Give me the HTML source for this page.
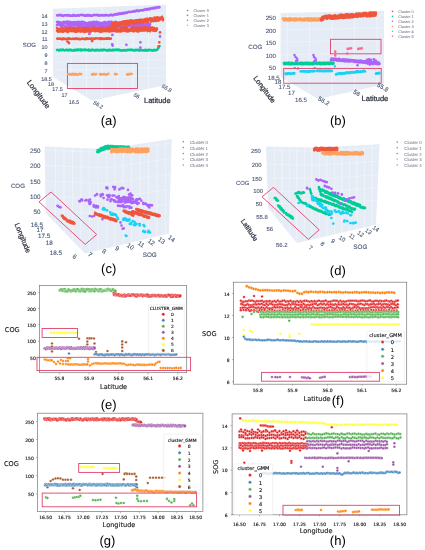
<!DOCTYPE html>
<html><head><meta charset="utf-8"><style>
html,body{margin:0;padding:0;background:#fff;}
svg{display:block;} text{text-rendering:geometricPrecision;}
</style></head><body>
<svg width="425" height="550" viewBox="0 0 425 550">
<defs><filter id="b" x="0" y="0" width="100%" height="100%"><feGaussianBlur stdDeviation="0.45"/></filter></defs><g filter="url(#b)"><rect width="425" height="550" fill="#fff"/>
<polygon points="53,8.8 166,4.5 166,85 92,100.5 53,77" fill="#E5ECF6" stroke="none" stroke-width="0"/>
<line x1="71" y1="8.1" x2="71" y2="87.8" stroke="#fff" stroke-width="0.5" opacity="0.75"/>
<line x1="86.6" y1="7.5" x2="86.6" y2="97.2" stroke="#fff" stroke-width="0.5" opacity="0.75"/>
<line x1="102" y1="6.9" x2="102" y2="98.4" stroke="#fff" stroke-width="0.5" opacity="0.75"/>
<line x1="117.5" y1="6.3" x2="117.5" y2="95.1" stroke="#fff" stroke-width="0.5" opacity="0.75"/>
<line x1="133" y1="5.8" x2="133" y2="91.9" stroke="#fff" stroke-width="0.5" opacity="0.75"/>
<line x1="148.5" y1="5.2" x2="148.5" y2="88.6" stroke="#fff" stroke-width="0.5" opacity="0.75"/>
<line x1="53" y1="15.5" x2="166" y2="13" stroke="#fff" stroke-width="0.4" opacity="0.7"/>
<line x1="53" y1="23.3" x2="166" y2="20.8" stroke="#fff" stroke-width="0.4" opacity="0.7"/>
<line x1="53" y1="31.2" x2="166" y2="28.7" stroke="#fff" stroke-width="0.4" opacity="0.7"/>
<line x1="53" y1="39" x2="166" y2="36.5" stroke="#fff" stroke-width="0.4" opacity="0.7"/>
<line x1="53" y1="46.8" x2="166" y2="44.3" stroke="#fff" stroke-width="0.4" opacity="0.7"/>
<line x1="53" y1="54.6" x2="166" y2="52.1" stroke="#fff" stroke-width="0.4" opacity="0.7"/>
<line x1="53" y1="62.5" x2="166" y2="60" stroke="#fff" stroke-width="0.4" opacity="0.7"/>
<line x1="53" y1="70.3" x2="166" y2="67.8" stroke="#fff" stroke-width="0.4" opacity="0.7"/>
<line x1="53" y1="78.1" x2="166" y2="75.6" stroke="#fff" stroke-width="0.4" opacity="0.7"/>
<text x="47.5" y="17.91" font-size="5.4" fill="#4a5876" text-anchor="end" font-family="Liberation Sans" stroke="#4a5876" stroke-width="0.12">14</text>
<text x="47.5" y="25.74" font-size="5.4" fill="#4a5876" text-anchor="end" font-family="Liberation Sans" stroke="#4a5876" stroke-width="0.12">13</text>
<text x="47.5" y="33.57" font-size="5.4" fill="#4a5876" text-anchor="end" font-family="Liberation Sans" stroke="#4a5876" stroke-width="0.12">12</text>
<text x="47.5" y="41.4" font-size="5.4" fill="#4a5876" text-anchor="end" font-family="Liberation Sans" stroke="#4a5876" stroke-width="0.12">11</text>
<text x="47.5" y="49.23" font-size="5.4" fill="#4a5876" text-anchor="end" font-family="Liberation Sans" stroke="#4a5876" stroke-width="0.12">10</text>
<text x="47.5" y="57.06" font-size="5.4" fill="#4a5876" text-anchor="end" font-family="Liberation Sans" stroke="#4a5876" stroke-width="0.12">9</text>
<text x="47.5" y="64.89" font-size="5.4" fill="#4a5876" text-anchor="end" font-family="Liberation Sans" stroke="#4a5876" stroke-width="0.12">8</text>
<text x="47.5" y="72.72" font-size="5.4" fill="#4a5876" text-anchor="end" font-family="Liberation Sans" stroke="#4a5876" stroke-width="0.12">7</text>
<text x="22.7" y="46.99" font-size="6" fill="#4a5876" font-family="Liberation Sans" stroke="#4a5876" stroke-width="0.12">SOG</text>
<text x="29" y="83.64" font-size="7.6" fill="#2b2f3e" font-family="Liberation Sans" transform="rotate(53 29 80.5)" stroke="#2b2f3e" stroke-width="0.22">Longitude</text>
<text x="46.5" y="81.31" font-size="5.4" fill="#4a5876" text-anchor="middle" font-family="Liberation Sans" stroke="#4a5876" stroke-width="0.12">18.5</text>
<text x="51" y="86.11" font-size="5.4" fill="#4a5876" text-anchor="middle" font-family="Liberation Sans" stroke="#4a5876" stroke-width="0.12">18</text>
<text x="57.5" y="91.31" font-size="5.4" fill="#4a5876" text-anchor="middle" font-family="Liberation Sans" stroke="#4a5876" stroke-width="0.12">17.5</text>
<text x="64.5" y="96.81" font-size="5.4" fill="#4a5876" text-anchor="middle" font-family="Liberation Sans" stroke="#4a5876" stroke-width="0.12">17</text>
<text x="74" y="104.31" font-size="5.4" fill="#4a5876" text-anchor="middle" font-family="Liberation Sans" stroke="#4a5876" stroke-width="0.12">16.5</text>
<text x="98.5" y="106.81" font-size="5.4" fill="#4a5876" text-anchor="middle" font-family="Liberation Sans" transform="rotate(30 98.5 104.5)" stroke="#4a5876" stroke-width="0.12">56.2</text>
<text x="137" y="97.81" font-size="5.4" fill="#4a5876" text-anchor="middle" font-family="Liberation Sans" transform="rotate(30 137 95.5)" stroke="#4a5876" stroke-width="0.12">56</text>
<text x="167" y="90.31" font-size="5.4" fill="#4a5876" text-anchor="middle" font-family="Liberation Sans" transform="rotate(30 167 88)" stroke="#4a5876" stroke-width="0.12">55.8</text>
<text x="144" y="102.61" font-size="7.5" fill="#2b2f3e" font-family="Liberation Sans" stroke="#2b2f3e" stroke-width="0.22">Latitude</text>
<path d="M57 15.3h0M57.6 15.6h0M58.2 15.5h0M58.8 15.1h0M59.4 15.1h0M60 15.1h0M60.6 15.4h0M61.2 15.1h0M61.8 15.6h0M62.4 15.5h0M63 15.9h0M63.6 15.8h0M64.2 15.2h0M64.8 15.3h0M65.4 15.2h0M66 15.6h0M66.6 15.5h0M67.2 15.1h0M67.8 15.6h0M68.4 15.3h0M69 15.4h0M69.6 15.7h0M70.2 15.2h0M70.8 15.5h0M71.4 15.7h0M72 15.9h0M72.6 15.4h0M73.2 15.1h0M73.8 15h0M74.4 15.7h0M75 15.8h0M75.6 15.6h0M76.2 15.5h0M76.8 15.7h0M77.4 15.4h0M78 15h0M78.6 15.6h0M79.2 15.7h0M79.8 15.3h0M80.4 15h0M81 15.1h0M81.6 15h0M82.2 15.1h0M82.8 15.3h0M83.4 15h0M84 15.4h0M84.6 15.7h0M85.2 15.2h0M85.8 15.3h0M86.4 15.8h0M87 15.1h0M87.6 15.1h0M88.2 15.5h0M88.8 14.9h0M89.4 15.3h0M90 15.8h0M90.6 15.4h0M91.2 15.5h0M91.8 15.7h0M92.4 15.7h0M93 15.3h0M93.6 15h0M94.2 15h0M94.8 15.1h0M95.4 15.2h0M96 14.9h0M96.6 15h0M97.2 14.9h0M97.8 15.4h0M98.4 15.1h0M99 15.2h0M99.6 15.7h0M100.2 15.3h0M100.8 15h0M101.4 15.2h0M102 15.6h0M102.6 14.9h0M103.2 15.4h0M103.8 15.4h0M104.4 15.3h0M105 15.6h0M105.6 15.1h0M106.2 15h0M106.8 15.3h0M107.4 15.2h0M108 15.6h0M108.6 15.6h0M109.2 15.6h0M109.8 15.1h0M110.4 15.1h0M111 14.7h0M111.6 14.8h0M112.2 15.4h0M112.8 15.2h0M113.4 15.2h0M114 14.4h0M114.6 14.3h0M115.2 14.6h0M115.8 14.7h0M116.4 14.4h0M117 13.8h0M117.6 14.4h0M118.2 14.2h0M118.8 13.6h0M119.4 13.6h0M120 14.1h0M120.6 13.5h0M121.2 13.7h0M121.8 13.1h0M122.4 13.7h0M123 12.9h0M123.6 13.5h0M124.2 12.9h0M124.8 12.6h0M125.4 13.2h0M126 12.7h0M126.6 12.6h0M127.2 12.8h0M127.8 12.2h0M128.4 12.1h0M129 12h0M129.6 11.8h0M130.2 11.9h0M130.8 12h0M131.4 11.8h0M132 11.7h0M132.6 11.7h0M133.2 11.5h0M133.8 11h0M134.4 11.1h0M135 11.5h0M135.6 11h0M136.2 11.1h0M136.8 10.6h0M137.4 10.6h0M138 11h0M138.6 10.7h0M139.2 10.9h0M139.8 10.6h0M140.4 10.4h0M141 10.2h0M141.6 10.2h0M142.2 10.3h0M142.8 10.4h0M143.4 9.9h0M144 10.1h0M144.6 9.4h0M145.2 9.2h0M145.8 9.1h0M146.4 9.7h0M147 9h0M147.6 9.4h0M148.2 9.5h0M148.8 8.8h0M149.4 8.8h0M150 9.3h0M150.6 8.4h0M151.2 8.6h0M151.8 8.3h0M152.4 8.6h0M153 8.4h0M153.6 7.8h0M154.2 8.3h0M154.8 7.7h0M155.4 8.2h0M156 7.5h0M156.6 7.3h0M157.2 7.4h0M157.8 7.5h0M158.4 7.7h0M159 7h0M159.6 7.3h0" stroke="#AB63FA" stroke-width="2.50" stroke-linecap="round" fill="none"/>
<path d="M57 22.1h0M57 25.1h0M57.5 22.1h0M57.5 24.9h0M58 22.1h0M58 22h0M58.5 24h0M58.5 24.5h0M59 23h0M59 24.3h0M59.5 22.2h0M59.5 22h0M60 23.3h0M60 25.5h0M60.5 24.2h0M60.5 23.4h0M61 23h0M61 25.4h0M61.5 22.6h0M61.5 26.4h0M62 25.8h0M62 24.2h0M62.5 23.7h0M62.5 25.1h0M63 23.4h0M63 25.2h0M63.5 23.7h0M63.5 22h0M64 22.1h0M64 23h0M64.5 22.1h0M64.5 26.1h0M65 23.1h0M65 23.2h0M65.5 22.5h0M65.5 23h0M66 26.6h0M66 22.9h0M66.5 23.2h0M66.5 21.7h0M67 24.1h0M67 22.7h0M67.5 21.7h0M67.5 22.1h0M68 21.9h0M68 23.2h0M68.5 24.6h0M68.5 25.5h0M69 25.3h0M69 23.6h0M69.5 26.6h0M69.5 25.3h0M70 21.9h0M70 26.2h0M70.5 25.4h0M70.5 22.4h0M71 24.2h0M71 25.7h0M71.5 24.6h0M71.5 25.1h0M72 22.8h0M72 22.4h0M72.5 22.2h0M72.5 24.5h0M73 24.8h0M73 24.1h0M73.5 25.7h0M73.5 24.2h0M74 25h0M74 25.4h0M74.5 22.1h0M74.5 25.3h0M75 25.4h0M75 24.2h0M75.5 24.1h0M75.5 25.5h0M76 24.9h0M76 22.4h0M76.5 25.4h0M76.5 24.5h0M77 22h0M77 25.1h0M77.5 25.1h0M77.5 24.3h0M78 24h0M78 26.2h0M78.5 26.6h0M78.5 21.8h0M79 25.8h0M79 23.9h0M79.5 22.7h0M79.5 22.8h0M80 22.4h0M80 26.5h0M80.5 25.8h0M80.5 26.1h0M81 22.9h0M81 24.1h0M81.5 21.7h0M81.5 24h0M82 22.4h0M82 23.3h0M82.5 21.7h0M82.5 25.9h0M83 26.3h0M83 26.2h0M83.5 23.6h0M83.5 26.7h0M84 23.5h0M84 23.1h0M84.5 22.2h0M84.5 23.1h0M85 22.9h0M85 24.3h0M85.5 23.6h0M85.5 26.1h0M86 24.9h0M86 26.4h0M86.5 25.3h0M86.5 25.4h0M87 25.5h0M87 23.1h0M87.5 26.3h0M87.5 24.1h0M88 23.2h0M88 26.6h0M88.5 25h0M88.5 24.5h0M89 22.5h0M89 22.7h0M89.5 24.2h0M89.5 26.2h0M90 23.9h0M90 22.7h0M90.5 23.4h0M90.5 22.9h0M91 24.5h0M91 25.4h0M91.5 23.8h0M91.5 23.6h0M92 22h0M92 26.5h0M92.5 24.2h0M92.5 26h0M93 23.1h0M93 23.7h0M93.5 26.5h0M93.5 26.1h0M94 21.9h0M94 26.2h0M94.5 24.6h0M94.5 23.7h0M95 25.8h0M95 26.6h0M95.5 22.2h0M95.5 24.3h0M96 26.4h0M96 24.9h0M96.5 24h0M96.5 21.9h0M97 22.9h0M97 24.9h0M97.5 22.3h0M97.5 24.9h0M98 22.3h0M98 24.3h0M98.5 23.6h0M98.5 24.7h0M99 23.2h0M99 26.5h0M99.5 26.1h0M99.5 22.9h0M100 26.5h0M100 23.2h0M100.5 24.2h0M100.5 23.8h0M101 25h0M101 22.8h0M101.5 23.4h0M101.5 25.1h0M102 25.7h0M102 24.2h0M102.5 26.5h0M102.5 25.8h0M103 22.8h0M103 23.2h0M103.5 24.2h0M103.5 22.8h0M104 25h0M104 22.4h0M104.5 22.8h0M104.5 22.4h0M105 22h0M105 26.2h0M105.5 25.4h0M105.5 26.4h0M106 22.6h0M106 25.4h0M106.5 25h0M106.5 23.6h0M107 22.5h0M107 23.1h0M107.5 26.5h0M107.5 26.5h0M108 23.5h0M108 25.8h0M108.5 21.9h0M108.5 23.6h0M109 22.7h0M109 26.2h0M109.5 23.8h0M109.5 25.5h0M110 21.9h0M110 26.3h0M110.5 25.4h0M110.5 23.4h0M111 26.5h0M111 23h0M111.5 23.3h0M111.5 21.7h0M112 26.3h0M112 26.4h0M112.5 22.9h0M112.5 26.5h0M113 23.6h0M113 23.8h0M113.5 26.3h0M113.5 25.7h0M114 25.8h0M114 24.7h0M114.5 23.3h0M114.5 25.6h0M115 22.7h0M115 22.9h0M115.5 21.9h0M115.5 23.4h0M116 26.2h0M116 23.1h0M116.5 22.3h0M116.5 25.3h0M117 23h0M117 24.9h0M117.5 25.6h0M117.5 25.2h0M118 26.1h0M118 24.7h0M118.5 25.6h0M118.5 23.1h0M119 22.7h0M119 24.8h0M119.5 23.9h0M119.5 24.5h0M120 26h0M120 26.9h0M120.5 24.4h0M120.5 26.2h0M121 22.2h0M121 22.6h0M121.5 26.9h0M121.5 26.7h0M122 26.4h0M122 23.4h0M122.5 26.8h0M122.5 25.1h0M123 23.2h0M123 22.8h0M123.5 23.4h0M123.5 25.4h0M124 22.2h0M124 25.6h0M124.5 23.7h0M124.5 26.2h0M125 22.5h0M125 24.2h0M125.5 25.4h0M125.5 23.1h0M126 24.3h0M126 23.8h0M126.5 23.9h0M126.5 24.1h0M127 26.6h0M127 24.1h0M127.5 26h0M127.5 22.4h0M128 24.5h0M128 24.4h0M128.5 24.7h0M128.5 22.5h0M129 25.6h0M129 22.9h0M129.5 24.3h0M129.5 23.2h0M130 25.1h0M130 23h0M130.5 26.5h0M130.5 23.5h0M131 27.2h0M131 24.9h0M131.5 27.2h0M131.5 27.1h0M132 26.7h0M132 26.5h0M132.5 24.6h0M132.5 26.7h0M133 23.7h0M133 25.2h0M133.5 23.3h0M133.5 26.3h0M134 22.9h0M134 26.5h0M134.5 26.9h0M134.5 25.7h0M135 25.9h0M135 24.8h0M135.5 24.9h0M135.5 25h0M136 22.9h0M136 25.2h0M136.5 26.6h0M136.5 25.1h0M137 25.2h0M137 23.5h0M137.5 23.3h0M137.5 25.4h0M138 26.1h0M138 26.6h0M138.5 25.5h0M138.5 25.4h0M139 27.7h0M139 27.2h0M139.5 26.6h0M139.5 23.9h0M140 25.4h0M140 27.6h0M140.5 27h0M140.5 23.3h0M141 26.8h0M141 27.5h0M141.5 27.1h0M141.5 25.6h0M142 24.1h0M142 25.6h0M142.5 23.3h0M142.5 23.9h0M143 26.5h0M143 24h0M143.5 23.7h0M143.5 26.3h0M144 27.6h0M144 26.1h0M144.5 23.7h0M144.5 26.4h0M145 27.2h0M145 28.2h0M145.5 25.1h0M145.5 25.5h0M146 27h0M146 27.4h0M146.5 26.5h0M146.5 26.2h0M147 24.9h0M147 23.5h0M147.5 26.5h0M147.5 25.9h0M148 24.1h0M148 26.7h0M148.5 23.4h0M148.5 24h0M149 24.6h0M149 26.4h0M149.5 26.6h0M149.5 24.1h0M150 24.7h0M150 24h0" stroke="#AB63FA" stroke-width="2.60" stroke-linecap="round" fill="none"/>
<path d="M112 26h0M112 24.2h0M112.5 22.7h0M112.5 24.8h0M113 25h0M113 26.1h0M113.5 23.5h0M113.5 22.7h0M114 24h0M114 22.7h0M114.5 22.4h0M114.5 26h0M115 23.1h0M115 24.3h0M115.5 25.4h0M115.5 23.5h0M116 22.4h0M116 25.2h0M116.5 22.2h0M116.5 25h0M117 24.9h0M117 23h0M117.5 22.9h0M117.5 23.3h0M118 24.6h0M118 24.7h0M118.5 24h0M118.5 24.9h0M119 22.9h0M119 25.5h0M119.5 25.1h0M119.5 22.8h0M120 24.6h0M120 24.6h0M120.5 25h0M120.5 22.6h0M121 24h0M121 24.2h0M121.5 23.3h0M121.5 24.2h0M122 23.2h0M122 23.7h0M122.5 22.2h0M122.5 21.7h0M123 21.9h0M123 21.8h0M123.5 22.6h0M123.5 21.4h0M124 23.9h0M124 23.9h0M124.5 21.5h0M124.5 22.6h0M125 24.3h0M125 21.4h0M125.5 24.6h0M125.5 21.5h0M126 21.5h0M126 24.2h0M126.5 23.4h0M126.5 23.4h0M127 21.3h0M127 23.8h0M127.5 22.1h0M127.5 20.9h0M128 21.9h0M128 22.2h0M128.5 24.4h0M128.5 24h0M129 20.8h0M129 22.3h0M129.5 21.9h0M129.5 22.7h0M130 23.8h0M130 23.7h0M130.5 20.5h0M130.5 23.4h0M131 20.4h0M131 22.3h0M131.5 21.1h0M131.5 21.7h0M132 21.3h0M132 21.4h0M132.5 22.9h0M132.5 20.7h0M133 20.5h0M133 22.8h0M133.5 22.5h0M133.5 21.7h0M134 23.5h0M134 23.4h0M134.5 20.8h0M134.5 23.4h0M135 21.4h0M135 20.8h0M135.5 21.9h0M135.5 22.8h0M136 21.2h0M136 20.4h0M136.5 22.3h0M136.5 20.4h0M137 22.6h0M137 20.2h0M137.5 23h0M137.5 20.4h0M138 22.3h0M138 20.2h0M138.5 20.5h0M138.5 21.5h0M139 20.7h0M139 23.2h0M139.5 19.8h0M139.5 19.8h0M140 23.1h0M140 22.1h0M140.5 20h0M140.5 19.7h0M141 20.7h0M141 20.7h0M141.5 21.8h0M141.5 21.6h0M142 19.7h0M142 20.6h0M142.5 22.5h0M142.5 21.2h0M143 20.6h0M143 21.7h0M143.5 21.9h0M143.5 22.2h0M144 21.3h0M144 20.1h0M144.5 19.2h0M144.5 21.8h0M145 21.1h0M145 20.4h0M145.5 21.1h0M145.5 21.3h0M146 19.3h0M146 21.6h0M146.5 20.4h0M146.5 18.7h0M147 19.1h0M147 22.1h0M147.5 18.8h0M147.5 20.5h0M148 20.3h0M148 21.5h0M148.5 19.9h0M148.5 19.1h0M149 19.8h0M149 18.7h0M149.5 19.6h0M149.5 19.3h0M150 18.2h0M150 19.8h0M150.5 19.4h0M150.5 18.9h0M151 21.6h0M151 18.9h0M151.5 19.5h0M151.5 18.5h0M152 21h0M152 19.7h0M152.5 18.7h0M152.5 19.2h0M153 20.9h0M153 19.6h0M153.5 19.8h0M153.5 20.9h0M154 20.9h0M154 19.1h0M154.5 19.2h0M154.5 17.6h0M155 18.6h0M155 18.7h0M155.5 19.1h0M155.5 20h0M156 21h0M156 17.7h0M156.5 20.8h0M156.5 17.9h0M157 19.7h0M157 17.4h0M157.5 19.8h0M157.5 17.6h0M158 18.1h0M158 18.5h0M158.5 20.6h0M158.5 17.8h0M159 19.4h0M159 19.6h0M159.5 20h0M159.5 17.8h0M160 19h0M160 18.6h0M160.5 19h0M160.5 17.8h0M161 18.7h0M161 18.6h0M161.5 18.6h0M161.5 18.8h0M162 16.7h0M162 18.5h0M162.5 19.2h0M162.5 18.1h0M163 20.3h0M163 19h0" stroke="#EF553B" stroke-width="2.60" stroke-linecap="round" fill="none"/>
<path d="M57 28h0M57 30.8h0M57.5 29.3h0M57.5 30h0M58 31.7h0M58 30.9h0M58.5 29.3h0M58.5 29.4h0M59 30.1h0M59 28.8h0M59.5 29.7h0M59.5 31.4h0M60 31.4h0M60 30h0M60.5 30h0M60.5 30.6h0M61 29.3h0M61 29.1h0M61.5 30.5h0M61.5 28h0M62 31.6h0M62 28.1h0M62.5 27.9h0M62.5 31.7h0M63 30.6h0M63 31.7h0M63.5 30.4h0M63.5 30.8h0M64 30.7h0M64 30.6h0M64.5 31h0M64.5 28.6h0M65 31.1h0M65 30.6h0M65.5 31.3h0M65.5 30.2h0M66 29.1h0M66 29.2h0M66.5 30.5h0M66.5 28.1h0M67 28h0M67 31.2h0M67.5 31.7h0M67.5 27.9h0M68 30.3h0M68 31.9h0M68.5 29.5h0M68.5 30.5h0M69 28.4h0M69 27.8h0M69.5 28.3h0M69.5 28.2h0M70 28.3h0M70 30.8h0M70.5 30.9h0M70.5 28h0M71 30.8h0M71 30.9h0M71.5 30.4h0M71.5 29.7h0M72 28.8h0M72 30.8h0M72.5 27.8h0M72.5 31.2h0M73 29.1h0M73 28.5h0M73.5 29.8h0M73.5 29.3h0M74 29.6h0M74 28.4h0M74.5 29.3h0M74.5 30.4h0M75 29.4h0M75 31.7h0M75.5 30.1h0M75.5 28h0M76 30.7h0M76 29.1h0M76.5 31.8h0M76.5 30.3h0M77 29.5h0M77 29.3h0M77.5 30.3h0M77.5 31.1h0M78 27.7h0M78 29.5h0M78.5 31.2h0M78.5 27.9h0M79 31.1h0M79 30.1h0M79.5 31.3h0M79.5 30.6h0M80 29.2h0M80 30h0M80.5 28.6h0M80.5 31.6h0M81 30.3h0M81 29.7h0M81.5 28.8h0M81.5 31h0M82 28.1h0M82 30.9h0M82.5 30.1h0M82.5 31.4h0M83 29.7h0M83 28.5h0M83.5 28.4h0M83.5 29.2h0M84 29.4h0M84 28.3h0M84.5 31.9h0M84.5 28.1h0M85 31h0M85 30.2h0M85.5 29.9h0M85.5 27.8h0M86 31.3h0M86 30.1h0M86.5 30.9h0M86.5 31.6h0M87 31.1h0M87 28.7h0M87.5 28.5h0M87.5 28h0M88 30h0M88 29.6h0M88.5 31.5h0M88.5 30.2h0M89 28.1h0M89 28.7h0M89.5 30.3h0M89.5 30.5h0M90 29.5h0M90 31.7h0M90.5 28.6h0M90.5 28.7h0M91 31.4h0M91 31.1h0M91.5 30.9h0M91.5 30.3h0M92 27.9h0M92 30.8h0M92.5 30.5h0M92.5 30.1h0M93 28.1h0M93 28.7h0M93.5 29.6h0M93.5 28.6h0M94 30.5h0M94 30.6h0M94.5 27.8h0M94.5 28.5h0M95 31.2h0M95 28.2h0M95.5 28h0M95.5 31.1h0M96 29.5h0M96 31h0M96.5 30.2h0M96.5 28.5h0M97 30.6h0M97 28.2h0M97.5 28.7h0M97.5 28.2h0M98 31.1h0M98 28.3h0M98.5 28.9h0M98.5 28h0M99 27.8h0M99 30.4h0M99.5 29.6h0M99.5 28.6h0M100 29.1h0M100 31.7h0M100.5 28h0M100.5 31.3h0M101 30.6h0M101 31.7h0M101.5 30.9h0M101.5 28.1h0M102 31h0M102 28.3h0M102.5 31.4h0M102.5 29.9h0M103 28.3h0M103 30.5h0M103.5 27.9h0M103.5 30.1h0M104 28.7h0M104 30.1h0M104.5 30.9h0M104.5 28.4h0M105 30.6h0M105 30.5h0M105.5 30.9h0M105.5 31h0M106 29.6h0M106 31.3h0M106.5 31.2h0M106.5 28.3h0M107 29h0M107 29.1h0M107.5 27.5h0M107.5 29.4h0M108 28h0M108 30.9h0M108.5 28.8h0M108.5 29.1h0M109 27.7h0M109 31.5h0M109.5 29.6h0M109.5 29.7h0M110 31.5h0M110 28.2h0M110.5 28.5h0M110.5 27.6h0M111 30.4h0M111 27.5h0M111.5 29.9h0M111.5 30.4h0M112 31.1h0M112 27.6h0M112.5 29.5h0M112.5 28.6h0M113 29.2h0M113 29.9h0M113.5 28.1h0M113.5 30.6h0M114 30.9h0M114 29.1h0M114.5 31h0M114.5 29.1h0M115 30.7h0M115 28.4h0M115.5 29.3h0M115.5 30.8h0M116 30.9h0M116 27.7h0M116.5 31.4h0M116.5 28.5h0M117 30.1h0M117 29.6h0M117.5 29.2h0M117.5 27.5h0M118 31.5h0M118 31.3h0M118.5 30.8h0M118.5 31.1h0M119 30.1h0M119 30.3h0M119.5 29.7h0M119.5 30h0M120 29.6h0M120 31.4h0M120.5 28.7h0M120.5 27.9h0M121 31.4h0M121 28.5h0M121.5 29.6h0M121.5 27.9h0M122 28.6h0M122 28.6h0M122.5 27.7h0M122.5 30.9h0M123 29.8h0M123 28.2h0M123.5 29.3h0M123.5 29.9h0M124 28.7h0M124 28.3h0M124.5 29h0M124.5 27.4h0M125 31h0M125 29.7h0M125.5 28.5h0M125.5 28.6h0M126 28h0M126 31h0M126.5 27.6h0M126.5 29.2h0M127 27.8h0M127 31.4h0M127.5 28h0M127.5 28.8h0M128 29.9h0M128 30.8h0M128.5 30.4h0M128.5 30.5h0M129 30.6h0M129 31.2h0M129.5 31h0M129.5 30.5h0M130 29.4h0M130 29.7h0M130.5 30.6h0M130.5 29.9h0M131 29.2h0M131 30.3h0M131.5 28.9h0M131.5 28.9h0M132 30.6h0M132 29.4h0M132.5 28.1h0M132.5 27.9h0M133 29.7h0M133 31.2h0M133.5 30.8h0M133.5 31.3h0M134 29.1h0M134 27.3h0M134.5 29.7h0M134.5 31.1h0M135 29.5h0M135 29.4h0M135.5 30.1h0M135.5 28.8h0M136 28.7h0M136 30.1h0M136.5 27.7h0M136.5 28.9h0M137 29.7h0M137 31.3h0M137.5 29.1h0M137.5 31.4h0M138 29.5h0M138 28h0M138.5 31.4h0M138.5 29.4h0M139 31h0M139 30.7h0M139.5 31h0M139.5 27.9h0M140 29.4h0M140 28h0M140.5 29.9h0M140.5 28.7h0M141 29.9h0M141 29h0M141.5 28.5h0M141.5 27.2h0M142 30.8h0M142 30h0M142.5 29.3h0M142.5 28.3h0M143 29.4h0M143 29.6h0M143.5 27.7h0M143.5 30.4h0M144 27.6h0M144 29.4h0M144.5 29.8h0M144.5 27.5h0M145 30.4h0M145 30.2h0M145.5 27.9h0M145.5 27.6h0M146 29.6h0M146 29.1h0M146.5 27.4h0M146.5 29.6h0M147 29h0M147 28.2h0M147.5 31.1h0M147.5 28.5h0M148 30.6h0M148 29.7h0M148.5 29.2h0M148.5 28.2h0M149 30.2h0M149 28.5h0M149.5 29.2h0M149.5 28.2h0M150 28.7h0M150 31.2h0M150.5 29.5h0M150.5 29.4h0M151 28.8h0M151 27.7h0M151.5 28.6h0M151.5 27.9h0M152 28.1h0M152 29.9h0M152.5 27.8h0M152.5 27.5h0M153 30.6h0M153 29h0M153.5 30.5h0M153.5 28.6h0M154 28.7h0M154 28h0M154.5 29.2h0M154.5 29h0M155 30.1h0M155 30.9h0M155.5 28.7h0M155.5 29.7h0M156 30.8h0M156 29.3h0M156.5 28.2h0M156.5 28.7h0M157 29.5h0M157 28.7h0" stroke="#EF553B" stroke-width="2.60" stroke-linecap="round" fill="none"/>
<path d="M57 38.6h0M57.6 38.7h0M58.2 38.5h0M58.8 38.8h0M59.4 38.7h0M60 38.7h0M60.6 38.5h0M61.2 38.7h0M61.8 39.2h0M62.4 39.2h0M63 38.5h0M63.6 38.4h0M64.2 39h0M64.8 38.8h0M65.4 39h0M66 39.2h0M66.6 39h0M67.2 38.5h0M67.8 39.1h0M68.4 38.4h0M69 38.5h0M69.6 38.7h0M70.2 38.4h0M70.8 38.9h0M71.4 39.1h0M72 39h0M72.6 38.8h0M73.2 38.7h0M73.8 39.1h0M74.4 38.6h0M75 39.1h0M75.6 38.4h0M76.2 38.4h0M76.8 38.5h0M77.4 39h0M78 39h0M78.6 39h0M79.2 38.6h0M79.8 39.2h0M80.4 39.2h0M81 39h0M81.6 38.9h0M82.2 38.4h0M82.8 38.7h0M83.4 39.1h0M84 39h0M84.6 38.9h0M85.2 38.5h0M85.8 39.2h0M86.4 38.8h0M87 38.3h0M87.6 38.7h0M88.2 38.6h0M88.8 38.9h0M89.4 38.5h0M90 38.7h0M90.6 39.1h0M91.2 38.5h0M91.8 38.4h0M92.4 38.6h0M93 38.7h0M93.6 38.4h0M94.2 38.8h0M94.8 38.9h0M95.4 38.3h0M96 38.6h0M96.6 38.3h0M97.2 38.4h0M97.8 38.6h0M98.4 38.5h0M99 38.5h0M99.6 38.3h0M100.2 39.1h0M100.8 38.3h0M101.4 39.1h0M102 38.3h0M102.6 38.6h0M103.2 38.7h0M103.8 39h0M104.4 38.8h0M105 38.8h0M105.6 38.4h0M106.2 38.2h0M106.8 38.9h0M107.4 38.3h0M108 38.9h0M108.6 38.3h0M109.2 38.9h0M109.8 38.5h0M110.4 38.9h0M111 38.5h0" stroke="#EF553B" stroke-width="2.40" stroke-linecap="round" fill="none"/>
<path d="M57 49.9h0M57.6 49.7h0M58.2 50.1h0M58.8 50.4h0M59.4 50.5h0M60 50h0M60.6 49.6h0M61.2 50.1h0M61.8 50.2h0M62.4 49.9h0M63 49.6h0M63.6 49.9h0M64.2 50.3h0M64.8 50.4h0M65.4 50.3h0M66 49.8h0M66.6 50h0M67.2 49.8h0M67.8 50.2h0M68.4 50.5h0M69 49.8h0M69.6 50.1h0M70.2 49.7h0M70.8 49.8h0M71.4 50.5h0M72 50.4h0M72.6 50.5h0M73.2 50.4h0M73.8 50.2h0M74.4 49.8h0M75 50.5h0M75.6 50.2h0M76.2 49.9h0M76.8 49.5h0M77.4 50.2h0M78 49.6h0M78.6 49.9h0M79.2 50h0M79.8 50.1h0M80.4 49.6h0M81 50.5h0M81.6 49.6h0M82.2 49.8h0M82.8 50.1h0M83.4 50h0M84 49.8h0M84.6 49.6h0M85.2 50.2h0M85.8 50h0M86.4 50h0M87 50.1h0M87.6 50.3h0M88.2 50.6h0M88.8 49.6h0M89.4 50h0M90 50.6h0M90.6 50.4h0M91.2 50.4h0M91.8 49.8h0M92.4 49.5h0M93 49.8h0M93.6 50.3h0M94.2 50.5h0M94.8 50.5h0M95.4 50.5h0M96 49.7h0M96.6 49.9h0M97.2 50.3h0M97.8 49.7h0M98.4 50.4h0M99 50.3h0M99.6 50.2h0M100.2 50.1h0M100.8 49.7h0M101.4 50.3h0M102 49.8h0M102.6 50.5h0M103.2 49.7h0M103.8 49.7h0M104.4 49.8h0M105 49.9h0M105.6 50h0M106.2 50.5h0M106.8 50.3h0M107.4 50.6h0M108 49.9h0M108.6 50.1h0M109.2 50.4h0M109.8 49.8h0M110.4 50.3h0M111 50.1h0M111.6 50.5h0M112.2 50.5h0M112.8 49.7h0M113.4 49.8h0M114 50.2h0M114.6 49.8h0M115.2 50.1h0M115.8 50h0M116.4 49.6h0M117 49.9h0M117.6 50.1h0M118.2 49.6h0M118.8 50.3h0M119.4 49.9h0M120 49.9h0M120.6 50.2h0M121.2 50.7h0M121.8 50.2h0M122.4 50.6h0M123 50.3h0M123.6 50h0M124.2 50.5h0M124.8 50.6h0M125.4 49.9h0M126 50.4h0M126.6 50.3h0M127.2 50.2h0M127.8 49.7h0M128.4 50h0M129 50.1h0M129.6 49.9h0M130.2 50h0M130.8 49.6h0M131.4 50.1h0M132 50.2h0M132.6 49.8h0M133.2 49.9h0M133.8 50.4h0M134.4 50.6h0M135 50.6h0M135.6 49.7h0M136.2 50.3h0M136.8 50h0M137.4 50.1h0M138 49.7h0M138.6 50.6h0M139.2 49.9h0M139.8 49.8h0M140.4 50.4h0M141 50.1h0M141.6 50.3h0M142.2 50.3h0M142.8 50.4h0M143.4 50.3h0M144 50.5h0M144.6 50h0M145.2 49.8h0M145.8 50.6h0M146.4 50.7h0M147 50h0M147.6 50.4h0M148.2 50.4h0M148.8 49.7h0M149.4 49.7h0M150 50h0M150.6 50.3h0M151.2 50.1h0M151.8 50.6h0M152.4 50.7h0M153 50.2h0M153.6 49.9h0M154.2 49.7h0M154.8 50.4h0M155.4 50.4h0M156 50.1h0M156.6 50.1h0M157.2 49.8h0M157.8 48.9h0M158.4 47.9h0M159 47h0M159.6 46h0" stroke="#00CC96" stroke-width="2.50" stroke-linecap="round" fill="none"/>
<path d="M89.4 33.9h0M112.4 34.9h0M112.6 45.5h0M112.2 44.3h0M126.4 44.8h0M140.4 42.3h0M140.4 47.7h0M160 36.5h0" stroke="#AB63FA" stroke-width="2.80" stroke-linecap="round" fill="none"/>
<path d="M67.5 41.6h0M69 43h0M92.2 41h0M160 32.4h0M159.3 42.3h0M158.5 46.4h0" stroke="#EF553B" stroke-width="2.80" stroke-linecap="round" fill="none"/>
<rect x="67.4" y="63.4" width="70.1" height="25.1" fill="none" stroke="#E2406B" stroke-width="0.9"/>
<path d="M68 74.3h0M68.6 74.3h0M69.2 73.9h0M69.8 74.3h0M70.4 74.6h0M71 74.8h0M71.6 74.6h0M72.2 73.8h0M72.8 73.9h0M73.4 74.4h0M74 74.7h0M74.6 73.9h0M75.2 74.5h0M75.8 74h0M76.4 74.6h0M77 74.8h0M77.6 74.4h0M78.2 74.6h0M78.8 74.1h0M79.4 73.9h0M80 73.9h0M80.6 74.2h0M81.2 73.9h0" stroke="#FFA15A" stroke-width="2.40" stroke-linecap="round" fill="none"/>
<path d="M92 74.2h0M92.6 74.7h0M93.2 74h0M93.8 74.1h0M94.4 74h0M95 74.6h0M95.6 74.1h0M96.2 74h0" stroke="#FFA15A" stroke-width="2.40" stroke-linecap="round" fill="none"/>
<path d="M100 74h0M100.6 74.7h0M101.2 74.6h0M101.8 74.1h0M102.4 74.3h0M103 74h0M103.6 74.4h0M104.2 74.4h0M104.8 74h0M105.4 74.2h0M106 74.7h0M106.6 74.7h0M107.2 74.1h0M107.8 73.9h0M108.4 73.8h0" stroke="#FFA15A" stroke-width="2.40" stroke-linecap="round" fill="none"/>
<path d="M115 74h0M115.6 73.9h0M116.2 74.5h0M116.8 74.1h0" stroke="#FFA15A" stroke-width="2.40" stroke-linecap="round" fill="none"/>
<path d="M127 74.5h0M127.6 74.8h0M128.2 74h0M128.8 74.5h0M129.4 74.3h0M130 74.2h0M130.6 73.8h0M131.2 74.1h0M131.8 73.9h0" stroke="#FFA15A" stroke-width="2.40" stroke-linecap="round" fill="none"/>
<circle cx="187.5" cy="10.5" r="0.8" fill="#EF553B"/>
<text x="193.6" y="12.34" font-size="3.8" fill="#7a7f8a" font-family="Liberation Sans" stroke="#7a7f8a" stroke-width="0.05">Cluster 0</text>
<circle cx="187.5" cy="15.4" r="0.8" fill="#00CC96"/>
<text x="193.6" y="17.24" font-size="3.8" fill="#7a7f8a" font-family="Liberation Sans" stroke="#7a7f8a" stroke-width="0.05">Cluster 1</text>
<circle cx="187.5" cy="20.3" r="0.8" fill="#AB63FA"/>
<text x="193.6" y="22.14" font-size="3.8" fill="#7a7f8a" font-family="Liberation Sans" stroke="#7a7f8a" stroke-width="0.05">Cluster 2</text>
<circle cx="187.5" cy="25.2" r="0.8" fill="#FFA15A"/>
<text x="193.6" y="27.04" font-size="3.8" fill="#7a7f8a" font-family="Liberation Sans" stroke="#7a7f8a" stroke-width="0.05">Cluster 3</text>
<text x="108.6" y="124.8" font-size="13" fill="#000" text-anchor="middle" font-family="Liberation Sans">(a)</text>
<polygon points="280.6,13 384,10.7 384,84.5 318,99 280.6,77" fill="#E5ECF6" stroke="none" stroke-width="0"/>
<line x1="287.2" y1="12.8" x2="287.2" y2="80.9" stroke="#fff" stroke-width="0.5" opacity="0.75"/>
<line x1="309.7" y1="12.3" x2="309.7" y2="94.2" stroke="#fff" stroke-width="0.5" opacity="0.75"/>
<line x1="332" y1="11.9" x2="332" y2="95.9" stroke="#fff" stroke-width="0.5" opacity="0.75"/>
<line x1="354.5" y1="11.4" x2="354.5" y2="91" stroke="#fff" stroke-width="0.5" opacity="0.75"/>
<line x1="377" y1="10.9" x2="377" y2="86" stroke="#fff" stroke-width="0.5" opacity="0.75"/>
<line x1="280.6" y1="16.8" x2="384" y2="14.8" stroke="#fff" stroke-width="0.4" opacity="0.7"/>
<line x1="280.6" y1="29.8" x2="384" y2="27.8" stroke="#fff" stroke-width="0.4" opacity="0.7"/>
<line x1="280.6" y1="42" x2="384" y2="40" stroke="#fff" stroke-width="0.4" opacity="0.7"/>
<line x1="280.6" y1="54.9" x2="384" y2="52.9" stroke="#fff" stroke-width="0.4" opacity="0.7"/>
<line x1="280.6" y1="67.3" x2="384" y2="65.3" stroke="#fff" stroke-width="0.4" opacity="0.7"/>
<text x="275.9" y="19.82" font-size="6.1" fill="#4a5876" text-anchor="end" font-family="Liberation Sans" stroke="#4a5876" stroke-width="0.12">250</text>
<text x="275.9" y="32.82" font-size="6.1" fill="#4a5876" text-anchor="end" font-family="Liberation Sans" stroke="#4a5876" stroke-width="0.12">200</text>
<text x="275.9" y="45.02" font-size="6.1" fill="#4a5876" text-anchor="end" font-family="Liberation Sans" stroke="#4a5876" stroke-width="0.12">150</text>
<text x="275.9" y="57.92" font-size="6.1" fill="#4a5876" text-anchor="end" font-family="Liberation Sans" stroke="#4a5876" stroke-width="0.12">100</text>
<text x="275.9" y="70.32" font-size="6.1" fill="#4a5876" text-anchor="end" font-family="Liberation Sans" stroke="#4a5876" stroke-width="0.12">50</text>
<text x="248.2" y="49.16" font-size="6.2" fill="#4a5876" font-family="Liberation Sans" stroke="#4a5876" stroke-width="0.12">COG</text>
<text x="255.5" y="79.5" font-size="7.2" fill="#2b2f3e" font-family="Liberation Sans" transform="rotate(53 255.5 76.5)" stroke="#2b2f3e" stroke-width="0.22">Longitude</text>
<text x="273.7" y="79.62" font-size="6.1" fill="#4a5876" text-anchor="middle" font-family="Liberation Sans" stroke="#4a5876" stroke-width="0.12">18.5</text>
<text x="278" y="84.12" font-size="6.1" fill="#4a5876" text-anchor="middle" font-family="Liberation Sans" stroke="#4a5876" stroke-width="0.12">18</text>
<text x="284.5" y="88.62" font-size="6.1" fill="#4a5876" text-anchor="middle" font-family="Liberation Sans" stroke="#4a5876" stroke-width="0.12">17.5</text>
<text x="291.5" y="94.62" font-size="6.1" fill="#4a5876" text-anchor="middle" font-family="Liberation Sans" stroke="#4a5876" stroke-width="0.12">17</text>
<text x="301" y="101.62" font-size="6.1" fill="#4a5876" text-anchor="middle" font-family="Liberation Sans" stroke="#4a5876" stroke-width="0.12">16.5</text>
<text x="324" y="103.02" font-size="6.1" fill="#4a5876" text-anchor="middle" font-family="Liberation Sans" transform="rotate(30 324 100.4)" stroke="#4a5876" stroke-width="0.12">56.2</text>
<text x="357" y="95.02" font-size="6.1" fill="#4a5876" text-anchor="middle" font-family="Liberation Sans" transform="rotate(30 357 92.4)" stroke="#4a5876" stroke-width="0.12">56</text>
<text x="383" y="89.32" font-size="6.1" fill="#4a5876" text-anchor="middle" font-family="Liberation Sans" transform="rotate(30 383 86.7)" stroke="#4a5876" stroke-width="0.12">55.8</text>
<text x="361.6" y="100.91" font-size="7.5" fill="#2b2f3e" font-family="Liberation Sans" stroke="#2b2f3e" stroke-width="0.22">Latitude</text>
<path d="M283 18.6h0M283 18.7h0M283.5 18.6h0M283.5 19.4h0M284 19.1h0M284 20.3h0M284.5 18.8h0M284.5 20.3h0M285 18.9h0M285 18.9h0M285.5 18.4h0M285.5 19.2h0M286 19.1h0M286 19.8h0M286.5 19.5h0M286.5 19.8h0M287 20.2h0M287 19.2h0M287.5 19.2h0M287.5 19.2h0M288 19.2h0M288 20.5h0M288.5 19.7h0M288.5 18.9h0M289 19.2h0M289 18.8h0M289.5 20.2h0M289.5 20.3h0M290 19.9h0M290 19.8h0M290.5 19h0M290.5 18.3h0M291 20.2h0M291 19.6h0M291.5 18.9h0M291.5 20h0M292 19.9h0M292 19.5h0M292.5 19.8h0M292.5 19.7h0M293 18.8h0M293 18.9h0M293.5 19.4h0M293.5 19.5h0M294 18.8h0M294 20.4h0M294.5 19.5h0M294.5 20.1h0M295 18.7h0M295 19.4h0M295.5 20.2h0M295.5 20.3h0M296 19.2h0M296 20.2h0M296.5 18.7h0M296.5 18.6h0M297 20.1h0M297 19.4h0M297.5 19.2h0M297.5 19.9h0M298 19.4h0M298 20h0M298.5 19.9h0M298.5 19.5h0M299 19.2h0M299 19.2h0M299.5 18.8h0M299.5 18.5h0M300 20h0M300 19.1h0M300.5 20.2h0M300.5 19.8h0M301 18.8h0M301 20.1h0M301.5 19.2h0M301.5 19.4h0M302 20h0M302 19.3h0M302.5 20.2h0M302.5 19.2h0M303 20.4h0M303 20.5h0M303.5 19.2h0M303.5 19.1h0M304 20.1h0M304 19.6h0M304.5 20.4h0M304.5 18.5h0M305 19.4h0M305 20.3h0M305.5 19.5h0M305.5 19.4h0M306 19.5h0M306 19.9h0M306.5 19.3h0M306.5 19.9h0M307 20.1h0M307 18.7h0M307.5 18.6h0M307.5 18.6h0M308 20.1h0M308 18.5h0M308.5 20h0M308.5 18.6h0M309 19.4h0M309 20.6h0M309.5 20.4h0M309.5 19.2h0M310 18.5h0M310 19h0M310.5 19.1h0M310.5 20.3h0M311 19.6h0M311 18.6h0M311.5 20.4h0M311.5 20.3h0M312 18.9h0M312 19.6h0M312.5 19.5h0M312.5 19.7h0M313 20.2h0M313 20.5h0M313.5 18.6h0M313.5 19.6h0M314 19.7h0M314 19.1h0M314.5 19.1h0M314.5 20.2h0M315 19.5h0M315 19.4h0M315.5 18.6h0M315.5 19.9h0M316 20.4h0M316 19.8h0M316.5 20.5h0M316.5 20.2h0M317 20h0M317 19.1h0M317.5 20.3h0M317.5 20.5h0M318 18.7h0M318 20.2h0M318.5 19.4h0M318.5 19h0M319 20h0M319 18.6h0M319.5 18.6h0M319.5 19.1h0M320 19.8h0M320 19.7h0M320.5 20.5h0M320.5 20.3h0M321 20.3h0M321 19.4h0M321.5 19.3h0M321.5 19h0M322 18.7h0M322 20.1h0" stroke="#FFA15A" stroke-width="2.70" stroke-linecap="round" fill="none"/>
<path d="M321 19.6h0M321 20.1h0M321.4 20.3h0M321.4 20.3h0M321.8 17.9h0M321.8 19.5h0M322.2 19.9h0M322.2 18.4h0M322.6 18.6h0M322.6 16.9h0M323 17.3h0M323 19.2h0M323.4 19.3h0M323.4 18.2h0M323.8 17.2h0M323.8 18.2h0M324.2 17h0M324.2 16.7h0M324.6 16.5h0M324.6 16.9h0M325 17.7h0M325 17.7h0M325.4 17.8h0M325.4 15.9h0M325.8 16.1h0M325.8 16.2h0M326.2 16.9h0M326.2 18h0M326.6 16.3h0M326.6 16.8h0M327 18.7h0M327 16.2h0M327.4 18.7h0M327.4 17.4h0M327.8 16h0M327.8 16.2h0M328.2 17.3h0M328.2 16.3h0M328.6 16.3h0M328.6 16.4h0M329 17.3h0M329 15.6h0M329.4 17.2h0M329.4 17.5h0M329.8 16.3h0M329.8 16h0M330.2 15.6h0M330.2 17.2h0M330.6 18.5h0M330.6 17.4h0M331 17.4h0M331 17.8h0M331.4 16.2h0M331.4 18.7h0M331.8 17.5h0M331.8 18.1h0M332.2 18.1h0M332.2 18.5h0M332.6 18.5h0M332.6 16.7h0M333 16.1h0M333 17.6h0M333.4 16.4h0M333.4 15.9h0M333.8 16.3h0M333.8 18.6h0M334.2 16.8h0M334.2 17.8h0M334.6 17.7h0M334.6 15.8h0M335 18h0M335 15.5h0M335.4 16.3h0M335.4 18.4h0M335.8 17.6h0M335.8 17.9h0M336.2 18.1h0M336.2 17.9h0M336.6 17h0M336.6 17.8h0M337 18h0M337 18.3h0M337.4 18.2h0M337.4 18.3h0M337.8 15.8h0M337.8 15.7h0M338.2 16.5h0M338.2 16.6h0M338.6 17.2h0M338.6 16.2h0M339 17.6h0M339 18.1h0M339.4 16.2h0M339.4 17.1h0M339.8 16h0M339.8 17.6h0M340.2 14.8h0M340.2 14.8h0M340.6 17.5h0M340.6 16.8h0M341 15.9h0M341 15.9h0M341.4 16.8h0M341.4 15h0M341.8 17.1h0M341.8 16.9h0M342.2 15.1h0M342.2 14.8h0M342.6 15.2h0M342.6 17.9h0M343 15.3h0M343 16.7h0M343.4 15.9h0M343.4 17.8h0M343.8 17.9h0M343.8 17.4h0M344.2 16.3h0M344.2 15.1h0M344.6 16h0M344.6 15.3h0M345 14.8h0M345 17.4h0M345.4 15.7h0M345.4 17.5h0M345.8 14.6h0M345.8 15.9h0M346.2 15.6h0M346.2 16.5h0M346.6 16.1h0M346.6 17.4h0M347 15.5h0M347 14.5h0M347.4 16.6h0M347.4 15.8h0M347.8 17.3h0M347.8 16.8h0M348.2 15.3h0M348.2 17.5h0M348.6 14.7h0M348.6 16.2h0M349 15.5h0M349 16.4h0M349.4 16.7h0M349.4 16h0M349.8 17.4h0M349.8 16.9h0M350.2 15.4h0M350.2 16.5h0M350.6 15h0M350.6 16h0M351 16.7h0M351 14.5h0M351.4 17h0M351.4 16.5h0M351.8 15h0M351.8 15h0M352.2 17.2h0M352.2 14.6h0M352.6 17.1h0M352.6 15h0M353 14.3h0M353 15.2h0M353.4 17.1h0M353.4 14.6h0M353.8 15.4h0M353.8 16h0M354.2 14.9h0M354.2 16.4h0M354.6 15.7h0M354.6 16.3h0M355 15h0M355 15.6h0M355.4 15.9h0M355.4 16.3h0M355.8 16.5h0M355.8 14.9h0M356.2 14.6h0M356.2 13.9h0M356.6 16.2h0M356.6 15h0M357 14h0M357 15.8h0M357.4 15.7h0M357.4 16.2h0M357.8 16.8h0M357.8 14.7h0M358.2 16.3h0M358.2 14.2h0M358.6 15.3h0M358.6 15.8h0M359 13.9h0M359 13.7h0M359.4 15.2h0M359.4 15.7h0M359.8 14.8h0M359.8 14.4h0M360.2 16.1h0M360.2 13.9h0M360.6 15.9h0M360.6 16.4h0M361 15.9h0M361 15.5h0M361.4 13.8h0M361.4 15.7h0M361.8 14.2h0M361.8 15.3h0M362.2 14.2h0M362.2 14h0M362.6 15.5h0M362.6 16h0M363 15.6h0M363 16.1h0M363.4 13.2h0M363.4 13.6h0M363.8 13.3h0M363.8 15h0M364.2 13.3h0M364.2 13.5h0M364.6 15.2h0M364.6 14.2h0M365 13.8h0M365 13.8h0M365.4 15.8h0M365.4 13.1h0M365.8 13.1h0M365.8 14.4h0M366.2 15.1h0M366.2 15h0M366.6 14.7h0M366.6 13.7h0M367 16.3h0M367 16.2h0M367.4 16.2h0M367.4 14.5h0M367.8 14.4h0M367.8 15.3h0M368.2 14h0M368.2 14.2h0M368.6 13.5h0M368.6 14.6h0M369 13.5h0M369 13.5h0M369.4 14.7h0M369.4 16.1h0M369.8 16h0M369.8 15.2h0M370.2 12.9h0M370.2 12.7h0M370.6 15.1h0M370.6 13.6h0M371 13.2h0M371 16h0M371.4 12.8h0M371.4 13.8h0M371.8 15.3h0M371.8 12.9h0M372.2 13.1h0M372.2 14.2h0M372.6 15.6h0M372.6 14.2h0M373 12.9h0M373 14.4h0M373.4 13.2h0M373.4 12.6h0M373.8 14.9h0M373.8 15.8h0M374.2 14.9h0M374.2 15.2h0M374.6 12.9h0M374.6 13.1h0M375 13.7h0M375 15.2h0M375.4 13.9h0M375.4 15.4h0M375.8 12.6h0M375.8 14.4h0" stroke="#EF553B" stroke-width="2.80" stroke-linecap="round" fill="none"/>
<path d="M284 63.6h0M284 63.2h0M284.5 64.2h0M284.5 63h0M285 63.1h0M285 63.5h0M285.5 63.8h0M285.5 63.5h0M286 63.9h0M286 63.6h0M286.5 63.8h0M286.5 63.2h0M287 63.9h0M287 63.1h0M287.5 63.7h0M287.5 63.2h0M288 63.2h0M288 64h0M288.5 63.8h0M288.5 62.9h0M289 64.2h0M289 62.9h0M289.5 63.2h0M289.5 63.2h0M290 64.2h0M290 64.2h0M290.5 63.1h0M290.5 63.9h0M291 64.2h0M291 63.1h0M291.5 63.1h0M291.5 63h0M292 64.1h0M292 62.9h0M292.5 63.6h0M292.5 63.6h0M293 63.7h0M293 63h0M293.5 63.6h0M293.5 63.4h0M294 63.9h0M294 64h0M294.5 63.5h0M294.5 63.8h0M295 63.5h0M295 64.2h0M295.5 63.3h0M295.5 63.9h0M296 64h0M296 63.4h0M296.5 63.9h0M296.5 63.7h0M297 63.9h0M297 63h0M297.5 63.8h0M297.5 63.6h0M298 63.4h0M298 63.8h0M298.5 63.9h0M298.5 64.1h0M299 63.8h0M299 63.8h0M299.5 63.4h0M299.5 63.1h0M300 63.5h0M300 63.2h0M300.5 63.3h0M300.5 63h0M301 64.2h0M301 64.1h0M301.5 64h0M301.5 63.9h0M302 63.2h0M302 62.9h0M302.5 64.1h0M302.5 63.3h0M303 63.9h0M303 63.9h0M303.5 63h0M303.5 63.3h0M304 63.3h0M304 64.2h0M304.5 63.6h0M304.5 63.6h0M305 63.4h0M305 63.8h0M305.5 62.9h0M305.5 63.2h0M306 62.8h0M306 63.8h0M306.5 63.1h0M306.5 63.8h0M307 63.9h0M307 63.2h0M307.5 62.8h0M307.5 63.1h0M308 64.2h0M308 63.6h0M308.5 63.6h0M308.5 63.2h0M309 62.9h0M309 63.3h0M309.5 63h0M309.5 64.2h0M310 63.2h0M310 63h0M310.5 63.2h0M310.5 63.8h0M311 63.8h0M311 64.1h0M311.5 64h0M311.5 63.9h0M312 64h0M312 63.7h0M312.5 62.8h0M312.5 64.1h0M313 63.7h0M313 63.7h0M313.5 63h0M313.5 64.2h0M314 63.7h0M314 63.1h0M314.5 62.8h0M314.5 63h0M315 63.3h0M315 63h0M315.5 63.1h0M315.5 63.5h0M316 63.1h0M316 63.2h0M316.5 63.8h0M316.5 63h0M317 63.3h0M317 63.7h0M317.5 64h0M317.5 63.7h0M318 63.1h0M318 63.4h0M318.5 63.4h0M318.5 62.9h0M319 63.4h0M319 63.1h0M319.5 62.9h0M319.5 63.3h0M320 64.1h0M320 62.9h0M320.5 63.8h0M320.5 64h0M321 64h0M321 64.1h0M321.5 63.1h0M321.5 64h0M322 62.9h0M322 64h0M322.5 63.8h0M322.5 63.4h0M323 63h0M323 63.2h0M323.5 64.1h0M323.5 63h0M324 63.7h0M324 62.8h0M324.5 63.8h0M324.5 63.1h0M325 63.6h0M325 62.9h0M325.5 64.1h0M325.5 63.9h0M326 64h0M326 63h0M326.5 64h0M326.5 63h0M327 63.3h0M327 63h0M327.5 63.5h0M327.5 63.3h0M328 62.7h0M328 63h0M328.5 63.4h0M328.5 63.4h0M329 63.6h0M329 63.9h0M329.5 64.1h0M329.5 63h0M330 63.2h0M330 63.2h0M330.5 62.7h0M330.5 62.9h0M331 62.7h0M331 63.1h0M331.5 63.5h0M331.5 62.9h0M332 62.9h0M332 62.9h0M332.5 63.4h0M332.5 63.9h0M333 63h0M333 63.5h0M333.5 63.3h0M333.5 63.6h0" stroke="#00CC96" stroke-width="2.70" stroke-linecap="round" fill="none"/>
<path d="M294.5 55h0M295.5 57h0M297 58.5h0M297.5 60.5h0M296 61h0M313.5 55h0M314 57h0M315.5 58.5h0M316 60.5h0M314.5 61h0" stroke="#AB63FA" stroke-width="2.60" stroke-linecap="round" fill="none"/>
<path d="M331 60.1h0M331 60.1h0M331.5 58.5h0M331.5 58.6h0M332 59h0M332 60.2h0M332.5 59.3h0M332.5 60h0M333 59.7h0M333 58.8h0M333.5 59.8h0M333.5 60h0M334 60.4h0M334 58.8h0M334.5 59.7h0M334.5 59.9h0M335 59.1h0M335 59.7h0M335.5 58.9h0M335.5 59.9h0M336 60h0M336 58.8h0M336.5 60.1h0M336.5 60h0M337 60.6h0M337 59.3h0M337.5 60.6h0M337.5 59.7h0M338 60.6h0M338 60.3h0M338.5 60.2h0M338.5 59.2h0M339 59.4h0M339 59.1h0M339.5 59.8h0M339.5 59.2h0M340 60.8h0M340 59.8h0M340.5 59.9h0M340.5 60h0M341 60.4h0M341 59.9h0M341.5 60.6h0M341.5 60.4h0M342 60.5h0M342 59.6h0M342.5 59.9h0M342.5 60.8h0M343 60.9h0M343 60.4h0M343.5 59.4h0M343.5 60.7h0M344 59.6h0M344 59.7h0M344.5 59.5h0M344.5 59.9h0M345 61.3h0M345 59.7h0M345.5 61.3h0M345.5 60.2h0M346 60.2h0M346 60.5h0M346.5 59.7h0M346.5 59.9h0M347 60.8h0M347 60.1h0M347.5 61h0M347.5 60.6h0M348 61.4h0M348 59.8h0M348.5 61h0M348.5 61.1h0M349 61.3h0M349 60h0M349.5 60.2h0M349.5 61.3h0M350 60.3h0M350 61.1h0M350.5 60.2h0M350.5 61h0M351 61.1h0M351 60.5h0M351.5 61h0M351.5 60.1h0M352 60.5h0M352 61.2h0M352.5 61.2h0M352.5 60.5h0M353 61.3h0M353 60.4h0M353.5 61.6h0M353.5 61.5h0M354 61.7h0M354 60.8h0M354.5 60.4h0M354.5 60.4h0M355 61.2h0M355 62h0M355.5 61.2h0M355.5 60.6h0M356 61.3h0M356 61.7h0M356.5 61.8h0M356.5 60.6h0M357 61.3h0M357 61.7h0M357.5 61.1h0M357.5 61.8h0M358 61.2h0M358 62.2h0M358.5 61.7h0M358.5 61.4h0M359 61.1h0M359 62.4h0M359.5 60.9h0M359.5 61.8h0M360 60.8h0M360 62.1h0M360.5 60.9h0M360.5 60.9h0M361 60.9h0M361 62.2h0M361.5 61h0M361.5 61.1h0M362 62.4h0M362 61.2h0M362.5 61.7h0M362.5 61.1h0M363 62.7h0M363 61.4h0M363.5 62.6h0M363.5 61.8h0M364 62.1h0M364 61.9h0M364.5 62.4h0M364.5 61.4h0M365 61.3h0M365 61.7h0M365.5 61.6h0M365.5 62.9h0M366 62.7h0M366 61.5h0M366.5 61.9h0M366.5 62h0M367 62.9h0M367 61.3h0M367.5 62.5h0M367.5 63.1h0M368 62.9h0M368 61.9h0M368.5 62.1h0M368.5 62.1h0M369 61.9h0M369 62.3h0M369.5 63.2h0M369.5 62h0M370 63.1h0M370 62.9h0M370.5 63.1h0M370.5 62.8h0M371 63.2h0M371 62.7h0M371.5 63.2h0M371.5 63.3h0M372 63.4h0M372 63.5h0M372.5 63.1h0M372.5 62h0M373 62.9h0M373 62.5h0M373.5 63.4h0M373.5 62.4h0M374 62.5h0M374 62.6h0M374.5 63.5h0M374.5 62.2h0M375 63.5h0M375 63h0M375.5 63.6h0M375.5 62.7h0M376 63.8h0M376 63.9h0M376.5 62.9h0M376.5 63.3h0M377 63.4h0M377 63.3h0M377.5 63.1h0M377.5 63.6h0M378 63.1h0M378 64.2h0M378.5 62.7h0M378.5 62.6h0M379 63.3h0M379 63.3h0M379.5 63.5h0M379.5 64h0" stroke="#AB63FA" stroke-width="2.70" stroke-linecap="round" fill="none"/>
<path d="M367 60h0M369 59.5h0M371 60h0M374 59.5h0M376 61h0M368 63.5h0M373 64h0M370 64.5h0M378 63h0" stroke="#AB63FA" stroke-width="2.80" stroke-linecap="round" fill="none"/>
<path d="M357.5 65.3h0" stroke="#AB63FA" stroke-width="2.60" stroke-linecap="round" fill="none"/>
<path d="M285.4 73.5h0M285.9 74.1h0M286.4 74.1h0M286.9 73.6h0M287.4 73.9h0M287.9 73.3h0M288.4 73.4h0M288.9 73.3h0M289.4 73.5h0M289.9 73.2h0M290.4 74h0M290.9 73.7h0M291.4 73.8h0M291.9 73.6h0M292.4 73.2h0M292.9 73h0M293.4 73.3h0M293.9 73.7h0M294.4 73.2h0" stroke="#19D3F3" stroke-width="2.60" stroke-linecap="round" fill="none"/>
<path d="M300.6 71.4h0M301.1 71.5h0M301.6 71.3h0M302.1 71.2h0M302.6 71.3h0M303.1 71.4h0M303.6 71h0M304.1 71.6h0M304.6 71.2h0M305.1 71.4h0M305.6 71.5h0M306.1 71.2h0M306.6 71.6h0M307.1 71.6h0M307.6 71.2h0M308.1 71.7h0M308.6 71.8h0M309.1 71.1h0M309.6 71.6h0M310.1 71.1h0M310.6 71.5h0M311.1 71.3h0M311.6 71.2h0M312.1 71.1h0M312.6 71.5h0M313.1 71.1h0M313.6 71.1h0M314.1 71.3h0M314.6 71.1h0" stroke="#19D3F3" stroke-width="2.60" stroke-linecap="round" fill="none"/>
<path d="M317 70.9h0M317.5 70.9h0M318 70.9h0M318.5 71h0M319 70.6h0M319.5 71.1h0M320 70.8h0M320.5 70.8h0M321 71.1h0M321.5 70.6h0M322 71h0M322.5 71.2h0M323 70.8h0M323.5 71.2h0M324 70.8h0M324.5 70.9h0M325 71.1h0M325.5 70.6h0M326 71.2h0M326.5 71h0M327 70.8h0M327.5 70.9h0M328 70.6h0M328.5 71.2h0M329 70.5h0M329.5 70.9h0M330 70.8h0M330.5 70.8h0M331 71.2h0M331.5 70.9h0M332 70.8h0" stroke="#19D3F3" stroke-width="2.60" stroke-linecap="round" fill="none"/>
<path d="M336 74.5h0M336.5 74h0M337 74h0M337.5 74.1h0M338 73.8h0M338.5 73.6h0M339 73.4h0M339.5 73.4h0M340 73.4h0M340.5 73.3h0M341 73.9h0M341.5 74h0M342 73.6h0M342.5 73.1h0M343 73.3h0M343.5 73.6h0M344 73.2h0M344.5 73.6h0M345 73.3h0M345.5 72.7h0M346 72.7h0M346.5 73.2h0M347 72.6h0M347.5 72.6h0M348 73h0M348.5 72.7h0M349 72.7h0M349.5 72.4h0M350 73.1h0M350.5 72.8h0M351 72.2h0M351.5 72.3h0M352 72h0M352.5 72.5h0M353 72.2h0M353.5 72.3h0M354 72.6h0M354.5 72h0M355 72.5h0M355.5 72.4h0M356 71.6h0M356.5 71.8h0M357 71.3h0M357.5 72.1h0M358 71.2h0M358.5 71.6h0M359 71.7h0M359.5 71.5h0M360 72h0M360.5 71.6h0M361 71.3h0M361.5 71.7h0M362 71.6h0M362.5 71.7h0M363 71h0M363.5 70.9h0M364 70.7h0M364.5 71h0M365 71.4h0" stroke="#19D3F3" stroke-width="2.60" stroke-linecap="round" fill="none"/>
<path d="M376 73.8h0M376.5 73.1h0M377 73.4h0M377.5 73.4h0M378 73.6h0M378.5 73.4h0M379 72.9h0M379.5 73.3h0" stroke="#19D3F3" stroke-width="2.60" stroke-linecap="round" fill="none"/>
<path d="M294.8 68h0M298 68.5h0M314.8 68h0M334.8 66.2h0" stroke="#19D3F3" stroke-width="2.40" stroke-linecap="round" fill="none"/>
<rect x="330.5" y="39.3" width="50.5" height="14.5" fill="none" stroke="#E2406B" stroke-width="0.9"/>
<path d="M347.7 48.9h0M349.5 48.5h0M351.2 48.3h0M358.3 48.9h0M360 48.6h0M361.8 48.3h0M347.4 53.6h0M335.2 51.5h0M335.2 53.5h0M335.2 55.5h0" stroke="#FF6692" stroke-width="2.60" stroke-linecap="round" fill="none"/>
<rect x="283.7" y="68.4" width="97.5" height="14.8" fill="none" stroke="#E2406B" stroke-width="0.9"/>
<circle cx="392.5" cy="11.4" r="0.8" fill="#EF553B"/>
<text x="398.2" y="13.26" font-size="3.9" fill="#7a7f8a" font-family="Liberation Sans" stroke="#7a7f8a" stroke-width="0.05">Cluster 0</text>
<circle cx="392.5" cy="16.4" r="0.8" fill="#00CC96"/>
<text x="398.2" y="18.21" font-size="3.9" fill="#7a7f8a" font-family="Liberation Sans" stroke="#7a7f8a" stroke-width="0.05">Cluster 1</text>
<circle cx="392.5" cy="21.3" r="0.8" fill="#AB63FA"/>
<text x="398.2" y="23.16" font-size="3.9" fill="#7a7f8a" font-family="Liberation Sans" stroke="#7a7f8a" stroke-width="0.05">Cluster 2</text>
<circle cx="392.5" cy="26.2" r="0.8" fill="#FFA15A"/>
<text x="398.2" y="28.11" font-size="3.9" fill="#7a7f8a" font-family="Liberation Sans" stroke="#7a7f8a" stroke-width="0.05">Cluster 3</text>
<circle cx="392.5" cy="31.2" r="0.8" fill="#19D3F3"/>
<text x="398.2" y="33.06" font-size="3.9" fill="#7a7f8a" font-family="Liberation Sans" stroke="#7a7f8a" stroke-width="0.05">Cluster 4</text>
<circle cx="392.5" cy="36.1" r="0.8" fill="#FF6692"/>
<text x="398.2" y="38.01" font-size="3.9" fill="#7a7f8a" font-family="Liberation Sans" stroke="#7a7f8a" stroke-width="0.05">Cluster 5</text>
<text x="337.9" y="124.8" font-size="13" fill="#000" text-anchor="middle" font-family="Liberation Sans">(b)</text>
<polygon points="44.6,146.5 106,149 171.7,139 169,233.6 85,253.5 45.6,213" fill="#E5ECF6" stroke="none" stroke-width="0"/>
<line x1="55.6" y1="146.9" x2="55.6" y2="223.2" stroke="#fff" stroke-width="0.5" opacity="0.75"/>
<line x1="64" y1="147.3" x2="64" y2="231.8" stroke="#fff" stroke-width="0.5" opacity="0.75"/>
<line x1="72.5" y1="147.6" x2="72.5" y2="240.4" stroke="#fff" stroke-width="0.5" opacity="0.75"/>
<line x1="81" y1="148" x2="81" y2="249.1" stroke="#fff" stroke-width="0.5" opacity="0.75"/>
<line x1="89.4" y1="148.3" x2="89.4" y2="252.5" stroke="#fff" stroke-width="0.5" opacity="0.75"/>
<line x1="97.8" y1="148.6" x2="97.8" y2="250.5" stroke="#fff" stroke-width="0.5" opacity="0.75"/>
<line x1="106.3" y1="149" x2="106.3" y2="248.6" stroke="#fff" stroke-width="0.5" opacity="0.75"/>
<line x1="114.8" y1="147.7" x2="114.8" y2="246.7" stroke="#fff" stroke-width="0.5" opacity="0.75"/>
<line x1="123.2" y1="146.4" x2="123.2" y2="244.7" stroke="#fff" stroke-width="0.5" opacity="0.75"/>
<line x1="131.7" y1="145.1" x2="131.7" y2="242.8" stroke="#fff" stroke-width="0.5" opacity="0.75"/>
<line x1="140.1" y1="143.8" x2="140.1" y2="240.8" stroke="#fff" stroke-width="0.5" opacity="0.75"/>
<line x1="148.5" y1="142.5" x2="148.5" y2="238.9" stroke="#fff" stroke-width="0.5" opacity="0.75"/>
<line x1="157" y1="141.2" x2="157" y2="236.9" stroke="#fff" stroke-width="0.5" opacity="0.75"/>
<line x1="165.4" y1="140" x2="165.4" y2="235" stroke="#fff" stroke-width="0.5" opacity="0.75"/>
<line x1="44.6" y1="150" x2="106" y2="152.5" stroke="#fff" stroke-width="0.4" opacity="0.7"/>
<line x1="106" y1="152.5" x2="170" y2="143" stroke="#fff" stroke-width="0.4" opacity="0.7"/>
<line x1="44.6" y1="165.5" x2="106" y2="168" stroke="#fff" stroke-width="0.4" opacity="0.7"/>
<line x1="106" y1="168" x2="170" y2="158.5" stroke="#fff" stroke-width="0.4" opacity="0.7"/>
<line x1="44.6" y1="181" x2="106" y2="183.5" stroke="#fff" stroke-width="0.4" opacity="0.7"/>
<line x1="106" y1="183.5" x2="170" y2="174" stroke="#fff" stroke-width="0.4" opacity="0.7"/>
<line x1="44.6" y1="196.3" x2="106" y2="198.8" stroke="#fff" stroke-width="0.4" opacity="0.7"/>
<line x1="106" y1="198.8" x2="170" y2="189.3" stroke="#fff" stroke-width="0.4" opacity="0.7"/>
<line x1="44.6" y1="211" x2="106" y2="213.5" stroke="#fff" stroke-width="0.4" opacity="0.7"/>
<line x1="106" y1="213.5" x2="170" y2="204" stroke="#fff" stroke-width="0.4" opacity="0.7"/>
<text x="40.6" y="153.19" font-size="6.3" fill="#4a5876" text-anchor="end" font-family="Liberation Sans" stroke="#4a5876" stroke-width="0.12">250</text>
<text x="40.6" y="168.19" font-size="6.3" fill="#4a5876" text-anchor="end" font-family="Liberation Sans" stroke="#4a5876" stroke-width="0.12">200</text>
<text x="40.6" y="183.89" font-size="6.3" fill="#4a5876" text-anchor="end" font-family="Liberation Sans" stroke="#4a5876" stroke-width="0.12">150</text>
<text x="40.6" y="199.09" font-size="6.3" fill="#4a5876" text-anchor="end" font-family="Liberation Sans" stroke="#4a5876" stroke-width="0.12">100</text>
<text x="40.6" y="213.89" font-size="6.3" fill="#4a5876" text-anchor="end" font-family="Liberation Sans" stroke="#4a5876" stroke-width="0.12">50</text>
<text x="10.9" y="187.96" font-size="6.2" fill="#4a5876" font-family="Liberation Sans" stroke="#4a5876" stroke-width="0.12">COG</text>
<text x="17.2" y="226.2" font-size="7.2" fill="#2b2f3e" font-family="Liberation Sans" transform="rotate(67.4 17.2 223.2)" stroke="#2b2f3e" stroke-width="0.22">Longitude</text>
<text x="36.8" y="226.99" font-size="6.3" fill="#4a5876" text-anchor="middle" font-family="Liberation Sans" stroke="#4a5876" stroke-width="0.12">16.5</text>
<text x="40" y="231.79" font-size="6.3" fill="#4a5876" text-anchor="middle" font-family="Liberation Sans" stroke="#4a5876" stroke-width="0.12">17</text>
<text x="44.2" y="237.59" font-size="6.3" fill="#4a5876" text-anchor="middle" font-family="Liberation Sans" stroke="#4a5876" stroke-width="0.12">17.5</text>
<text x="49.2" y="245.29" font-size="6.3" fill="#4a5876" text-anchor="middle" font-family="Liberation Sans" stroke="#4a5876" stroke-width="0.12">18</text>
<text x="55.8" y="255.49" font-size="6.3" fill="#4a5876" text-anchor="middle" font-family="Liberation Sans" stroke="#4a5876" stroke-width="0.12">18.5</text>
<text x="75" y="258.69" font-size="6.3" fill="#4a5876" text-anchor="middle" font-family="Liberation Sans" transform="rotate(35 75 256)" stroke="#4a5876" stroke-width="0.12">6</text>
<text x="90.6" y="256.69" font-size="6.3" fill="#4a5876" text-anchor="middle" font-family="Liberation Sans" transform="rotate(35 90.6 254)" stroke="#4a5876" stroke-width="0.12">7</text>
<text x="104.5" y="253.49" font-size="6.3" fill="#4a5876" text-anchor="middle" font-family="Liberation Sans" transform="rotate(35 104.5 250.8)" stroke="#4a5876" stroke-width="0.12">8</text>
<text x="117.6" y="250.69" font-size="6.3" fill="#4a5876" text-anchor="middle" font-family="Liberation Sans" transform="rotate(35 117.6 248)" stroke="#4a5876" stroke-width="0.12">9</text>
<text x="130.7" y="248.69" font-size="6.3" fill="#4a5876" text-anchor="middle" font-family="Liberation Sans" transform="rotate(35 130.7 246)" stroke="#4a5876" stroke-width="0.12">10</text>
<text x="141.4" y="246.29" font-size="6.3" fill="#4a5876" text-anchor="middle" font-family="Liberation Sans" transform="rotate(35 141.4 243.6)" stroke="#4a5876" stroke-width="0.12">11</text>
<text x="151.6" y="244.29" font-size="6.3" fill="#4a5876" text-anchor="middle" font-family="Liberation Sans" transform="rotate(35 151.6 241.6)" stroke="#4a5876" stroke-width="0.12">12</text>
<text x="161.8" y="242.69" font-size="6.3" fill="#4a5876" text-anchor="middle" font-family="Liberation Sans" transform="rotate(35 161.8 240)" stroke="#4a5876" stroke-width="0.12">13</text>
<text x="171.8" y="240.89" font-size="6.3" fill="#4a5876" text-anchor="middle" font-family="Liberation Sans" transform="rotate(35 171.8 238.2)" stroke="#4a5876" stroke-width="0.12">14</text>
<text x="142.7" y="256.69" font-size="6.3" fill="#4a5876" font-family="Liberation Sans" stroke="#4a5876" stroke-width="0.12">SOG</text>
<path d="M97.4 152h0M97.4 152h0M97.8 150.1h0M97.8 151.8h0M98.2 151.4h0M98.2 150.6h0M98.6 151.9h0M98.6 150.5h0M99 151.3h0M99 150.4h0M99.4 150h0M99.4 150.2h0M99.8 150.7h0M99.8 150.5h0M100.2 151.1h0M100.2 150.5h0M100.6 150h0M100.6 149h0M101 148.2h0M101 148.3h0M101.4 150.3h0M101.4 149.1h0M101.8 149.6h0M101.8 148.7h0M102.2 148.1h0M102.2 149.7h0M102.6 147.9h0M102.6 148.3h0M103 149.7h0M103 149.3h0M103.4 149.5h0M103.4 149.5h0M103.8 149.5h0M103.8 148.6h0M104.2 149h0M104.2 147.1h0M104.6 148.8h0M104.6 148.6h0M105 147.7h0M105 149h0M105.4 146.8h0M105.4 147.8h0M105.8 146.6h0M105.8 147.4h0M106.2 146.7h0M106.2 147.5h0M106.6 147.4h0M106.6 148.2h0M107 148.4h0M107 146.3h0M107.4 148.5h0M107.4 147.4h0M107.8 146h0M107.8 146.3h0M108.2 147.6h0M108.2 148.4h0M108.6 146.9h0M108.6 147.6h0M109 148.3h0M109 146.9h0M109.4 146.8h0M109.4 146.7h0M109.8 146.2h0M109.8 147.5h0M110.2 147.4h0M110.2 148.2h0M110.6 147.9h0M110.6 148.7h0M111 147.9h0M111 146.2h0M111.4 148.6h0M111.4 147.6h0M111.8 147.2h0M111.8 147.7h0M112.2 146.2h0M112.2 146.6h0M112.6 146.4h0M112.6 146.9h0M113 147.5h0M113 148.7h0M113.4 148h0M113.4 148.4h0M113.8 146.5h0M113.8 146.9h0M114.2 147.2h0M114.2 148.7h0M114.6 148.8h0M114.6 148h0M115 148.2h0M115 147.2h0M115.4 147h0M115.4 146.7h0M115.8 147.8h0M115.8 146.7h0M116.2 147.8h0M116.2 147.4h0M116.6 146.4h0M116.6 147.4h0M117 148.3h0M117 148.5h0M117.4 146.6h0M117.4 147.4h0M117.8 148.4h0M117.8 148.1h0M118.2 147.6h0M118.2 148.8h0M118.6 146.9h0M118.6 146.6h0M119 146.7h0M119 147.5h0M119.4 147.8h0M119.4 147.1h0M119.8 147.3h0M119.8 148.8h0M120.2 147.6h0M120.2 146.6h0M120.6 148.7h0M120.6 146.9h0M121 146.7h0M121 147.4h0M121.4 148.5h0M121.4 147.9h0M121.8 148.3h0M121.8 148.3h0M122.2 148.9h0M122.2 147.2h0M122.6 147.1h0M122.6 148.4h0M123 147.5h0M123 148.4h0M123.4 147.7h0M123.4 147.8h0M123.8 146.8h0M123.8 149.2h0M124.2 146.9h0M124.2 147.9h0M124.6 148.4h0M124.6 148.8h0M125 149.1h0M125 147.9h0M125.4 148h0M125.4 148.5h0M125.8 148.2h0M125.8 146.9h0M126.2 148.8h0M126.2 147.6h0M126.6 148.3h0M126.6 147.7h0M127 147.7h0M127 147.5h0M127.4 147.9h0M127.4 147h0M127.8 149.1h0M127.8 147.2h0M128.2 148.7h0M128.2 147.8h0M128.6 146.9h0M128.6 147.8h0M129 149.5h0M129 149.2h0M129.4 149.1h0M129.4 149.4h0" stroke="#00CC96" stroke-width="2.90" stroke-linecap="round" fill="none"/>
<path d="M111.4 152h0M111.4 149.3h0M111.8 150.3h0M111.8 149.9h0M112.2 150.7h0M112.2 149.6h0M112.6 150.4h0M112.6 151h0M113 150.5h0M113 151.4h0M113.4 151.4h0M113.4 149.5h0M113.8 150.4h0M113.8 149.6h0M114.2 151.2h0M114.2 150.3h0M114.6 149.4h0M114.6 149.9h0M115 149.9h0M115 151.2h0M115.4 149.4h0M115.4 151h0M115.8 150.9h0M115.8 149.6h0M116.2 149.9h0M116.2 152.1h0M116.6 151h0M116.6 151.5h0M117 149.8h0M117 151.5h0M117.4 150.4h0M117.4 149.6h0M117.8 151.2h0M117.8 151.7h0M118.2 150.2h0M118.2 149.7h0M118.6 149.3h0M118.6 149.6h0M119 151.7h0M119 151.7h0M119.4 150.1h0M119.4 151.4h0M119.8 149h0M119.8 150.2h0M120.2 150.7h0M120.2 148.7h0M120.6 150h0M120.6 149.9h0M121 149.8h0M121 150.8h0M121.4 148.7h0M121.4 150.8h0M121.8 149.3h0M121.8 151.9h0M122.2 150.7h0M122.2 149.8h0M122.6 149.8h0M122.6 150.8h0M123 149h0M123 149.7h0M123.4 149.9h0M123.4 149h0M123.8 149.5h0M123.8 149.5h0M124.2 150h0M124.2 151.5h0M124.6 149.6h0M124.6 150.3h0M125 148.8h0M125 149.4h0M125.4 151.4h0M125.4 150.6h0M125.8 151.5h0M125.8 149.5h0M126.2 150.2h0M126.2 148.9h0M126.6 149.4h0M126.6 148.9h0M127 149.9h0M127 150.4h0M127.4 151.1h0M127.4 152.1h0M127.8 150.4h0M127.8 149.9h0M128.2 149.4h0M128.2 149.9h0M128.6 150.8h0M128.6 149.6h0M129 152h0M129 149h0M129.4 150.5h0M129.4 149.8h0M129.8 149.8h0M129.8 152h0M130.2 150h0M130.2 151h0M130.6 150.2h0M130.6 149.4h0M131 150.2h0M131 149.9h0M131.4 148.7h0M131.4 152.1h0M131.8 151h0M131.8 150.3h0M132.2 149.2h0M132.2 151.1h0M132.6 150.9h0M132.6 150.8h0M133 150.4h0M133 150.6h0M133.4 150.3h0M133.4 149.1h0M133.8 151h0M133.8 150.8h0M134.2 150.7h0M134.2 150.2h0M134.6 150.6h0M134.6 149.9h0M135 152.1h0M135 151h0M135.4 150.8h0M135.4 152h0M135.8 151.2h0M135.8 151.6h0M136.2 151.6h0M136.2 148.7h0M136.6 150.2h0M136.6 151.1h0M137 151.7h0M137 151.8h0M137.4 148.7h0M137.4 148.8h0M137.8 150.8h0M137.8 149.2h0M138.2 149.6h0M138.2 151.9h0M138.6 152.2h0M138.6 151.5h0M139 151.9h0M139 151.2h0M139.4 148.9h0M139.4 150.6h0M139.8 151.7h0M139.8 151.1h0M140.2 151.4h0M140.2 149.3h0M140.6 149.6h0M140.6 151.6h0M141 151.1h0M141 149.4h0M141.4 152h0M141.4 150.4h0M141.8 148.7h0M141.8 151.3h0M142.2 149.9h0M142.2 149.9h0M142.6 151h0M142.6 150.5h0M143 151.9h0M143 150.4h0M143.4 149.3h0M143.4 149.9h0M143.8 148.9h0M143.8 150.9h0M144.2 150h0M144.2 149.4h0M144.6 148.6h0M144.6 149.5h0M145 150.6h0M145 150.9h0M145.4 151.4h0M145.4 151.7h0M145.8 151h0M145.8 150.2h0M146.2 152h0M146.2 149h0M146.6 150.4h0M146.6 149.4h0M147 150h0M147 149.3h0M147.4 149.3h0M147.4 150.5h0M147.8 150.4h0M147.8 148.7h0M148.2 149.3h0M148.2 151.4h0" stroke="#FFA15A" stroke-width="2.90" stroke-linecap="round" fill="none"/>
<path d="M107.3 188.5h0M107.2 187.6h0M106.3 187.7h0M123.3 188.3h0M114.9 188.6h0M114.6 189.3h0M122.4 187.8h0M113.3 186.9h0M115.1 187h0M119.4 189.4h0M120.5 188.5h0M122.2 188.1h0M128 189.9h0M97 194.1h0M95.1 195.5h0M97 194.5h0M90 199.7h0M82.2 200.3h0M89.4 199.9h0M86.4 200.1h0M79.8 201.5h0M86.5 200.1h0M79.4 201.1h0M81.2 200.2h0M81.7 199.4h0M85.3 200.5h0M89.5 204h0M95.8 207.3h0M89.7 203.7h0M93.7 206.6h0M89.5 203.5h0M90.8 202.4h0M88.8 201.4h0M93.8 205h0M97.8 207.4h0M96.3 205.8h0M98 206.3h0M90.2 203.8h0M109.2 197h0M124.6 197h0M102.9 194.5h0M128.3 199.4h0M124 197.1h0M128.6 197.9h0M123.6 198.1h0M112.5 195.6h0M100.6 194.9h0M102.2 195h0M122.7 197.5h0M137.3 199.9h0M128.4 197.5h0M100.8 196.2h0M129.6 197.3h0M126 198.8h0M114.3 195.5h0M122.9 198.8h0M130.5 199.4h0M137 200.1h0M137.4 199.3h0M133 199.1h0M125.4 198.3h0M124.1 198.4h0M141.2 200.6h0M116.5 197.2h0M118.8 196.1h0M129.7 199h0M119.2 197.9h0M120.7 198.6h0M109.7 195.8h0M127.1 197.5h0M137.2 199.4h0M136 199.9h0M108.3 196.8h0M138 199.3h0M123.5 197h0M121.1 198.4h0M130 198h0M107.1 195.3h0M108.9 196.4h0M119.9 198.4h0M139.9 198.8h0M102.4 194h0M129.1 198h0M131.3 198h0M117.8 198.1h0M109.2 195h0M125.6 198.5h0M127.4 199.5h0M126 201.9h0M107.5 199.7h0M127.1 201.5h0M114.8 200.5h0M124.6 201.4h0M131.3 201.3h0M136 202h0M118.6 202h0M115.7 201.6h0M131.6 202.3h0M124.9 202.4h0M131.7 203.1h0M110.5 201.2h0M137.3 204h0M114.4 201.3h0M113.7 200.3h0M122.3 201.3h0M103.6 198h0M130.1 202h0M129.6 201.5h0M121 202.1h0M127.7 201.9h0M135.3 202.4h0M120.5 201.9h0M125 202.6h0M121.8 201.1h0M133.2 201.9h0M133.6 202.7h0M122 201.6h0M120.3 199.9h0M136.9 202.9h0M131 202.4h0M126 202.1h0M117.8 201.9h0M111.6 199.2h0M118.2 201.9h0M118.8 200.2h0M125.1 200.7h0M129.1 201.6h0M110.6 199.5h0M130.5 193.7h0M131.9 195.5h0M129 194.6h0M130.5 194.6h0M130.7 194.3h0M132.3 195.3h0M149 206.6h0M138.7 203.1h0M149.3 205.5h0M149.4 207.4h0M148.7 205.2h0M146.2 203.9h0M148.3 206.3h0M136.2 202.2h0M134 201.6h0M150.7 205h0M143.4 203.8h0M145.3 203.7h0M135.2 201.7h0M143.2 202.9h0M136.8 202.9h0M152 205.4h0M136.3 201.2h0M147 205.1h0M124.9 206.5h0M118 205.7h0M120 205.9h0M122.8 205h0M124 207.2h0M129.7 207.9h0M126.5 206.8h0M125.8 207h0M122 206.1h0M129.5 206.7h0M131.4 207.7h0M129.3 206.6h0M127.2 206.3h0M123.4 205.7h0M131.6 212.3h0M133.3 213h0M131.6 213.1h0M131.1 213h0M132.2 214.3h0M89.8 216h0M92 216.5h0M94 216h0M102.5 219.2h0M120.5 222.4h0M121.5 225.5h0M122.7 228.7h0M123.7 228.3h0" stroke="#AB63FA" stroke-width="2.70" stroke-linecap="round" fill="none"/>
<path d="M102.9 209.2h0M104.3 208.5h0M103.8 208.4h0M105 209.5h0M107.1 210.4h0M110.2 212.4h0M103.2 209.4h0M103.5 208.1h0M115 214.4h0M116.1 215.5h0M115 214.6h0M114.1 214.6h0M116 214.9h0M113 213.7h0M110.9 214.5h0M115.3 214.8h0M112.3 214.8h0M112.3 213.8h0M126.2 219.1h0M126.9 220.2h0M126.1 220.2h0M127 220.2h0M124.6 218.6h0M125.7 219.6h0M128.6 219.7h0M127.1 220.5h0M127.2 220.7h0M129.4 219.7h0M132.9 221.2h0M123.1 219.6h0M127.1 220.1h0M129.6 220h0M134.6 222h0M117.4 217.7h0M124.8 218.6h0M125.9 219h0M128.9 220.5h0M123.7 218.7h0M123.6 219.8h0M118 218.9h0M139.4 224.1h0M135.4 224.9h0M135.1 225.2h0M134.3 224.6h0M143.6 225.1h0M131.2 222.8h0M130.4 223.5h0M139.6 225.4h0M129.8 223.9h0M130 224h0M139.8 224.1h0M135.1 223.9h0M131.2 223.8h0M144.4 226.2h0M136.5 223.9h0M133.9 224.9h0M148.7 231.5h0M143.3 231h0M143.2 231.4h0M148.1 232.3h0M145 231.9h0M148.6 230.8h0M145.1 231.5h0M150.1 232.5h0M125.8 235.5h0M126.5 236h0" stroke="#19D3F3" stroke-width="2.70" stroke-linecap="round" fill="none"/>
<path d="M95.1 212.8h0M95.1 214h0M95.5 213h0M95.5 214.3h0M95.9 214h0M95.9 214.2h0M96.3 213.5h0M96.3 214.3h0M96.7 214.5h0M96.7 213.8h0M97.1 214.5h0M97.1 214.2h0M97.5 214.6h0M97.5 214.2h0M97.9 214.7h0M97.9 214.9h0M98.3 215.2h0M98.3 214.8h0M98.7 215.1h0M98.7 214.6h0M99.1 214.3h0M99.1 215.6h0M99.5 214.5h0M99.5 214.9h0M99.9 215.9h0M99.9 214.8h0M100.3 215.5h0M100.3 214.8h0M100.7 215.3h0M100.7 216.1h0M101.1 214.9h0M101.1 215.1h0M101.5 216h0M101.5 215.2h0M101.9 215.5h0M101.9 216.2h0M102.3 216h0M102.3 215.9h0M102.7 216.7h0M102.7 215.8h0M103.1 216.9h0M103.1 215.8h0M103.5 217.1h0M103.5 216.2h0M103.9 216.5h0M103.9 217.3h0M104.3 216.2h0M104.3 216.6h0M104.7 217.2h0M104.7 216.9h0M105.1 216.3h0M105.1 216.5h0M105.5 217.1h0M105.5 217.8h0M105.9 217.2h0M105.9 217.6h0M106.3 217.8h0M106.3 217.8h0M106.7 217.1h0M106.7 216.8h0M107.1 217.5h0M107.1 217.7h0M107.5 217.4h0M107.5 217.6h0M107.9 217.2h0M107.9 217.4h0M108.3 218h0M108.3 218.5h0M108.7 217.8h0M108.7 217.8h0M109.1 218.6h0M109.1 218.6h0M109.5 218.2h0M109.5 219.1h0M109.9 218.8h0M109.9 218.3h0M110.3 218.2h0M110.3 218.6h0M110.7 219.6h0M110.7 218.3h0M111.1 218.6h0M111.1 219h0M111.5 218.8h0M111.5 219.3h0M111.9 218.7h0M111.9 218.9h0M112.3 219.4h0M112.3 219.1h0M112.7 218.8h0M112.7 218.8h0M113.1 219.9h0M113.1 219.5h0M113.5 219.9h0M113.5 219.3h0M113.9 219.3h0M113.9 219.2h0M114.3 219.9h0M114.3 220.3h0M114.7 220.7h0M114.7 219.9h0M115.1 219.5h0M115.1 220.6h0M115.5 220.9h0M115.5 220.6h0M115.9 220.3h0M115.9 220.8h0M116.3 220.5h0M116.3 221.2h0" stroke="#EF553B" stroke-width="2.70" stroke-linecap="round" fill="none"/>
<path d="M123.7 210.9h0M123.7 211.1h0M124.1 211h0M124.1 210.9h0M124.5 211.4h0M124.5 211.1h0M124.9 211.8h0M124.9 211.9h0M125.3 210.9h0M125.3 211h0M125.7 211.9h0M125.7 212.3h0M126.1 211.7h0M126.1 212.5h0M126.5 212.6h0M126.5 212.1h0M126.9 211.8h0M126.9 212.9h0M127.3 212.5h0M127.3 212.8h0M127.7 213.1h0M127.7 212.6h0M128.1 212.2h0M128.1 212h0M128.5 212.3h0M128.5 213.6h0M128.9 212.7h0M128.9 213.4h0M129.3 213.4h0M129.3 212.4h0M129.7 213.3h0M129.7 213.2h0M130.1 213h0M130.1 213.2h0M130.5 213.5h0M130.5 213h0M130.9 213.4h0M130.9 214.1h0M131.3 214h0M131.3 214.4h0M131.7 214.7h0M131.7 215.1h0M132.1 215h0M132.1 214.4h0M132.5 215.3h0M132.5 214.7h0M132.9 215.5h0M132.9 214.1h0M133.3 215.6h0M133.3 215.2h0" stroke="#EF553B" stroke-width="2.70" stroke-linecap="round" fill="none"/>
<path d="M136.4 209.4h0M136.4 209h0M136.8 209.7h0M136.8 209.6h0M137.2 210.2h0M137.2 209.5h0M137.6 209.9h0M137.6 209.3h0M138 210.9h0M138 210.7h0M138.4 210.7h0M138.4 210.6h0M138.8 211h0M138.8 210.8h0M139.2 210.5h0M139.2 209.7h0M139.6 210.2h0M139.6 209.9h0M140 211.2h0M140 210.4h0M140.4 210.1h0M140.4 211.4h0M140.8 210.9h0M140.8 211.7h0M141.2 210.5h0M141.2 211.7h0M141.6 210.6h0M141.6 210.9h0M142 210.7h0M142 212h0M142.4 211.5h0M142.4 211.9h0M142.8 210.8h0M142.8 211.1h0M143.2 212.1h0M143.2 211h0M143.6 212.3h0M143.6 211h0M144 211.4h0M144 211.3h0M144.4 211.4h0M144.4 212.3h0M144.8 212.2h0M144.8 212.1h0M145.2 211.8h0M145.2 212.3h0M145.6 212.4h0M145.6 213h0M146 212.3h0M146 211.6h0M146.4 212.1h0M146.4 212.9h0M146.8 212.2h0M146.8 212.1h0M147.2 212.7h0M147.2 213.3h0M147.6 212h0M147.6 213.1h0M148 213.5h0M148 212.3h0M148.4 213.2h0M148.4 213.2h0M148.8 213.1h0M148.8 213.6h0M149.2 213.2h0M149.2 212.6h0M149.6 212.7h0M149.6 212.8h0M150 213.8h0M150 213.8h0M150.4 213.5h0M150.4 213.6h0M150.8 212.9h0M150.8 213.9h0M151.2 214.3h0M151.2 213.1h0M151.6 213.8h0M151.6 213.7h0M152 214.4h0M152 214.6h0M152.4 214.1h0M152.4 213.6h0M152.8 213.8h0M152.8 213.8h0M153.2 214.3h0M153.2 214.4h0M153.6 214.9h0M153.6 214h0M154 214.8h0M154 214.9h0M154.4 214.4h0M154.4 214.1h0M154.8 213.9h0M154.8 215.1h0M155.2 214.2h0M155.2 215.2h0M155.6 214.5h0M155.6 214.3h0M156 214.7h0M156 214.3h0M156.4 215.9h0M156.4 215.5h0M156.8 214.8h0M156.8 214.8h0M157.2 216h0M157.2 215.1h0M157.6 215.6h0M157.6 215.3h0M158 214.8h0M158 215.9h0M158.4 215.8h0M158.4 215.6h0M158.8 216.3h0M158.8 216.2h0M159.2 215.6h0M159.2 215.9h0M159.6 215.5h0M159.6 215.9h0" stroke="#EF553B" stroke-width="2.70" stroke-linecap="round" fill="none"/>
<path d="M132.2 211.7h0M132.2 212.1h0M132.6 211.5h0M132.6 211.3h0M133 211.9h0M133 211.3h0M133.4 211.8h0M133.4 212.9h0M133.8 212h0M133.8 211.8h0M134.2 212.3h0M134.2 212.9h0M134.6 211.9h0M134.6 212.4h0M135 213.4h0M135 213.2h0M135.4 212.2h0M135.4 212.5h0M135.8 212.5h0M135.8 212.3h0M136.2 213.1h0M136.2 212.6h0M136.6 212.9h0M136.6 213.6h0M137 213h0M137 213.8h0M137.4 213.4h0M137.4 213.2h0M137.8 213.5h0M137.8 213h0M138.2 214.1h0M138.2 214.4h0M138.6 213.7h0M138.6 214.7h0M139 214.5h0M139 214.9h0M139.4 213.9h0M139.4 213.6h0M139.8 214.3h0M139.8 214.3h0M140.2 214.6h0M140.2 214h0M140.6 214.7h0M140.6 215h0M141 214.2h0M141 214.7h0M141.4 215.1h0M141.4 215.1h0M141.8 214.4h0M141.8 214.9h0M142.2 215.1h0M142.2 215.3h0M142.6 215.4h0M142.6 215h0M143 215.3h0M143 215.7h0M143.4 216h0M143.4 215.6h0M143.8 216.6h0M143.8 215.9h0M144.2 216.4h0M144.2 216.2h0M144.6 216h0M144.6 216.6h0M145 216.1h0M145 215.5h0M145.4 216.4h0M145.4 216.2h0M145.8 216h0M145.8 216.1h0M146.2 216.2h0M146.2 216.7h0M146.6 216.4h0M146.6 217h0M147 217.1h0M147 217.5h0M147.4 216.8h0M147.4 217.7h0M147.8 217.6h0M147.8 217.5h0M148.2 217.9h0M148.2 217.5h0M148.6 217.6h0M148.6 217.1h0M149 217.7h0M149 217.2h0" stroke="#EF553B" stroke-width="2.70" stroke-linecap="round" fill="none"/>
<polygon points="39,201.9 51.1,192 96.7,234.5 85.2,244.4" fill="none" stroke="#E2406B" stroke-width="0.9"/>
<path d="M57.5 205.8h0M59 206.8h0M60.5 207.3h0" stroke="#AB63FA" stroke-width="2.70" stroke-linecap="round" fill="none"/>
<path d="M62 215.8h0M62.4 216h0M62.8 216.3h0M63.2 217.7h0M63.6 217.6h0M64 218h0M64.4 219h0M64.8 217.8h0M65.2 218.9h0M65.6 219h0M66 219.1h0M66.4 219.5h0M66.8 220.6h0M67.2 221h0M67.6 220.6h0M68 221.2h0M68.4 221.7h0M68.8 221h0M69.2 220.9h0M69.6 220.7h0M70 222.5h0M70.4 221.1h0M70.8 221.8h0M71.2 221.9h0M71.6 223.2h0M72 223h0M72.4 222h0M72.8 223.4h0M73.2 222.6h0M73.6 222.6h0M74 223.7h0M74.4 223.6h0" stroke="#EF553B" stroke-width="2.80" stroke-linecap="round" fill="none"/>
<circle cx="183.3" cy="141.8" r="0.8" fill="#EF553B"/>
<text x="190.1" y="143.87" font-size="4.45" fill="#7a7f8a" font-family="Liberation Sans" stroke="#7a7f8a" stroke-width="0.05">Cluster 0</text>
<circle cx="183.3" cy="147.6" r="0.8" fill="#00CC96"/>
<text x="190.1" y="149.7" font-size="4.45" fill="#7a7f8a" font-family="Liberation Sans" stroke="#7a7f8a" stroke-width="0.05">Cluster 1</text>
<circle cx="183.3" cy="153.5" r="0.8" fill="#AB63FA"/>
<text x="190.1" y="155.53" font-size="4.45" fill="#7a7f8a" font-family="Liberation Sans" stroke="#7a7f8a" stroke-width="0.05">Cluster 2</text>
<circle cx="183.3" cy="159.3" r="0.8" fill="#FFA15A"/>
<text x="190.1" y="161.36" font-size="4.45" fill="#7a7f8a" font-family="Liberation Sans" stroke="#7a7f8a" stroke-width="0.05">Cluster 3</text>
<circle cx="183.3" cy="165.1" r="0.8" fill="#19D3F3"/>
<text x="190.1" y="167.19" font-size="4.45" fill="#7a7f8a" font-family="Liberation Sans" stroke="#7a7f8a" stroke-width="0.05">Cluster 4</text>
<text x="108.7" y="272.8" font-size="13" fill="#000" text-anchor="middle" font-family="Liberation Sans">(c)</text>
<polygon points="266,146.5 317.6,147.5 379.5,144.2 376,224.7 297,243 268,208" fill="#E5ECF6" stroke="none" stroke-width="0"/>
<line x1="274.4" y1="146.7" x2="274.4" y2="215.7" stroke="#fff" stroke-width="0.5" opacity="0.75"/>
<line x1="281.9" y1="146.8" x2="281.9" y2="224.7" stroke="#fff" stroke-width="0.5" opacity="0.75"/>
<line x1="289.4" y1="147" x2="289.4" y2="233.7" stroke="#fff" stroke-width="0.5" opacity="0.75"/>
<line x1="296.9" y1="147.1" x2="296.9" y2="242.7" stroke="#fff" stroke-width="0.5" opacity="0.75"/>
<line x1="304.4" y1="147.3" x2="304.4" y2="241.3" stroke="#fff" stroke-width="0.5" opacity="0.75"/>
<line x1="311.9" y1="147.4" x2="311.9" y2="239.6" stroke="#fff" stroke-width="0.5" opacity="0.75"/>
<line x1="319.4" y1="147.4" x2="319.4" y2="237.8" stroke="#fff" stroke-width="0.5" opacity="0.75"/>
<line x1="326.9" y1="147" x2="326.9" y2="236.1" stroke="#fff" stroke-width="0.5" opacity="0.75"/>
<line x1="334.4" y1="146.6" x2="334.4" y2="234.4" stroke="#fff" stroke-width="0.5" opacity="0.75"/>
<line x1="341.9" y1="146.2" x2="341.9" y2="232.7" stroke="#fff" stroke-width="0.5" opacity="0.75"/>
<line x1="349.4" y1="145.8" x2="349.4" y2="230.9" stroke="#fff" stroke-width="0.5" opacity="0.75"/>
<line x1="356.9" y1="145.4" x2="356.9" y2="229.2" stroke="#fff" stroke-width="0.5" opacity="0.75"/>
<line x1="364.4" y1="145" x2="364.4" y2="227.5" stroke="#fff" stroke-width="0.5" opacity="0.75"/>
<line x1="371.9" y1="144.6" x2="371.9" y2="225.8" stroke="#fff" stroke-width="0.5" opacity="0.75"/>
<line x1="266" y1="150.2" x2="317.6" y2="151.2" stroke="#fff" stroke-width="0.4" opacity="0.7"/>
<line x1="317.6" y1="151.2" x2="378" y2="147.2" stroke="#fff" stroke-width="0.4" opacity="0.7"/>
<line x1="266" y1="164.2" x2="317.6" y2="165.2" stroke="#fff" stroke-width="0.4" opacity="0.7"/>
<line x1="317.6" y1="165.2" x2="378" y2="161.2" stroke="#fff" stroke-width="0.4" opacity="0.7"/>
<line x1="266" y1="177.9" x2="317.6" y2="178.9" stroke="#fff" stroke-width="0.4" opacity="0.7"/>
<line x1="317.6" y1="178.9" x2="378" y2="174.9" stroke="#fff" stroke-width="0.4" opacity="0.7"/>
<line x1="266" y1="190.8" x2="317.6" y2="191.8" stroke="#fff" stroke-width="0.4" opacity="0.7"/>
<line x1="317.6" y1="191.8" x2="378" y2="187.8" stroke="#fff" stroke-width="0.4" opacity="0.7"/>
<line x1="266" y1="203.2" x2="317.6" y2="204.2" stroke="#fff" stroke-width="0.4" opacity="0.7"/>
<line x1="317.6" y1="204.2" x2="378" y2="200.2" stroke="#fff" stroke-width="0.4" opacity="0.7"/>
<text x="260.8" y="153.33" font-size="5.9" fill="#4a5876" text-anchor="end" font-family="Liberation Sans" stroke="#4a5876" stroke-width="0.12">250</text>
<text x="261.5" y="167.03" font-size="5.9" fill="#4a5876" text-anchor="end" font-family="Liberation Sans" stroke="#4a5876" stroke-width="0.12">200</text>
<text x="261.8" y="180.53" font-size="5.9" fill="#4a5876" text-anchor="end" font-family="Liberation Sans" stroke="#4a5876" stroke-width="0.12">150</text>
<text x="263" y="193.33" font-size="5.9" fill="#4a5876" text-anchor="end" font-family="Liberation Sans" stroke="#4a5876" stroke-width="0.12">100</text>
<text x="262.4" y="205.73" font-size="5.9" fill="#4a5876" text-anchor="end" font-family="Liberation Sans" stroke="#4a5876" stroke-width="0.12">50</text>
<text x="235.9" y="184.93" font-size="5.9" fill="#4a5876" font-family="Liberation Sans" stroke="#4a5876" stroke-width="0.12">COG</text>
<text x="243" y="222.33" font-size="7" fill="#2b2f3e" font-family="Liberation Sans" transform="rotate(56 243 219.4)" stroke="#2b2f3e" stroke-width="0.22">Latitude</text>
<text x="262" y="218.83" font-size="5.9" fill="#4a5876" text-anchor="middle" font-family="Liberation Sans" stroke="#4a5876" stroke-width="0.12">55.8</text>
<text x="269.7" y="231.33" font-size="5.9" fill="#4a5876" text-anchor="middle" font-family="Liberation Sans" stroke="#4a5876" stroke-width="0.12">56</text>
<text x="281.7" y="247.03" font-size="5.9" fill="#4a5876" text-anchor="middle" font-family="Liberation Sans" stroke="#4a5876" stroke-width="0.12">56.2</text>
<text x="311" y="250.03" font-size="5.9" fill="#4a5876" text-anchor="middle" font-family="Liberation Sans" transform="rotate(35 311 247.5)" stroke="#4a5876" stroke-width="0.12">7</text>
<text x="322.7" y="246.03" font-size="5.9" fill="#4a5876" text-anchor="middle" font-family="Liberation Sans" transform="rotate(35 322.7 243.5)" stroke="#4a5876" stroke-width="0.12">8</text>
<text x="333.2" y="243.13" font-size="5.9" fill="#4a5876" text-anchor="middle" font-family="Liberation Sans" transform="rotate(35 333.2 240.6)" stroke="#4a5876" stroke-width="0.12">9</text>
<text x="342.5" y="240.83" font-size="5.9" fill="#4a5876" text-anchor="middle" font-family="Liberation Sans" transform="rotate(35 342.5 238.3)" stroke="#4a5876" stroke-width="0.12">10</text>
<text x="352.5" y="238.53" font-size="5.9" fill="#4a5876" text-anchor="middle" font-family="Liberation Sans" transform="rotate(35 352.5 236)" stroke="#4a5876" stroke-width="0.12">11</text>
<text x="361" y="236.03" font-size="5.9" fill="#4a5876" text-anchor="middle" font-family="Liberation Sans" transform="rotate(35 361 233.5)" stroke="#4a5876" stroke-width="0.12">12</text>
<text x="368.7" y="233.53" font-size="5.9" fill="#4a5876" text-anchor="middle" font-family="Liberation Sans" transform="rotate(35 368.7 231)" stroke="#4a5876" stroke-width="0.12">13</text>
<text x="376.2" y="230.83" font-size="5.9" fill="#4a5876" text-anchor="middle" font-family="Liberation Sans" transform="rotate(35 376.2 228.3)" stroke="#4a5876" stroke-width="0.12">14</text>
<text x="353.3" y="248.69" font-size="6.3" fill="#4a5876" font-family="Liberation Sans" stroke="#4a5876" stroke-width="0.12">SOG</text>
<path d="M314.3 150.2h0M314.3 149h0M314.7 150h0M314.7 149h0M315.1 149.4h0M315.1 148.4h0M315.5 148.3h0M315.5 148.6h0M315.9 148.3h0M315.9 148h0M316.3 148.4h0M316.3 148.7h0M316.7 149.2h0M316.7 148.7h0M317.1 148.2h0M317.1 148.8h0M317.5 148.5h0M317.5 150.6h0M317.9 150.2h0M317.9 149.1h0M318.3 149h0M318.3 149.4h0M318.7 149.6h0M318.7 150.4h0M319.1 150.6h0M319.1 150.1h0M319.5 148.4h0M319.5 148.4h0M319.9 148.2h0M319.9 149.9h0M320.3 149.3h0M320.3 148.5h0M320.7 148h0M320.7 150.1h0M321.1 149.9h0M321.1 150.1h0M321.5 150h0M321.5 148.2h0M321.9 149h0M321.9 148.6h0M322.3 148h0M322.3 148.6h0M322.7 148.9h0M322.7 150.1h0M323.1 149.6h0M323.1 148.7h0M323.5 148.8h0M323.5 148.8h0M323.9 148.5h0M323.9 149.4h0M324.3 148.4h0M324.3 148.3h0M324.7 149.1h0M324.7 149.3h0M325.1 148.8h0M325.1 150.4h0M325.5 150.2h0M325.5 149.9h0M325.9 150.5h0M325.9 150.5h0M326.3 149h0M326.3 148.4h0M326.7 149.7h0M326.7 148.8h0M327.1 148.9h0M327.1 148.3h0M327.5 148.9h0M327.5 148.5h0M327.9 150.2h0M327.9 149.6h0M328.3 149.4h0M328.3 150.1h0M328.7 149.1h0M328.7 149h0M329.1 148.5h0M329.1 149.4h0M329.5 148h0M329.5 149.1h0M329.9 149.5h0M329.9 148.3h0M330.3 150.5h0M330.3 148.7h0M330.7 150.5h0M330.7 150.2h0M331.1 150.5h0M331.1 148.5h0M331.5 149.6h0M331.5 150.1h0M331.9 149.3h0M331.9 148.1h0M332.3 149.8h0M332.3 150h0M332.7 149.3h0M332.7 148.4h0M333.1 149.6h0M333.1 149.4h0M333.5 149.2h0M333.5 150h0M333.9 149.9h0M333.9 150.3h0M334.3 148.3h0M334.3 148.2h0M334.7 148.8h0M334.7 150.1h0M335.1 148.4h0M335.1 150.1h0M335.5 150.3h0M335.5 150.5h0M335.9 149.5h0M335.9 149.8h0M336.3 149.6h0M336.3 147.9h0M336.7 148.7h0M336.7 148.6h0M337.1 149.7h0M337.1 148.2h0" stroke="#EF553B" stroke-width="2.90" stroke-linecap="round" fill="none"/>
<path d="M322.5 153.1h0M322.5 152.4h0M322.9 153.4h0M322.9 152.5h0M323.3 153.6h0M323.3 152.9h0M323.7 153h0M323.7 153.5h0M324.1 153.9h0M324.1 153.1h0M324.5 154.2h0M324.5 153.7h0M324.9 153.4h0M324.9 154h0M325.3 154h0M325.3 153.1h0M325.7 153h0M325.7 153.4h0M326.1 152.3h0M326.1 152.7h0M326.5 154.2h0M326.5 153.6h0M326.9 152.7h0M326.9 152.4h0M327.3 152.7h0M327.3 152.9h0M327.7 154h0M327.7 153.3h0M328.1 154.1h0M328.1 152.9h0M328.5 153.7h0M328.5 152.9h0M328.9 154.2h0M328.9 153.5h0M329.3 152.9h0M329.3 152.8h0M329.7 153.5h0M329.7 154.3h0M330.1 153h0M330.1 153.6h0M330.5 154.3h0M330.5 153.2h0M330.9 153.6h0M330.9 154.3h0M331.3 153h0M331.3 153h0M331.7 152.3h0M331.7 153.6h0M332.1 153.8h0M332.1 153.9h0M332.5 153.9h0M332.5 153.2h0M332.9 154h0M332.9 154.1h0M333.3 152.9h0M333.3 153.3h0M333.7 153.9h0M333.7 153.3h0M334.1 153.4h0M334.1 152.4h0M334.5 152.8h0M334.5 152.7h0M334.9 152.3h0M334.9 153.2h0M335.3 153.2h0M335.3 152.4h0M335.7 152.5h0M335.7 153.3h0M336.1 153.5h0M336.1 154.3h0M336.5 152.2h0M336.5 154h0M336.9 153.7h0M336.9 153.3h0M337.3 152.4h0M337.3 154.3h0M337.7 154h0M337.7 153.1h0M338.1 152.8h0M338.1 154.2h0M338.5 153.3h0M338.5 154.1h0M338.9 153.4h0M338.9 154.2h0M339.3 152.8h0M339.3 152.8h0M339.7 153.1h0M339.7 153h0M340.1 153.2h0M340.1 154h0M340.5 153.4h0M340.5 153.1h0M340.9 152.4h0M340.9 152.9h0M341.3 152.7h0M341.3 153.3h0M341.7 153.1h0M341.7 152.2h0M342.1 154.3h0M342.1 153.5h0M342.5 152.9h0M342.5 153.5h0M342.9 153.3h0M342.9 153.9h0M343.3 152.4h0M343.3 152.8h0M343.7 153.1h0M343.7 153.1h0M344.1 153.7h0M344.1 154.4h0M344.5 152.9h0M344.5 154h0M344.9 153.6h0M344.9 153.9h0M345.3 153.6h0M345.3 154.3h0M345.7 152.3h0M345.7 153.9h0M346.1 152.2h0M346.1 153.1h0M346.5 154.4h0M346.5 152.4h0M346.9 153.2h0M346.9 153.1h0M347.3 153.2h0M347.3 152.9h0M347.7 152.4h0M347.7 154.1h0M348.1 153.4h0M348.1 152.5h0M348.5 154.3h0M348.5 154.3h0M348.9 153.1h0M348.9 154.1h0M349.3 154.2h0M349.3 152.3h0M349.7 153.1h0M349.7 154.3h0M350.1 153.8h0M350.1 153.9h0M350.5 153.9h0M350.5 153.5h0M350.9 153h0M350.9 153h0M351.3 153.4h0M351.3 153.5h0M351.7 153h0M351.7 153.3h0M352.1 153h0M352.1 152.8h0M352.5 153.9h0M352.5 152.8h0M352.9 154.1h0M352.9 153.8h0M353.3 153.6h0M353.3 154.4h0M353.7 153.3h0M353.7 152.8h0M354.1 152.5h0M354.1 154.1h0M354.5 153.8h0M354.5 153.5h0M354.9 152.6h0M354.9 153.9h0M355.3 152.5h0M355.3 152.7h0M355.7 153.4h0M355.7 152.5h0M356.1 153.5h0M356.1 154.3h0M356.5 153.1h0M356.5 153.8h0M356.9 154.2h0M356.9 152.9h0M357.3 152.3h0M357.3 152.8h0M357.7 152.8h0M357.7 153.3h0M358.1 152.9h0M358.1 153.4h0M358.5 152.6h0M358.5 154.2h0M358.9 153.5h0M358.9 153.5h0M359.3 154.3h0M359.3 152.9h0M359.7 154.3h0M359.7 154h0M360.1 153.3h0M360.1 153.9h0M360.5 153.4h0M360.5 153.1h0M360.9 154.4h0M360.9 154.4h0M361.3 152.4h0M361.3 152.5h0M361.7 152.6h0M361.7 153h0M362.1 152.4h0M362.1 152.4h0M362.5 153.6h0M362.5 153.8h0M362.9 154h0M362.9 152.5h0" stroke="#FFA15A" stroke-width="2.70" stroke-linecap="round" fill="none"/>
<path d="M295.5 193.6h0M296 193.5h0M296.5 193.1h0M297 193h0M297.5 192.5h0M298 192.5h0M298.5 192.2h0M299 193.1h0M299.5 192.8h0M300 192.6h0M300.5 193.1h0M301 192.9h0M301.5 193.3h0M302 193h0M302.5 192.7h0M303 192.3h0M303.5 192.5h0M304 192.6h0" stroke="#00CC96" stroke-width="2.70" stroke-linecap="round" fill="none"/>
<path d="M297 196.2h0M297.5 196.3h0M298 197.9h0M298.5 197.7h0M299 198.3h0M299.5 199.7h0M300 200.1h0M300.5 200.8h0M301 202.1h0M301.5 202.2h0" stroke="#00CC96" stroke-width="2.70" stroke-linecap="round" fill="none"/>
<path d="M303 202.9h0M303.5 203.2h0M304 203.1h0M304.5 203.4h0M305 203.2h0M305.5 203.3h0M306 203.5h0M306.5 204.6h0M307 205.1h0M307.5 205h0M308 205.5h0M308.5 206.1h0M309 205.4h0M309.5 206h0M310 206.9h0M310.5 206.2h0M311 206.9h0M311.5 207.2h0M312 207.1h0M312.5 208.2h0M313 207.7h0M313.5 208.6h0M314 208.7h0M314.5 209h0M315 209.2h0" stroke="#00CC96" stroke-width="2.70" stroke-linecap="round" fill="none"/>
<path d="M315 208.7h0M315.5 209.6h0M316 209.5h0M316.5 209.1h0M317 209.6h0M317.5 210.5h0M318 210.8h0M318.5 210.5h0M319 210.3h0M319.5 210.8h0M320 211.4h0M320.5 211.1h0M321 211h0M321.5 211.3h0M322 211.5h0M322.5 212h0M323 212.6h0M323.5 212.8h0M324 212.8h0M324.5 212.7h0M325 212.6h0M325.5 213.8h0M326 213.9h0M326.5 213.9h0M327 213.7h0M327.5 213.9h0M328 214.2h0M328.5 214.5h0M329 214.8h0M329.5 214.7h0M330 214.7h0" stroke="#00CC96" stroke-width="2.70" stroke-linecap="round" fill="none"/>
<path d="M319 188.5h0M319.5 189h0M320 189.2h0M320.5 189.5h0M321 190.1h0M321.5 190.3h0M322 190.7h0M322.5 189.7h0M323 190.2h0M323.5 190.3h0M324 190.4h0M324.5 191h0M325 191.1h0M325.5 192.1h0M326 191.4h0M326.5 192.5h0M327 191.6h0M327.5 192h0M328 192.6h0M328.5 193h0M329 193.5h0M329.5 193.4h0M330 193h0M330.5 194.2h0M331 193.8h0M331.5 194.3h0M332 194.8h0M332.5 194.4h0M333 195.1h0M333.5 194.8h0M334 195.8h0M334.5 194.9h0M335 196h0M335.5 195.3h0M336 196.4h0M336.5 196.3h0M337 196.4h0M337.5 196.5h0M338 197.3h0M338.5 197h0M339 197.1h0M339.5 197.5h0M340 198.2h0M340.5 198.6h0M341 198.4h0M341.5 198.6h0M342 199.3h0M342.5 198.8h0M343 199.5h0M343.5 199.1h0M344 198.9h0M344.5 200.3h0M345 200.2h0M345.5 199.8h0M346 200.5h0M346.5 200.7h0M347 200.8h0M347.5 200.4h0M348 200.7h0M348.5 201.2h0M349 202h0M349.5 201.9h0M350 201.9h0M350.5 202h0M351 202.5h0M351.5 203.1h0M352 203.5h0M352.5 203.5h0M353 203.9h0M353.5 203.8h0M354 204h0M354.5 204.5h0M355 203.7h0M355.5 203.9h0M356 205h0M356.5 205.4h0M357 205.1h0M357.5 205.4h0M358 205.7h0M358.5 205.3h0M359 206.2h0M359.5 206.5h0M360 206h0M360.5 206.8h0M361 207.4h0M361.5 207.4h0M362 207.3h0M362.5 207.8h0M363 207.1h0M363.5 207.6h0M364 208.1h0M364.5 208.1h0M365 207.9h0" stroke="#00CC96" stroke-width="2.70" stroke-linecap="round" fill="none"/>
<path d="M321 194.7h0M321.5 195.2h0M322 195.3h0M322.5 194.7h0M323 195.5h0M323.5 195.8h0M324 195.8h0M324.5 196.1h0M325 196.4h0M325.5 196.9h0M326 196.4h0M326.5 197.3h0M327 197.7h0M327.5 196.9h0M328 197.4h0M328.5 197.8h0M329 198.4h0M329.5 197.9h0M330 199h0M330.5 198.2h0M331 198.6h0M331.5 199.3h0M332 199.7h0M332.5 199.1h0M333 200h0M333.5 199.9h0M334 200.8h0M334.5 200.8h0M335 201h0M335.5 200.4h0M336 201.1h0M336.5 201.2h0M337 201.4h0M337.5 201.4h0M338 202.6h0M338.5 202.7h0M339 202.7h0M339.5 203h0M340 203h0M340.5 203.7h0M341 203.9h0M341.5 203.3h0M342 203.8h0M342.5 204.2h0M343 204.4h0M343.5 204.3h0M344 204.8h0M344.5 204.7h0M345 204.5h0M345.5 205h0M346 205.5h0M346.5 206.3h0M347 206.2h0M347.5 205.9h0M348 206.6h0M348.5 207.3h0M349 207.4h0M349.5 206.5h0M350 207.5h0M350.5 208.1h0M351 208h0M351.5 208.6h0M352 208.5h0M352.5 208.7h0M353 208.7h0M353.5 209.3h0M354 208.9h0M354.5 209.7h0M355 208.9h0" stroke="#00CC96" stroke-width="2.70" stroke-linecap="round" fill="none"/>
<path d="M312 196.5h0M312.5 197.7h0M313 196.8h0M313.5 197.3h0M314 198h0M314.5 198.2h0M315 198.5h0M315.5 198.8h0M316 198.2h0M316.5 199h0M317 199.1h0M317.5 199.4h0M318 199.3h0M318.5 199.3h0M319 200.1h0M319.5 199.6h0M320 200.4h0M320.5 199.7h0M321 200.7h0M321.5 199.9h0M322 200.7h0M322.5 201.2h0M323 201h0M323.5 201.3h0M324 201.7h0M324.5 201.1h0M325 201h0M325.5 202.5h0M326 201.6h0M326.5 201.9h0M327 202.6h0M327.5 202.2h0M328 202.3h0M328.5 203.5h0M329 203.2h0M329.5 203.6h0M330 203.3h0M330.5 203h0M331 203.6h0M331.5 204.2h0M332 204.7h0M332.5 204.7h0M333 204h0M333.5 204.2h0M334 204.5h0M334.5 205.6h0M335 205.3h0M335.5 205.9h0M336 205h0M336.5 205.2h0M337 206.2h0M337.5 205.5h0M338 206.1h0M338.5 205.9h0M339 207.3h0M339.5 207.1h0M340 207.5h0M340.5 207.2h0M341 207.8h0M341.5 207.9h0M342 208.4h0M342.5 207.7h0M343 207.8h0M343.5 208.9h0M344 209h0M344.5 208.8h0M345 209.4h0M345.5 208.5h0M346 208.9h0M346.5 208.9h0M347 209.7h0M347.5 209.5h0M348 209.4h0M348.5 210.7h0M349 210.7h0M349.5 210.8h0M350 211h0M350.5 210.5h0M351 210.8h0M351.5 211.6h0M352 211.9h0" stroke="#00CC96" stroke-width="2.70" stroke-linecap="round" fill="none"/>
<path d="M325 192.6h0M325.5 191.7h0M326 191.8h0M326.5 192.6h0M327 192.4h0M327.5 192.9h0M328 193.3h0M328.5 193.6h0M329 193.9h0M329.5 194.1h0M330 194h0M330.5 194.1h0M331 194.9h0M331.5 194.3h0M332 195.2h0M332.5 195.1h0M333 195.6h0M333.5 195.4h0M334 196h0M334.5 195.3h0M335 195.3h0M335.5 196.4h0M336 195.9h0M336.5 196h0M337 196.4h0M337.5 197.1h0M338 196.8h0M338.5 197.8h0M339 197.1h0M339.5 197.4h0M340 198.2h0M340.5 198.3h0M341 198.3h0M341.5 198.5h0M342 198.7h0M342.5 199.1h0M343 198.8h0M343.5 198.7h0M344 198.8h0M344.5 199h0M345 199.2h0M345.5 200.1h0M346 200h0M346.5 200.6h0M347 201h0M347.5 201.1h0M348 200.7h0M348.5 201.4h0M349 200.8h0M349.5 201.2h0M350 201.1h0M350.5 201.4h0M351 201.4h0M351.5 202.4h0M352 203h0M352.5 202.9h0M353 203.1h0M353.5 202.7h0M354 202.6h0M354.5 203.5h0M355 203.9h0M355.5 203.5h0M356 203.6h0M356.5 204.1h0M357 204.8h0M357.5 204.4h0M358 204.2h0M358.5 205.4h0M359 204.9h0M359.5 205.6h0M360 205.2h0" stroke="#00CC96" stroke-width="2.70" stroke-linecap="round" fill="none"/>
<path d="M309.8 189h0M310.3 190.4h0M310.8 192.3h0M311.3 193.7h0" stroke="#00CC96" stroke-width="2.70" stroke-linecap="round" fill="none"/>
<path d="M319 187.2h0M319.5 189.5h0M320 191.1h0M320.5 192.5h0M321 194.2h0" stroke="#00CC96" stroke-width="2.70" stroke-linecap="round" fill="none"/>
<path d="M321.5 204.9h0M316.1 200.7h0M322.3 207.2h0M325.4 208.1h0M319.9 204.8h0M319.5 204h0M312.3 198.6h0M319.6 203h0M316.8 201.1h0M317.5 202.9h0M312.3 199h0M329.8 211.3h0M331.4 213.9h0M327.1 210h0M327.1 211.3h0M315.3 199.6h0M321.3 204.5h0M320.3 206h0M314.7 199.2h0M312.3 197.1h0M321 203.8h0M320.7 204.4h0M322.3 205h0M331.5 211.5h0M325.3 207.4h0M322 205.7h0M319.8 204.2h0M331.9 212.5h0M330.8 214.3h0M319.8 202.9h0M327.9 211h0M319.9 204.5h0M314.9 199.3h0M312.7 197.9h0M318.1 204h0M325.6 207.5h0M318.4 202.3h0M312.3 199.8h0M313.6 198.2h0M325.6 209.7h0M326.1 208.1h0M327.9 212.9h0M329.1 211.7h0M319.9 203.7h0M323.2 208.1h0M339 211.3h0M335.3 211.2h0M341.6 213.5h0M336.1 211.9h0M343.8 213h0M351.2 215.1h0M346.9 213.1h0M347.8 213.3h0M340.5 213.6h0M350.2 215.2h0M341.2 213h0M341.2 212.8h0M334.7 210.3h0M338.2 211.6h0M341.4 213.2h0M345.9 212.5h0M336.4 211.8h0M342.7 211.7h0M352.8 223.1h0M355.7 222.6h0M344.6 220.7h0M353.7 223.2h0M344.2 221.4h0M347.2 221.2h0M350.4 223.1h0M331.4 218h0M333.3 223.6h0M298.5 203h0M308 204.8h0M299.5 202.5h0M307.2 206h0M313.6 200.4h0" stroke="#19D3F3" stroke-width="2.70" stroke-linecap="round" fill="none"/>
<path d="M316.4 179.5h0M318.5 180.5h0M320.5 179.8h0M322.5 180.8h0M324.5 181.5h0M326.7 182.2h0M307 187.9h0M307.2 188.4h0M324.8 186h0M327 187h0M329 187.5h0M331.4 188.8h0M332.4 192.6h0M335 193h0M338 193.5h0M341.8 194.5h0M344.6 200.5h0M347 199.5h0M349.5 198.5h0M352 197.8h0M354 197.3h0M340.8 203.9h0" stroke="#AB63FA" stroke-width="2.80" stroke-linecap="round" fill="none"/>
<polygon points="262,196.8 273.5,187.4 319.2,229.8 308.4,239.4" fill="none" stroke="#E2406B" stroke-width="0.9"/>
<path d="M274.8 198.1h0M275.2 198.2h0M275.6 198.5h0M276 198.7h0M276.4 199.9h0M276.8 199.7h0M277.2 200.6h0M277.6 200.7h0M278 200.6h0" stroke="#00CC96" stroke-width="2.80" stroke-linecap="round" fill="none"/>
<path d="M278.3 205.6h0M278.7 206.4h0M279.1 206.2h0M279.5 206.3h0M279.9 207h0M280.3 208.6h0M280.7 208.7h0M281.1 208h0M281.5 209.7h0M281.9 209.3h0M282.3 210.4h0M282.7 210.2h0M283.1 210.9h0M283.5 210.6h0M283.9 212.4h0" stroke="#00CC96" stroke-width="2.80" stroke-linecap="round" fill="none"/>
<path d="M286 213.2h0M286.4 214.3h0M286.8 214.2h0M287.2 214.8h0M287.6 214.7h0M288 215h0M288.4 215h0M288.8 215.7h0M289.2 215h0M289.6 215.8h0M290 216.4h0M290.4 216.4h0M290.8 217.5h0M291.2 216.5h0M291.6 217.4h0M292 216.9h0M292.4 217.7h0M292.8 218.5h0" stroke="#00CC96" stroke-width="2.80" stroke-linecap="round" fill="none"/>
<circle cx="397.2" cy="142" r="0.8" fill="#EF553B"/>
<text x="404.3" y="144.0" font-size="4.35" fill="#7a7f8a" font-family="Liberation Sans" stroke="#7a7f8a" stroke-width="0.05">Cluster 0</text>
<circle cx="397.2" cy="147.8" r="0.8" fill="#00CC96"/>
<text x="404.3" y="149.75" font-size="4.35" fill="#7a7f8a" font-family="Liberation Sans" stroke="#7a7f8a" stroke-width="0.05">Cluster 1</text>
<circle cx="397.2" cy="153.5" r="0.8" fill="#AB63FA"/>
<text x="404.3" y="155.5" font-size="4.35" fill="#7a7f8a" font-family="Liberation Sans" stroke="#7a7f8a" stroke-width="0.05">Cluster 2</text>
<circle cx="397.2" cy="159.2" r="0.8" fill="#FFA15A"/>
<text x="404.3" y="161.25" font-size="4.35" fill="#7a7f8a" font-family="Liberation Sans" stroke="#7a7f8a" stroke-width="0.05">Cluster 3</text>
<circle cx="397.2" cy="165" r="0.8" fill="#19D3F3"/>
<text x="404.3" y="167.0" font-size="4.35" fill="#7a7f8a" font-family="Liberation Sans" stroke="#7a7f8a" stroke-width="0.05">Cluster 4</text>
<text x="337.8" y="274.6" font-size="13" fill="#000" text-anchor="middle" font-family="Liberation Sans">(d)</text>
<g fill="#4DAF4A" stroke="#fff" stroke-width="0.3"><circle cx="60" cy="289.9" r="1.5"/><circle cx="60.1" cy="290.2" r="1.5"/><circle cx="61.3" cy="289.5" r="1.5"/><circle cx="61" cy="289.6" r="1.5"/><circle cx="62.5" cy="290.7" r="1.5"/><circle cx="62.2" cy="289.4" r="1.5"/><circle cx="63.6" cy="289.6" r="1.5"/><circle cx="63.8" cy="289.2" r="1.5"/><circle cx="64.9" cy="289.2" r="1.5"/><circle cx="64.8" cy="290.9" r="1.5"/><circle cx="65.9" cy="291" r="1.5"/><circle cx="66" cy="290.9" r="1.5"/><circle cx="67.3" cy="291" r="1.5"/><circle cx="67.3" cy="290.9" r="1.5"/><circle cx="68.2" cy="289.7" r="1.5"/><circle cx="68.5" cy="289.5" r="1.5"/><circle cx="69.6" cy="290.3" r="1.5"/><circle cx="69.4" cy="290.2" r="1.5"/><circle cx="70.8" cy="291.2" r="1.5"/><circle cx="70.8" cy="290.4" r="1.5"/><circle cx="72" cy="291.1" r="1.5"/><circle cx="72.1" cy="290.3" r="1.5"/><circle cx="73.3" cy="289.5" r="1.5"/><circle cx="73.1" cy="290.5" r="1.5"/><circle cx="74.4" cy="289.4" r="1.5"/><circle cx="74.2" cy="289.8" r="1.5"/><circle cx="75.7" cy="290.9" r="1.5"/><circle cx="75.7" cy="291.1" r="1.5"/><circle cx="77" cy="290" r="1.5"/><circle cx="76.7" cy="289.6" r="1.5"/><circle cx="78.1" cy="290.1" r="1.5"/><circle cx="77.8" cy="289.3" r="1.5"/><circle cx="79" cy="291.1" r="1.5"/><circle cx="79.2" cy="290.7" r="1.5"/><circle cx="80.5" cy="291.2" r="1.5"/><circle cx="80.4" cy="290.1" r="1.5"/><circle cx="81.5" cy="290.6" r="1.5"/><circle cx="81.8" cy="289.1" r="1.5"/><circle cx="82.9" cy="290.3" r="1.5"/><circle cx="82.6" cy="290.3" r="1.5"/><circle cx="83.9" cy="289.3" r="1.5"/><circle cx="84.1" cy="291.2" r="1.5"/><circle cx="85.2" cy="289.7" r="1.5"/><circle cx="85.2" cy="291.2" r="1.5"/><circle cx="86.4" cy="289.7" r="1.5"/><circle cx="86.4" cy="289.4" r="1.5"/><circle cx="87.6" cy="289.2" r="1.5"/><circle cx="87.4" cy="289.3" r="1.5"/><circle cx="88.8" cy="290.7" r="1.5"/><circle cx="88.8" cy="289.4" r="1.5"/><circle cx="89.9" cy="291" r="1.5"/><circle cx="90" cy="289.6" r="1.5"/><circle cx="91.2" cy="291" r="1.5"/><circle cx="91.3" cy="290.1" r="1.5"/><circle cx="92.6" cy="289.8" r="1.5"/><circle cx="92.3" cy="289.6" r="1.5"/><circle cx="93.7" cy="290.1" r="1.5"/><circle cx="93.7" cy="290.7" r="1.5"/><circle cx="94.9" cy="289" r="1.5"/><circle cx="94.7" cy="291" r="1.5"/><circle cx="95.9" cy="289.4" r="1.5"/><circle cx="95.9" cy="289.3" r="1.5"/><circle cx="97.3" cy="290.1" r="1.5"/><circle cx="97.2" cy="290" r="1.5"/><circle cx="98.5" cy="290.5" r="1.5"/><circle cx="98.5" cy="291.1" r="1.5"/><circle cx="99.4" cy="290.1" r="1.5"/><circle cx="99.5" cy="289.6" r="1.5"/><circle cx="100.9" cy="291.1" r="1.5"/><circle cx="100.7" cy="289.2" r="1.5"/><circle cx="102.1" cy="289.9" r="1.5"/><circle cx="101.9" cy="291.1" r="1.5"/><circle cx="103.2" cy="290.5" r="1.5"/><circle cx="103.2" cy="290.9" r="1.5"/><circle cx="104.4" cy="290.6" r="1.5"/><circle cx="104.5" cy="290.5" r="1.5"/><circle cx="105.6" cy="289.8" r="1.5"/><circle cx="105.7" cy="290.3" r="1.5"/><circle cx="106.7" cy="290.2" r="1.5"/><circle cx="106.8" cy="290" r="1.5"/><circle cx="107.9" cy="289.8" r="1.5"/><circle cx="107.8" cy="289.1" r="1.5"/><circle cx="109" cy="289.3" r="1.5"/><circle cx="109.4" cy="289.7" r="1.5"/><circle cx="110.6" cy="289.8" r="1.5"/><circle cx="110.6" cy="290.4" r="1.5"/><circle cx="111.8" cy="290.3" r="1.5"/><circle cx="111.4" cy="290.7" r="1.5"/><circle cx="113" cy="289.3" r="1.5"/><circle cx="112.9" cy="290.1" r="1.5"/><circle cx="114.2" cy="292" r="1.5"/><circle cx="113.9" cy="291.1" r="1.5"/><circle cx="115.3" cy="291.8" r="1.5"/><circle cx="115.3" cy="290.7" r="1.5"/></g>
<g fill="#E41A1C" stroke="#fff" stroke-width="0.3"><circle cx="114" cy="293.3" r="1.5"/><circle cx="114.2" cy="294.8" r="1.5"/><circle cx="115.3" cy="295.1" r="1.5"/><circle cx="115.2" cy="294.3" r="1.5"/><circle cx="116.4" cy="294.6" r="1.5"/><circle cx="116.3" cy="294.1" r="1.5"/><circle cx="117.4" cy="294.8" r="1.5"/><circle cx="117.4" cy="294.9" r="1.5"/><circle cx="118.6" cy="295.1" r="1.5"/><circle cx="118.8" cy="294.4" r="1.5"/><circle cx="120.2" cy="295.7" r="1.5"/><circle cx="120.1" cy="295.7" r="1.5"/><circle cx="121.2" cy="295.1" r="1.5"/><circle cx="121.4" cy="295.3" r="1.5"/><circle cx="122.2" cy="295.9" r="1.5"/><circle cx="122.5" cy="295.6" r="1.5"/><circle cx="123.8" cy="295.9" r="1.5"/><circle cx="123.6" cy="295" r="1.5"/><circle cx="124.7" cy="294.8" r="1.5"/><circle cx="124.9" cy="295.9" r="1.5"/><circle cx="125.9" cy="295.9" r="1.5"/><circle cx="125.8" cy="295.7" r="1.5"/><circle cx="127.1" cy="295.3" r="1.5"/><circle cx="127.4" cy="294.9" r="1.5"/><circle cx="128.6" cy="294.4" r="1.5"/><circle cx="128.6" cy="295.6" r="1.5"/><circle cx="129.8" cy="295.1" r="1.5"/><circle cx="129.6" cy="295.4" r="1.5"/><circle cx="130.7" cy="295.5" r="1.5"/><circle cx="130.7" cy="295.5" r="1.5"/><circle cx="132.1" cy="294.5" r="1.5"/><circle cx="132.2" cy="294.5" r="1.5"/><circle cx="133.4" cy="294.8" r="1.5"/><circle cx="133.3" cy="295" r="1.5"/><circle cx="134.5" cy="295.1" r="1.5"/><circle cx="134.3" cy="294.8" r="1.5"/><circle cx="135.8" cy="294.9" r="1.5"/><circle cx="135.6" cy="296.1" r="1.5"/><circle cx="137" cy="296.2" r="1.5"/><circle cx="136.8" cy="294.7" r="1.5"/><circle cx="137.9" cy="294.9" r="1.5"/><circle cx="137.9" cy="295" r="1.5"/><circle cx="139.1" cy="295.5" r="1.5"/><circle cx="139.1" cy="295.1" r="1.5"/><circle cx="140.5" cy="295" r="1.5"/><circle cx="140.6" cy="295" r="1.5"/><circle cx="141.4" cy="294.7" r="1.5"/><circle cx="141.6" cy="295" r="1.5"/><circle cx="142.8" cy="295.1" r="1.5"/><circle cx="142.9" cy="295.9" r="1.5"/><circle cx="144.2" cy="295" r="1.5"/><circle cx="144" cy="295.2" r="1.5"/><circle cx="145.3" cy="295.2" r="1.5"/><circle cx="145.2" cy="295.6" r="1.5"/><circle cx="146.2" cy="294.9" r="1.5"/><circle cx="146.5" cy="295" r="1.5"/><circle cx="147.6" cy="296.2" r="1.5"/><circle cx="147.5" cy="294.7" r="1.5"/><circle cx="148.7" cy="296.3" r="1.5"/><circle cx="148.6" cy="295.3" r="1.5"/><circle cx="149.9" cy="295.5" r="1.5"/><circle cx="150.2" cy="296.4" r="1.5"/><circle cx="151.3" cy="295.5" r="1.5"/><circle cx="151.2" cy="295.8" r="1.5"/><circle cx="152.2" cy="296" r="1.5"/><circle cx="152.5" cy="294.9" r="1.5"/><circle cx="153.7" cy="295.6" r="1.5"/><circle cx="153.7" cy="295.7" r="1.5"/><circle cx="154.7" cy="295.1" r="1.5"/><circle cx="154.9" cy="295.2" r="1.5"/><circle cx="156.1" cy="295.6" r="1.5"/><circle cx="155.9" cy="296.1" r="1.5"/><circle cx="157.3" cy="296" r="1.5"/><circle cx="157.2" cy="295.6" r="1.5"/><circle cx="158.4" cy="295.6" r="1.5"/><circle cx="158.4" cy="295.1" r="1.5"/><circle cx="159.5" cy="296.3" r="1.5"/><circle cx="159.5" cy="295.5" r="1.5"/><circle cx="161" cy="295.3" r="1.5"/><circle cx="160.6" cy="296.1" r="1.5"/><circle cx="161.9" cy="295.7" r="1.5"/><circle cx="161.8" cy="295.5" r="1.5"/><circle cx="163.1" cy="295.9" r="1.5"/><circle cx="163" cy="296" r="1.5"/><circle cx="164.4" cy="295.8" r="1.5"/><circle cx="164.2" cy="296" r="1.5"/><circle cx="165.6" cy="296.3" r="1.5"/><circle cx="165.5" cy="295.3" r="1.5"/><circle cx="166.6" cy="296.3" r="1.5"/><circle cx="166.7" cy="295.9" r="1.5"/><circle cx="168.2" cy="295.5" r="1.5"/><circle cx="167.9" cy="295.1" r="1.5"/><circle cx="169.1" cy="294.9" r="1.5"/><circle cx="169" cy="295" r="1.5"/><circle cx="170.6" cy="296.2" r="1.5"/><circle cx="170.4" cy="295.2" r="1.5"/><circle cx="171.5" cy="296.7" r="1.5"/><circle cx="171.6" cy="295.2" r="1.5"/><circle cx="172.8" cy="295.1" r="1.5"/><circle cx="173" cy="296.5" r="1.5"/><circle cx="174" cy="295.2" r="1.5"/><circle cx="174" cy="295.9" r="1.5"/><circle cx="175.2" cy="295.3" r="1.5"/><circle cx="175.3" cy="295.3" r="1.5"/><circle cx="176.2" cy="295.2" r="1.5"/><circle cx="176.3" cy="296.6" r="1.5"/><circle cx="177.6" cy="295.8" r="1.5"/><circle cx="177.4" cy="295.9" r="1.5"/><circle cx="179" cy="296.5" r="1.5"/><circle cx="178.7" cy="295.6" r="1.5"/><circle cx="180.1" cy="295.6" r="1.5"/><circle cx="180" cy="296" r="1.5"/></g>
<g fill="#FFFF33" stroke="#fff" stroke-width="0.3"><circle cx="51.2" cy="332.8" r="1.45"/><circle cx="54" cy="332.8" r="1.45"/><circle cx="56.8" cy="332.7" r="1.45"/><circle cx="58.7" cy="332.9" r="1.45"/><circle cx="60.8" cy="332.6" r="1.45"/><circle cx="63" cy="332.8" r="1.45"/><circle cx="65.2" cy="333" r="1.45"/><circle cx="67.4" cy="332.7" r="1.45"/><circle cx="69.6" cy="332.8" r="1.45"/><circle cx="71.8" cy="332.6" r="1.45"/><circle cx="73.8" cy="332.8" r="1.45"/><circle cx="76" cy="332.7" r="1.45"/></g>
<g fill="#984EA3" stroke="#fff" stroke-width="0.3"><circle cx="44.9" cy="348.4" r="1.5"/><circle cx="45" cy="348.2" r="1.5"/><circle cx="46.2" cy="348.4" r="1.5"/><circle cx="46" cy="349" r="1.5"/><circle cx="47.2" cy="348.2" r="1.5"/><circle cx="47.1" cy="347.6" r="1.5"/><circle cx="48.3" cy="347.8" r="1.5"/><circle cx="48.2" cy="348.5" r="1.5"/><circle cx="49.3" cy="348.1" r="1.5"/><circle cx="49.6" cy="348" r="1.5"/><circle cx="50.4" cy="348.8" r="1.5"/><circle cx="50.4" cy="347.9" r="1.5"/><circle cx="51.8" cy="348.8" r="1.5"/><circle cx="51.6" cy="347.4" r="1.5"/><circle cx="52.6" cy="348" r="1.5"/><circle cx="52.8" cy="348.4" r="1.5"/><circle cx="54" cy="348" r="1.5"/><circle cx="53.7" cy="348.3" r="1.5"/><circle cx="54.8" cy="348.5" r="1.5"/><circle cx="54.9" cy="348" r="1.5"/><circle cx="55.8" cy="347.7" r="1.5"/><circle cx="56.1" cy="348" r="1.5"/><circle cx="57.1" cy="347.7" r="1.5"/><circle cx="57" cy="348.3" r="1.5"/><circle cx="58.3" cy="347.9" r="1.5"/><circle cx="58.2" cy="348.6" r="1.5"/><circle cx="59.1" cy="348.3" r="1.5"/><circle cx="59.2" cy="347.7" r="1.5"/><circle cx="60.4" cy="347.4" r="1.5"/><circle cx="60.5" cy="348.3" r="1.5"/><circle cx="61.5" cy="348.3" r="1.5"/><circle cx="61.4" cy="348.7" r="1.5"/><circle cx="62.5" cy="347.8" r="1.5"/><circle cx="62.7" cy="347.8" r="1.5"/><circle cx="63.9" cy="348.1" r="1.5"/><circle cx="63.7" cy="348.1" r="1.5"/><circle cx="64.6" cy="348.3" r="1.5"/><circle cx="64.7" cy="348.1" r="1.5"/><circle cx="65.9" cy="348.1" r="1.5"/><circle cx="66" cy="348.4" r="1.5"/><circle cx="67" cy="347.3" r="1.5"/><circle cx="66.9" cy="348" r="1.5"/><circle cx="68.2" cy="347.6" r="1.5"/><circle cx="68" cy="347.6" r="1.5"/><circle cx="69.4" cy="347.8" r="1.5"/><circle cx="69.1" cy="348.1" r="1.5"/><circle cx="70.2" cy="347.6" r="1.5"/><circle cx="70.1" cy="348.6" r="1.5"/><circle cx="71.5" cy="347.7" r="1.5"/><circle cx="71.4" cy="347.4" r="1.5"/><circle cx="72.5" cy="348.6" r="1.5"/><circle cx="72.5" cy="348.4" r="1.5"/><circle cx="73.8" cy="348.7" r="1.5"/><circle cx="73.7" cy="348.2" r="1.5"/><circle cx="74.8" cy="348.4" r="1.5"/><circle cx="74.8" cy="347.9" r="1.5"/><circle cx="75.9" cy="347.9" r="1.5"/><circle cx="75.7" cy="348.6" r="1.5"/><circle cx="77.1" cy="348.1" r="1.5"/><circle cx="76.8" cy="348.4" r="1.5"/><circle cx="77.8" cy="348" r="1.5"/><circle cx="78.1" cy="347.7" r="1.5"/><circle cx="79.1" cy="347.6" r="1.5"/><circle cx="79.3" cy="348.5" r="1.5"/><circle cx="80" cy="347.9" r="1.5"/><circle cx="80.3" cy="347.9" r="1.5"/><circle cx="81.4" cy="348.5" r="1.5"/><circle cx="81.3" cy="347.4" r="1.5"/><circle cx="82.3" cy="348.4" r="1.5"/><circle cx="82.6" cy="348.5" r="1.5"/><circle cx="83.5" cy="347.8" r="1.5"/><circle cx="83.6" cy="347.3" r="1.5"/><circle cx="84.7" cy="348.8" r="1.5"/><circle cx="84.8" cy="347.8" r="1.5"/><circle cx="85.7" cy="347.2" r="1.5"/><circle cx="85.7" cy="347.3" r="1.5"/><circle cx="86.6" cy="347.7" r="1.5"/><circle cx="86.9" cy="348.6" r="1.5"/><circle cx="87.8" cy="348.1" r="1.5"/><circle cx="87.8" cy="348" r="1.5"/><circle cx="89.1" cy="348.1" r="1.5"/><circle cx="88.9" cy="348.7" r="1.5"/><circle cx="90" cy="347.6" r="1.5"/><circle cx="90.2" cy="348.7" r="1.5"/><circle cx="91.2" cy="347.8" r="1.5"/><circle cx="91.2" cy="348.5" r="1.5"/><circle cx="92.3" cy="348.2" r="1.5"/><circle cx="92.1" cy="348.2" r="1.5"/><circle cx="93.5" cy="347.5" r="1.5"/><circle cx="93.4" cy="348.7" r="1.5"/><circle cx="94.5" cy="348.3" r="1.5"/><circle cx="94.5" cy="347.8" r="1.5"/></g>
<g fill="#A65628" stroke="#fff" stroke-width="0.3"><circle cx="52" cy="343.5" r="1.3"/><circle cx="52" cy="346.5" r="1.3"/><circle cx="52" cy="351.5" r="1.3"/><circle cx="79" cy="338.8" r="1.3"/><circle cx="87.5" cy="338.3" r="1.3"/><circle cx="89.5" cy="338.4" r="1.3"/><circle cx="91.5" cy="338.3" r="1.3"/><circle cx="94" cy="338.5" r="1.3"/><circle cx="87.3" cy="341.6" r="1.3"/><circle cx="87.3" cy="344.5" r="1.3"/><circle cx="94.5" cy="343.5" r="1.3"/><circle cx="96" cy="352" r="1.3"/><circle cx="122.2" cy="341.4" r="1.3"/><circle cx="122.2" cy="344.5" r="1.3"/><circle cx="122.2" cy="347.5" r="1.3"/><circle cx="122.2" cy="351" r="1.3"/><circle cx="126" cy="342.3" r="1.3"/><circle cx="107.5" cy="351" r="1.3"/></g>
<g fill="#377EB8" stroke="#fff" stroke-width="0.3"><circle cx="69" cy="353.5" r="1.3"/></g>
<g fill="#377EB8" stroke="#fff" stroke-width="0.3"><circle cx="94.7" cy="354.3" r="1.4"/><circle cx="95.7" cy="353.9" r="1.4"/><circle cx="97" cy="354.3" r="1.4"/><circle cx="98.3" cy="354.9" r="1.4"/><circle cx="99.3" cy="354.9" r="1.4"/><circle cx="100.3" cy="354.4" r="1.4"/><circle cx="101.7" cy="354.3" r="1.4"/><circle cx="102.7" cy="354.9" r="1.4"/><circle cx="104.2" cy="355.2" r="1.4"/><circle cx="105.2" cy="355" r="1.4"/><circle cx="106.5" cy="354.6" r="1.4"/><circle cx="107.7" cy="354.6" r="1.4"/><circle cx="108.9" cy="354.9" r="1.4"/><circle cx="110.3" cy="354.6" r="1.4"/><circle cx="111.3" cy="354.5" r="1.4"/><circle cx="112.3" cy="354.6" r="1.4"/><circle cx="113.8" cy="354.6" r="1.4"/><circle cx="114.9" cy="355.1" r="1.4"/><circle cx="116.2" cy="354.4" r="1.4"/><circle cx="117.3" cy="354.3" r="1.4"/><circle cx="118.6" cy="354.3" r="1.4"/><circle cx="119.8" cy="355" r="1.4"/><circle cx="121" cy="354.5" r="1.4"/><circle cx="122" cy="354.7" r="1.4"/><circle cx="123.2" cy="354.9" r="1.4"/><circle cx="124.6" cy="355.1" r="1.4"/><circle cx="125.8" cy="354.2" r="1.4"/><circle cx="126.7" cy="354.6" r="1.4"/><circle cx="128.1" cy="354.6" r="1.4"/><circle cx="129.2" cy="354.2" r="1.4"/><circle cx="130.4" cy="354.9" r="1.4"/><circle cx="131.7" cy="355" r="1.4"/><circle cx="132.8" cy="354.8" r="1.4"/><circle cx="134.2" cy="354.1" r="1.4"/><circle cx="135.3" cy="354.4" r="1.4"/><circle cx="136.5" cy="354.8" r="1.4"/><circle cx="137.6" cy="354.3" r="1.4"/><circle cx="139.1" cy="354.9" r="1.4"/><circle cx="140.1" cy="354.4" r="1.4"/><circle cx="141.2" cy="355" r="1.4"/><circle cx="142.6" cy="354.6" r="1.4"/><circle cx="143.7" cy="354.7" r="1.4"/><circle cx="144.8" cy="354.9" r="1.4"/><circle cx="146" cy="354.3" r="1.4"/><circle cx="147.3" cy="354.4" r="1.4"/><circle cx="148.6" cy="354.2" r="1.4"/><circle cx="149.8" cy="354.7" r="1.4"/><circle cx="151" cy="354.7" r="1.4"/><circle cx="152" cy="354.5" r="1.4"/><circle cx="153.1" cy="354.2" r="1.4"/><circle cx="154.6" cy="355" r="1.4"/><circle cx="155.7" cy="354.6" r="1.4"/><circle cx="156.9" cy="354.4" r="1.4"/><circle cx="158.2" cy="354" r="1.4"/><circle cx="159.1" cy="354.4" r="1.4"/><circle cx="160.5" cy="354.9" r="1.4"/><circle cx="161.6" cy="354" r="1.4"/><circle cx="162.9" cy="354.3" r="1.4"/><circle cx="164.1" cy="354" r="1.4"/><circle cx="165.4" cy="354.6" r="1.4"/><circle cx="166.6" cy="354.3" r="1.4"/><circle cx="167.5" cy="354.1" r="1.4"/><circle cx="168.8" cy="354" r="1.4"/><circle cx="170" cy="354.8" r="1.4"/><circle cx="171.4" cy="354.8" r="1.4"/><circle cx="172.7" cy="354.7" r="1.4"/><circle cx="173.8" cy="354.6" r="1.4"/><circle cx="175" cy="354.7" r="1.4"/><circle cx="176.2" cy="354.3" r="1.4"/></g>
<g fill="#FF7F00" stroke="#fff" stroke-width="0.3"><circle cx="44.7" cy="359.5" r="1.3"/><circle cx="46" cy="359.7" r="1.3"/><circle cx="47.2" cy="360.1" r="1.3"/><circle cx="48.2" cy="360.2" r="1.3"/><circle cx="49.4" cy="360.3" r="1.3"/><circle cx="50.7" cy="360.1" r="1.3"/><circle cx="51.7" cy="360.3" r="1.3"/></g>
<g fill="#FF7F00" stroke="#fff" stroke-width="0.3"><circle cx="54" cy="362" r="1.3"/><circle cx="56" cy="364" r="1.3"/><circle cx="58" cy="361.5" r="1.3"/><circle cx="60" cy="363.5" r="1.3"/><circle cx="61" cy="360" r="1.3"/><circle cx="63" cy="361" r="1.3"/><circle cx="63" cy="364" r="1.3"/><circle cx="66" cy="361" r="1.3"/><circle cx="66" cy="364" r="1.3"/><circle cx="68" cy="358.2" r="1.3"/><circle cx="68" cy="361" r="1.3"/><circle cx="70" cy="358.2" r="1.3"/></g>
<g fill="#FF7F00" stroke="#fff" stroke-width="0.3"><circle cx="68.1" cy="364.4" r="1.3"/><circle cx="69.2" cy="364.4" r="1.3"/><circle cx="70.5" cy="364.6" r="1.3"/><circle cx="72" cy="364.3" r="1.3"/><circle cx="73.3" cy="364.5" r="1.3"/><circle cx="74.7" cy="364.2" r="1.3"/><circle cx="75.8" cy="364.3" r="1.3"/><circle cx="77" cy="364.3" r="1.3"/><circle cx="78.4" cy="364.7" r="1.3"/><circle cx="79.5" cy="364.8" r="1.3"/><circle cx="81.2" cy="364.7" r="1.3"/><circle cx="82.5" cy="364.4" r="1.3"/><circle cx="83.7" cy="364.4" r="1.3"/><circle cx="84.9" cy="364.4" r="1.3"/><circle cx="86.3" cy="364.6" r="1.3"/><circle cx="87.3" cy="364.4" r="1.3"/></g>
<g fill="#FF7F00" stroke="#fff" stroke-width="0.3"><circle cx="88" cy="359" r="1.3"/><circle cx="88" cy="361.5" r="1.3"/><circle cx="90" cy="365.5" r="1.3"/><circle cx="92" cy="364" r="1.3"/><circle cx="94" cy="363.5" r="1.3"/><circle cx="96" cy="363" r="1.3"/></g>
<g fill="#FF7F00" stroke="#fff" stroke-width="0.3"><circle cx="97.1" cy="363.4" r="1.3"/><circle cx="98.6" cy="363.4" r="1.3"/><circle cx="100.2" cy="363.6" r="1.3"/><circle cx="101.8" cy="363.7" r="1.3"/><circle cx="103.5" cy="363.5" r="1.3"/><circle cx="105" cy="363.2" r="1.3"/><circle cx="106.7" cy="363.6" r="1.3"/><circle cx="108.2" cy="363.5" r="1.3"/><circle cx="110" cy="363.7" r="1.3"/><circle cx="111.4" cy="363.4" r="1.3"/><circle cx="112.8" cy="363.2" r="1.3"/><circle cx="114.5" cy="363.4" r="1.3"/><circle cx="116.1" cy="363.6" r="1.3"/><circle cx="117.9" cy="363.5" r="1.3"/><circle cx="119.3" cy="363.3" r="1.3"/><circle cx="121" cy="363.4" r="1.3"/><circle cx="122.5" cy="363.8" r="1.3"/><circle cx="124.2" cy="363.7" r="1.3"/><circle cx="126" cy="365" r="1.3"/><circle cx="127.3" cy="365" r="1.3"/><circle cx="128.8" cy="364.7" r="1.3"/><circle cx="130.6" cy="364.5" r="1.3"/><circle cx="132.2" cy="364.8" r="1.3"/><circle cx="133.6" cy="365.1" r="1.3"/><circle cx="135.5" cy="365.1" r="1.3"/><circle cx="137.1" cy="364.6" r="1.3"/><circle cx="138.4" cy="364.6" r="1.3"/><circle cx="140.1" cy="364.9" r="1.3"/><circle cx="141.8" cy="364.9" r="1.3"/><circle cx="143.3" cy="364.9" r="1.3"/><circle cx="144.8" cy="364.9" r="1.3"/><circle cx="146.7" cy="365" r="1.3"/><circle cx="148.3" cy="364.7" r="1.3"/><circle cx="149.9" cy="364.6" r="1.3"/><circle cx="151.6" cy="364.6" r="1.3"/><circle cx="152.8" cy="364.6" r="1.3"/><circle cx="154.7" cy="365" r="1.3"/><circle cx="156" cy="363.2" r="1.3"/><circle cx="157.9" cy="362" r="1.3"/><circle cx="159.5" cy="361.7" r="1.3"/></g>
<g fill="#FF7F00" stroke="#fff" stroke-width="0.3"><circle cx="160.8" cy="368" r="1.3"/><circle cx="163.2" cy="368" r="1.3"/><circle cx="165.4" cy="368.1" r="1.3"/><circle cx="167.7" cy="368.1" r="1.3"/><circle cx="169.7" cy="368" r="1.3"/><circle cx="171.9" cy="368.2" r="1.3"/><circle cx="174.3" cy="368.1" r="1.3"/><circle cx="176.2" cy="367.9" r="1.3"/><circle cx="178.7" cy="368.1" r="1.3"/><circle cx="180.7" cy="367.9" r="1.3"/></g>
<line x1="38" y1="292.4" x2="39.6" y2="292.4" stroke="#777" stroke-width="0.5"/>
<text x="35.800000000000004" y="294.55" font-size="4.5" fill="#1a1a1a" text-anchor="end" font-family="DejaVu Sans" stroke="#1a1a1a" stroke-width="0.14">250</text>
<line x1="38" y1="308.5" x2="39.6" y2="308.5" stroke="#777" stroke-width="0.5"/>
<text x="35.800000000000004" y="310.65" font-size="4.5" fill="#1a1a1a" text-anchor="end" font-family="DejaVu Sans" stroke="#1a1a1a" stroke-width="0.14">200</text>
<line x1="38" y1="324.8" x2="39.6" y2="324.8" stroke="#777" stroke-width="0.5"/>
<text x="35.800000000000004" y="326.95" font-size="4.5" fill="#1a1a1a" text-anchor="end" font-family="DejaVu Sans" stroke="#1a1a1a" stroke-width="0.14">150</text>
<line x1="38" y1="341.3" x2="39.6" y2="341.3" stroke="#777" stroke-width="0.5"/>
<text x="35.800000000000004" y="343.45" font-size="4.5" fill="#1a1a1a" text-anchor="end" font-family="DejaVu Sans" stroke="#1a1a1a" stroke-width="0.14">100</text>
<line x1="38" y1="357.9" x2="39.6" y2="357.9" stroke="#777" stroke-width="0.5"/>
<text x="35.800000000000004" y="360.05" font-size="4.5" fill="#1a1a1a" text-anchor="end" font-family="DejaVu Sans" stroke="#1a1a1a" stroke-width="0.14">50</text>
<line x1="59.4" y1="372.7" x2="59.4" y2="374.3" stroke="#777" stroke-width="0.5"/>
<text x="59.4" y="380.35" font-size="4.5" fill="#1a1a1a" text-anchor="middle" font-family="DejaVu Sans" stroke="#1a1a1a" stroke-width="0.14">55.8</text>
<line x1="89" y1="372.7" x2="89" y2="374.3" stroke="#777" stroke-width="0.5"/>
<text x="89.0" y="380.35" font-size="4.5" fill="#1a1a1a" text-anchor="middle" font-family="DejaVu Sans" stroke="#1a1a1a" stroke-width="0.14">55.9</text>
<line x1="118.6" y1="372.7" x2="118.6" y2="374.3" stroke="#777" stroke-width="0.5"/>
<text x="118.6" y="380.35" font-size="4.5" fill="#1a1a1a" text-anchor="middle" font-family="DejaVu Sans" stroke="#1a1a1a" stroke-width="0.14">56.0</text>
<line x1="148.2" y1="372.7" x2="148.2" y2="374.3" stroke="#777" stroke-width="0.5"/>
<text x="148.2" y="380.35" font-size="4.5" fill="#1a1a1a" text-anchor="middle" font-family="DejaVu Sans" stroke="#1a1a1a" stroke-width="0.14">56.1</text>
<line x1="177.8" y1="372.7" x2="177.8" y2="374.3" stroke="#777" stroke-width="0.5"/>
<text x="177.8" y="380.35" font-size="4.5" fill="#1a1a1a" text-anchor="middle" font-family="DejaVu Sans" stroke="#1a1a1a" stroke-width="0.14">56.2</text>
<rect x="39.6" y="285.6" width="147.1" height="87.1" fill="none" stroke="#777" stroke-width="0.7"/>
<text x="4.8" y="331.79" font-size="6.6" fill="#222" font-family="DejaVu Sans" stroke="#222" stroke-width="0.14">COG</text>
<text x="100" y="389.19" font-size="6.6" fill="#222" font-family="DejaVu Sans" stroke="#222" stroke-width="0.14">Latitude</text>
<rect x="148.4" y="304.7" width="36" height="48.5" fill="#fff" fill-opacity="0.8" stroke="#ddd" stroke-width="0.4" rx="0.8"/>
<text x="166.3" y="310.31" font-size="4.4" fill="#111" text-anchor="middle" font-family="DejaVu Sans" stroke="#111" stroke-width="0.12">CLUSTER_GMM</text>
<circle cx="163.3" cy="314.2" r="1.55" fill="#E41A1C" stroke="#fff" stroke-width="0.3"/>
<text x="172.4" y="316.31" font-size="4.4" fill="#111" text-anchor="middle" font-family="DejaVu Sans" stroke="#111" stroke-width="0.12">0</text>
<circle cx="163.3" cy="320.2" r="1.55" fill="#377EB8" stroke="#fff" stroke-width="0.3"/>
<text x="172.4" y="322.34" font-size="4.4" fill="#111" text-anchor="middle" font-family="DejaVu Sans" stroke="#111" stroke-width="0.12">1</text>
<circle cx="163.3" cy="326.3" r="1.55" fill="#4DAF4A" stroke="#fff" stroke-width="0.3"/>
<text x="172.4" y="328.37" font-size="4.4" fill="#111" text-anchor="middle" font-family="DejaVu Sans" stroke="#111" stroke-width="0.12">2</text>
<circle cx="163.3" cy="332.3" r="1.55" fill="#984EA3" stroke="#fff" stroke-width="0.3"/>
<text x="172.4" y="334.4" font-size="4.4" fill="#111" text-anchor="middle" font-family="DejaVu Sans" stroke="#111" stroke-width="0.12">3</text>
<circle cx="163.3" cy="338.3" r="1.55" fill="#FF7F00" stroke="#fff" stroke-width="0.3"/>
<text x="172.4" y="340.43" font-size="4.4" fill="#111" text-anchor="middle" font-family="DejaVu Sans" stroke="#111" stroke-width="0.12">4</text>
<circle cx="163.3" cy="344.3" r="1.55" fill="#FFFF33" stroke="#fff" stroke-width="0.3"/>
<text x="172.4" y="346.46" font-size="4.4" fill="#111" text-anchor="middle" font-family="DejaVu Sans" stroke="#111" stroke-width="0.12">5</text>
<circle cx="163.3" cy="350.4" r="1.55" fill="#A65628" stroke="#fff" stroke-width="0.3"/>
<text x="172.4" y="352.49" font-size="4.4" fill="#111" text-anchor="middle" font-family="DejaVu Sans" stroke="#111" stroke-width="0.12">6</text>
<rect x="42.1" y="328.5" width="35.4" height="9" fill="none" stroke="#E2406B" stroke-width="0.9"/>
<rect x="37" y="357.3" width="153.6" height="13.2" fill="none" stroke="#E2406B" stroke-width="0.9"/>
<text x="108.7" y="409.2" font-size="13" fill="#000" text-anchor="middle" font-family="Liberation Sans">(e)</text>
<g fill="#FF7F00" stroke="#fff" stroke-width="0.3"><circle cx="246.8" cy="286.3" r="1.45"/><circle cx="249.1" cy="287.4" r="1.45"/><circle cx="251.5" cy="288" r="1.45"/><circle cx="253.6" cy="288.9" r="1.45"/><circle cx="255.9" cy="289.3" r="1.45"/><circle cx="258.2" cy="289.9" r="1.45"/><circle cx="260.4" cy="290.4" r="1.45"/><circle cx="263" cy="290.3" r="1.45"/><circle cx="265.3" cy="290.3" r="1.45"/><circle cx="267.4" cy="290.2" r="1.45"/><circle cx="269.8" cy="290.4" r="1.45"/><circle cx="272.2" cy="290.6" r="1.45"/><circle cx="274.5" cy="290.6" r="1.45"/><circle cx="276.7" cy="290.4" r="1.45"/><circle cx="278.9" cy="290.5" r="1.45"/><circle cx="281.2" cy="291" r="1.45"/><circle cx="283.8" cy="290.5" r="1.45"/><circle cx="285.9" cy="290.6" r="1.45"/><circle cx="288.2" cy="290.7" r="1.45"/><circle cx="290.3" cy="291.1" r="1.45"/><circle cx="292.9" cy="291.2" r="1.45"/><circle cx="295" cy="290.9" r="1.45"/><circle cx="297.5" cy="292.9" r="1.45"/><circle cx="299.6" cy="293.7" r="1.45"/><circle cx="302" cy="293.7" r="1.45"/><circle cx="304.3" cy="292.1" r="1.45"/><circle cx="306.6" cy="291.9" r="1.45"/><circle cx="308.7" cy="292.2" r="1.45"/><circle cx="311" cy="291.8" r="1.45"/><circle cx="313.6" cy="292.1" r="1.45"/><circle cx="315.9" cy="292" r="1.45"/><circle cx="318.1" cy="292.3" r="1.45"/><circle cx="320.2" cy="291.9" r="1.45"/><circle cx="322.8" cy="291.9" r="1.45"/><circle cx="324.8" cy="292.4" r="1.45"/><circle cx="327.5" cy="292.3" r="1.45"/><circle cx="329.8" cy="292.1" r="1.45"/><circle cx="331.8" cy="292.4" r="1.45"/><circle cx="334.3" cy="292.1" r="1.45"/><circle cx="336.3" cy="292.2" r="1.45"/><circle cx="338.9" cy="292" r="1.45"/><circle cx="341" cy="292.4" r="1.45"/><circle cx="343.3" cy="292.6" r="1.45"/><circle cx="345.6" cy="292.2" r="1.45"/><circle cx="348.1" cy="292.5" r="1.45"/><circle cx="350.1" cy="292.6" r="1.45"/><circle cx="352.5" cy="292.5" r="1.45"/><circle cx="355" cy="292.2" r="1.45"/><circle cx="357" cy="292.3" r="1.45"/><circle cx="359.3" cy="292.8" r="1.45"/><circle cx="361.8" cy="292.5" r="1.45"/><circle cx="364.3" cy="292.3" r="1.45"/><circle cx="366.2" cy="292.3" r="1.45"/><circle cx="368.7" cy="292.5" r="1.45"/><circle cx="371.1" cy="292.6" r="1.45"/><circle cx="373.3" cy="292.6" r="1.45"/><circle cx="375.4" cy="292.9" r="1.45"/><circle cx="377.8" cy="292.6" r="1.45"/><circle cx="380.2" cy="293" r="1.45"/><circle cx="382.6" cy="292.7" r="1.45"/><circle cx="384.9" cy="293" r="1.45"/><circle cx="387" cy="292.4" r="1.45"/><circle cx="389.2" cy="292.5" r="1.45"/><circle cx="391.9" cy="292.5" r="1.45"/><circle cx="394.1" cy="292.7" r="1.45"/></g>
<g fill="#E41A1C" stroke="#fff" stroke-width="0.3"><circle cx="240.9" cy="300.8" r="1.3"/><circle cx="242.4" cy="301.9" r="1.3"/><circle cx="244" cy="301.7" r="1.3"/><circle cx="245.8" cy="301.2" r="1.3"/><circle cx="247.4" cy="301.3" r="1.3"/><circle cx="249.1" cy="300.6" r="1.3"/><circle cx="250.5" cy="300.8" r="1.3"/><circle cx="252.1" cy="300.5" r="1.3"/><circle cx="253.8" cy="301.3" r="1.3"/><circle cx="255.5" cy="301.9" r="1.3"/><circle cx="256.9" cy="301" r="1.3"/><circle cx="258.5" cy="301.2" r="1.3"/><circle cx="260.3" cy="301" r="1.3"/><circle cx="262" cy="300.8" r="1.3"/><circle cx="263.5" cy="301.8" r="1.3"/><circle cx="265.2" cy="301.5" r="1.3"/><circle cx="266.6" cy="301.2" r="1.3"/><circle cx="268.3" cy="301.4" r="1.3"/><circle cx="269.7" cy="301.1" r="1.3"/><circle cx="271.5" cy="301.9" r="1.3"/><circle cx="272.8" cy="301.5" r="1.3"/><circle cx="274.6" cy="301.1" r="1.3"/><circle cx="276.1" cy="301.8" r="1.3"/><circle cx="277.9" cy="300.6" r="1.3"/><circle cx="279.4" cy="301.7" r="1.3"/><circle cx="280.9" cy="301.5" r="1.3"/><circle cx="282.4" cy="300.9" r="1.3"/><circle cx="284.3" cy="300.6" r="1.3"/><circle cx="285.8" cy="301.7" r="1.3"/><circle cx="287.4" cy="301.3" r="1.3"/><circle cx="288.8" cy="301.6" r="1.3"/><circle cx="290.5" cy="300.8" r="1.3"/><circle cx="292.2" cy="301.9" r="1.3"/><circle cx="293.7" cy="301.5" r="1.3"/><circle cx="295.5" cy="301.7" r="1.3"/><circle cx="297.2" cy="301" r="1.3"/><circle cx="298.7" cy="301.9" r="1.3"/><circle cx="300.4" cy="301" r="1.3"/><circle cx="301.8" cy="301.9" r="1.3"/><circle cx="303.5" cy="301" r="1.3"/><circle cx="304.8" cy="300.9" r="1.3"/><circle cx="306.6" cy="300.9" r="1.3"/><circle cx="308.2" cy="301.2" r="1.3"/><circle cx="309.9" cy="301.8" r="1.3"/><circle cx="311.4" cy="301.1" r="1.3"/><circle cx="313.1" cy="301.6" r="1.3"/><circle cx="314.6" cy="301.1" r="1.3"/><circle cx="316.3" cy="301.6" r="1.3"/><circle cx="317.7" cy="301" r="1.3"/><circle cx="319.2" cy="300.7" r="1.3"/><circle cx="321.1" cy="301.5" r="1.3"/><circle cx="322.4" cy="301.3" r="1.3"/><circle cx="324.1" cy="301" r="1.3"/><circle cx="325.8" cy="300.6" r="1.3"/><circle cx="327.5" cy="301.7" r="1.3"/><circle cx="328.9" cy="301.7" r="1.3"/><circle cx="330.5" cy="301.6" r="1.3"/><circle cx="332.3" cy="301" r="1.3"/><circle cx="333.8" cy="300.5" r="1.3"/><circle cx="335.4" cy="300.9" r="1.3"/><circle cx="336.9" cy="300.8" r="1.3"/><circle cx="338.6" cy="301.9" r="1.3"/><circle cx="340.3" cy="300.8" r="1.3"/><circle cx="341.8" cy="301.8" r="1.3"/><circle cx="343.5" cy="301.3" r="1.3"/><circle cx="345" cy="301.8" r="1.3"/><circle cx="346.5" cy="301.3" r="1.3"/><circle cx="348.4" cy="300.7" r="1.3"/><circle cx="349.8" cy="300.8" r="1.3"/><circle cx="351.2" cy="300.8" r="1.3"/><circle cx="353" cy="300.8" r="1.3"/><circle cx="354.8" cy="300.8" r="1.3"/><circle cx="356.4" cy="300.9" r="1.3"/><circle cx="358" cy="301.4" r="1.3"/><circle cx="359.2" cy="301.1" r="1.3"/><circle cx="360.8" cy="300.7" r="1.3"/><circle cx="362.4" cy="300.6" r="1.3"/><circle cx="364.2" cy="300.8" r="1.3"/><circle cx="365.7" cy="301.4" r="1.3"/><circle cx="367.5" cy="301.1" r="1.3"/><circle cx="369.1" cy="300.6" r="1.3"/><circle cx="370.4" cy="300.6" r="1.3"/><circle cx="372.2" cy="301.6" r="1.3"/><circle cx="373.7" cy="301.4" r="1.3"/><circle cx="375.4" cy="300.7" r="1.3"/><circle cx="377.2" cy="300.9" r="1.3"/><circle cx="378.8" cy="301.6" r="1.3"/><circle cx="380.1" cy="300.7" r="1.3"/><circle cx="381.6" cy="301" r="1.3"/><circle cx="383.4" cy="301.2" r="1.3"/><circle cx="384.9" cy="300.9" r="1.3"/><circle cx="386.5" cy="300.5" r="1.3"/><circle cx="388.4" cy="301.2" r="1.3"/><circle cx="389.7" cy="301.5" r="1.3"/><circle cx="391.3" cy="300.8" r="1.3"/><circle cx="392.8" cy="301.8" r="1.3"/><circle cx="394.7" cy="301.8" r="1.3"/><circle cx="396.2" cy="300.9" r="1.3"/><circle cx="397.9" cy="300.6" r="1.3"/></g>
<g fill="#E41A1C" stroke="#fff" stroke-width="0.3"><circle cx="241.2" cy="303.9" r="1.3"/><circle cx="242.7" cy="304.4" r="1.3"/><circle cx="244.4" cy="305.2" r="1.3"/><circle cx="245.8" cy="305" r="1.3"/><circle cx="247.4" cy="304.3" r="1.3"/><circle cx="248.9" cy="304.9" r="1.3"/><circle cx="250.6" cy="305.2" r="1.3"/><circle cx="252.1" cy="305.1" r="1.3"/><circle cx="253.8" cy="304.5" r="1.3"/><circle cx="255.4" cy="304.2" r="1.3"/><circle cx="256.9" cy="304.5" r="1.3"/><circle cx="258.6" cy="304.1" r="1.3"/><circle cx="260.1" cy="304.3" r="1.3"/><circle cx="261.8" cy="303.8" r="1.3"/><circle cx="263.3" cy="304.8" r="1.3"/><circle cx="264.9" cy="305.1" r="1.3"/><circle cx="266.4" cy="303.9" r="1.3"/><circle cx="268.1" cy="305" r="1.3"/><circle cx="269.9" cy="303.8" r="1.3"/><circle cx="271.3" cy="304.1" r="1.3"/><circle cx="272.9" cy="304.6" r="1.3"/><circle cx="274.6" cy="305.1" r="1.3"/><circle cx="276.3" cy="304.7" r="1.3"/><circle cx="277.9" cy="304.6" r="1.3"/><circle cx="279.3" cy="304.2" r="1.3"/><circle cx="281.1" cy="304.4" r="1.3"/><circle cx="282.6" cy="304.5" r="1.3"/><circle cx="284.3" cy="305.1" r="1.3"/><circle cx="285.9" cy="305.2" r="1.3"/><circle cx="287.4" cy="304.8" r="1.3"/><circle cx="289.1" cy="304.1" r="1.3"/><circle cx="290.8" cy="304.7" r="1.3"/><circle cx="292.4" cy="304.1" r="1.3"/><circle cx="293.9" cy="304.1" r="1.3"/><circle cx="295.5" cy="304.4" r="1.3"/><circle cx="296.9" cy="304.7" r="1.3"/><circle cx="298.5" cy="305" r="1.3"/><circle cx="300.3" cy="304.8" r="1.3"/><circle cx="301.9" cy="304.9" r="1.3"/><circle cx="303.5" cy="304" r="1.3"/><circle cx="305.1" cy="304.9" r="1.3"/><circle cx="306.6" cy="305.2" r="1.3"/><circle cx="308.2" cy="304.9" r="1.3"/><circle cx="309.8" cy="305.2" r="1.3"/><circle cx="311.2" cy="304.6" r="1.3"/><circle cx="312.8" cy="304.4" r="1.3"/><circle cx="314.6" cy="303.8" r="1.3"/><circle cx="316" cy="303.9" r="1.3"/><circle cx="317.7" cy="305.2" r="1.3"/><circle cx="319.5" cy="304.3" r="1.3"/><circle cx="321.1" cy="303.8" r="1.3"/><circle cx="322.4" cy="304.5" r="1.3"/><circle cx="324.1" cy="303.9" r="1.3"/><circle cx="325.8" cy="304.7" r="1.3"/><circle cx="327.2" cy="304.2" r="1.3"/><circle cx="328.9" cy="304.8" r="1.3"/><circle cx="330.6" cy="304.4" r="1.3"/><circle cx="332.4" cy="304.6" r="1.3"/><circle cx="334" cy="304.9" r="1.3"/><circle cx="335.5" cy="304.2" r="1.3"/><circle cx="337.1" cy="304.8" r="1.3"/><circle cx="338.8" cy="304.4" r="1.3"/><circle cx="340.4" cy="304.5" r="1.3"/><circle cx="341.9" cy="304.5" r="1.3"/><circle cx="343.3" cy="304.1" r="1.3"/><circle cx="345.1" cy="304.6" r="1.3"/><circle cx="346.7" cy="304.5" r="1.3"/><circle cx="348.2" cy="305" r="1.3"/><circle cx="349.7" cy="303.9" r="1.3"/><circle cx="351.5" cy="304" r="1.3"/><circle cx="353.1" cy="304.2" r="1.3"/><circle cx="354.6" cy="304.8" r="1.3"/><circle cx="356.1" cy="305.1" r="1.3"/><circle cx="358" cy="304.4" r="1.3"/><circle cx="359.5" cy="304" r="1.3"/><circle cx="360.9" cy="303.8" r="1.3"/><circle cx="362.8" cy="304.5" r="1.3"/><circle cx="364.3" cy="305.1" r="1.3"/><circle cx="365.8" cy="304" r="1.3"/><circle cx="367.2" cy="304.2" r="1.3"/><circle cx="369.1" cy="304.9" r="1.3"/><circle cx="370.6" cy="304.4" r="1.3"/><circle cx="372.1" cy="304.3" r="1.3"/><circle cx="373.9" cy="303.9" r="1.3"/><circle cx="375.3" cy="304.8" r="1.3"/><circle cx="377.2" cy="304.2" r="1.3"/><circle cx="378.6" cy="304.1" r="1.3"/><circle cx="380.4" cy="303.9" r="1.3"/><circle cx="381.8" cy="304.9" r="1.3"/><circle cx="383.3" cy="304.3" r="1.3"/><circle cx="385.1" cy="304" r="1.3"/><circle cx="386.5" cy="304.4" r="1.3"/><circle cx="388.1" cy="304.6" r="1.3"/><circle cx="389.8" cy="305" r="1.3"/><circle cx="391.3" cy="303.9" r="1.3"/><circle cx="393" cy="303.9" r="1.3"/><circle cx="394.5" cy="304.4" r="1.3"/><circle cx="396.3" cy="305.2" r="1.3"/><circle cx="397.8" cy="304.3" r="1.3"/></g>
<g fill="#E41A1C" stroke="#fff" stroke-width="0.3"><circle cx="240.8" cy="308" r="1.3"/><circle cx="242.6" cy="307.8" r="1.3"/><circle cx="244.2" cy="307.5" r="1.3"/><circle cx="245.9" cy="308" r="1.3"/><circle cx="247.3" cy="308.4" r="1.3"/><circle cx="249.1" cy="307.6" r="1.3"/><circle cx="250.4" cy="307.2" r="1.3"/><circle cx="252.1" cy="307.1" r="1.3"/><circle cx="253.7" cy="307.3" r="1.3"/><circle cx="255.3" cy="307.8" r="1.3"/><circle cx="257.1" cy="307.9" r="1.3"/><circle cx="258.5" cy="307.5" r="1.3"/><circle cx="260.2" cy="308.5" r="1.3"/><circle cx="261.6" cy="307.2" r="1.3"/><circle cx="263.4" cy="308.1" r="1.3"/><circle cx="265.1" cy="308.5" r="1.3"/><circle cx="266.7" cy="307.2" r="1.3"/><circle cx="268.4" cy="308.5" r="1.3"/><circle cx="269.9" cy="308.3" r="1.3"/><circle cx="271.5" cy="308.4" r="1.3"/><circle cx="272.9" cy="307.7" r="1.3"/><circle cx="274.4" cy="307.1" r="1.3"/><circle cx="276" cy="307.6" r="1.3"/><circle cx="277.8" cy="307.2" r="1.3"/><circle cx="279.6" cy="307.4" r="1.3"/><circle cx="281" cy="307.3" r="1.3"/><circle cx="282.6" cy="307.8" r="1.3"/><circle cx="284.4" cy="308.2" r="1.3"/><circle cx="285.6" cy="308.3" r="1.3"/><circle cx="287.4" cy="307.6" r="1.3"/><circle cx="289.1" cy="308.4" r="1.3"/><circle cx="290.7" cy="307.6" r="1.3"/><circle cx="292" cy="308.5" r="1.3"/><circle cx="293.6" cy="308.5" r="1.3"/><circle cx="295.2" cy="307.1" r="1.3"/><circle cx="296.9" cy="308.3" r="1.3"/><circle cx="298.6" cy="308.4" r="1.3"/><circle cx="300.4" cy="307.1" r="1.3"/><circle cx="302" cy="307.3" r="1.3"/><circle cx="303.4" cy="308.4" r="1.3"/><circle cx="304.8" cy="307.2" r="1.3"/><circle cx="306.5" cy="307.4" r="1.3"/><circle cx="308.1" cy="308.2" r="1.3"/><circle cx="309.6" cy="307.7" r="1.3"/><circle cx="311.3" cy="308.3" r="1.3"/><circle cx="313.1" cy="307.1" r="1.3"/><circle cx="314.6" cy="308.1" r="1.3"/><circle cx="316.1" cy="308.2" r="1.3"/><circle cx="317.9" cy="308.3" r="1.3"/><circle cx="319.5" cy="307.8" r="1.3"/><circle cx="321" cy="307.5" r="1.3"/><circle cx="322.4" cy="308" r="1.3"/><circle cx="324.3" cy="307.9" r="1.3"/><circle cx="326" cy="308.5" r="1.3"/><circle cx="327.4" cy="307.7" r="1.3"/><circle cx="329.2" cy="307.2" r="1.3"/><circle cx="330.7" cy="307.1" r="1.3"/><circle cx="332.3" cy="307.7" r="1.3"/><circle cx="334" cy="308.4" r="1.3"/><circle cx="335.6" cy="308.5" r="1.3"/><circle cx="336.8" cy="307.1" r="1.3"/><circle cx="338.7" cy="307.8" r="1.3"/><circle cx="340.3" cy="308.3" r="1.3"/><circle cx="341.8" cy="308.2" r="1.3"/><circle cx="343.3" cy="307.4" r="1.3"/><circle cx="344.9" cy="308.2" r="1.3"/><circle cx="346.7" cy="307.2" r="1.3"/><circle cx="348.3" cy="307.9" r="1.3"/><circle cx="349.7" cy="307.8" r="1.3"/><circle cx="351.4" cy="308.5" r="1.3"/><circle cx="353.1" cy="307.9" r="1.3"/><circle cx="354.5" cy="307.1" r="1.3"/><circle cx="356.4" cy="307.6" r="1.3"/><circle cx="358" cy="307.1" r="1.3"/><circle cx="359.4" cy="308" r="1.3"/><circle cx="361.2" cy="308.2" r="1.3"/><circle cx="362.4" cy="308.2" r="1.3"/><circle cx="364.1" cy="308.3" r="1.3"/><circle cx="365.8" cy="308.3" r="1.3"/><circle cx="367.2" cy="308.3" r="1.3"/><circle cx="369.1" cy="307.8" r="1.3"/><circle cx="370.7" cy="307.5" r="1.3"/><circle cx="372.2" cy="307.3" r="1.3"/><circle cx="373.9" cy="307.1" r="1.3"/><circle cx="375.5" cy="307.5" r="1.3"/><circle cx="377" cy="307.2" r="1.3"/><circle cx="378.5" cy="307.9" r="1.3"/><circle cx="380.3" cy="307.5" r="1.3"/><circle cx="381.8" cy="307.9" r="1.3"/><circle cx="383.5" cy="307.1" r="1.3"/><circle cx="385" cy="307.8" r="1.3"/><circle cx="386.8" cy="307.1" r="1.3"/><circle cx="388.2" cy="307.1" r="1.3"/><circle cx="389.7" cy="307.7" r="1.3"/><circle cx="391.3" cy="307.2" r="1.3"/><circle cx="392.9" cy="308.3" r="1.3"/><circle cx="394.8" cy="307.7" r="1.3"/><circle cx="396.3" cy="307.5" r="1.3"/><circle cx="397.7" cy="307.2" r="1.3"/></g>
<g fill="#E41A1C" stroke="#fff" stroke-width="0.3"><circle cx="240.8" cy="310.2" r="1.3"/><circle cx="243.6" cy="310" r="1.3"/><circle cx="246" cy="310.2" r="1.3"/><circle cx="248.7" cy="310.1" r="1.3"/><circle cx="251.4" cy="310.2" r="1.3"/><circle cx="254.1" cy="310.3" r="1.3"/><circle cx="256.7" cy="310.6" r="1.3"/><circle cx="259.4" cy="310.3" r="1.3"/><circle cx="261.8" cy="310.1" r="1.3"/><circle cx="264.4" cy="310" r="1.3"/><circle cx="267.2" cy="310.7" r="1.3"/><circle cx="269.6" cy="310.1" r="1.3"/><circle cx="272.2" cy="310.1" r="1.3"/><circle cx="274.7" cy="310.5" r="1.3"/><circle cx="277.6" cy="310.7" r="1.3"/><circle cx="279.9" cy="310.5" r="1.3"/><circle cx="282.8" cy="310" r="1.3"/><circle cx="285.2" cy="310.7" r="1.3"/><circle cx="287.7" cy="310.1" r="1.3"/><circle cx="290.3" cy="310.6" r="1.3"/><circle cx="292.9" cy="310.3" r="1.3"/><circle cx="295.8" cy="310.1" r="1.3"/><circle cx="298.2" cy="310.6" r="1.3"/><circle cx="300.7" cy="310.2" r="1.3"/><circle cx="303.2" cy="310" r="1.3"/><circle cx="305.8" cy="310.1" r="1.3"/><circle cx="308.5" cy="310.1" r="1.3"/><circle cx="311.3" cy="310.4" r="1.3"/><circle cx="313.7" cy="310.7" r="1.3"/><circle cx="316.5" cy="310.6" r="1.3"/><circle cx="319.1" cy="310.6" r="1.3"/><circle cx="321.7" cy="310.5" r="1.3"/><circle cx="324.3" cy="309.9" r="1.3"/><circle cx="327" cy="310.6" r="1.3"/><circle cx="329.4" cy="310.4" r="1.3"/><circle cx="332" cy="310.2" r="1.3"/><circle cx="334.6" cy="310.2" r="1.3"/><circle cx="337.3" cy="310.6" r="1.3"/><circle cx="339.9" cy="310.3" r="1.3"/><circle cx="342.5" cy="309.9" r="1.3"/><circle cx="344.9" cy="310.3" r="1.3"/><circle cx="347.5" cy="310.7" r="1.3"/><circle cx="350.4" cy="310.1" r="1.3"/><circle cx="352.7" cy="310.5" r="1.3"/><circle cx="355.6" cy="310.5" r="1.3"/><circle cx="357.9" cy="310.4" r="1.3"/><circle cx="360.6" cy="310.1" r="1.3"/><circle cx="363.4" cy="310.2" r="1.3"/><circle cx="365.9" cy="310.2" r="1.3"/><circle cx="368.2" cy="310.2" r="1.3"/><circle cx="371.2" cy="310" r="1.3"/><circle cx="373.7" cy="310.2" r="1.3"/><circle cx="376.1" cy="310.2" r="1.3"/><circle cx="378.9" cy="310.2" r="1.3"/><circle cx="381.4" cy="310.3" r="1.3"/><circle cx="384" cy="310.3" r="1.3"/><circle cx="386.5" cy="310.6" r="1.3"/><circle cx="389" cy="310.1" r="1.3"/><circle cx="391.7" cy="310.6" r="1.3"/><circle cx="394.2" cy="310.5" r="1.3"/><circle cx="396.8" cy="310.5" r="1.3"/></g>
<g fill="#E41A1C" stroke="#fff" stroke-width="0.3"><circle cx="244" cy="297" r="1.3"/><circle cx="246" cy="310" r="1.3"/><circle cx="250" cy="311" r="1.3"/><circle cx="254" cy="296" r="1.3"/><circle cx="258" cy="312" r="1.3"/><circle cx="262" cy="296.5" r="1.3"/></g>
<g fill="#4DAF4A" stroke="#fff" stroke-width="0.3"><circle cx="260.5" cy="311.9" r="1.3"/><circle cx="262.3" cy="312" r="1.3"/><circle cx="263.9" cy="312.3" r="1.3"/><circle cx="265.6" cy="312.1" r="1.3"/><circle cx="266.9" cy="311.9" r="1.3"/><circle cx="268.6" cy="311.7" r="1.3"/><circle cx="270" cy="312.2" r="1.3"/><circle cx="271.9" cy="312" r="1.3"/><circle cx="273.3" cy="312" r="1.3"/><circle cx="275.1" cy="312.3" r="1.3"/><circle cx="276.5" cy="311.7" r="1.3"/><circle cx="278.2" cy="312" r="1.3"/><circle cx="279.7" cy="312.1" r="1.3"/><circle cx="281.3" cy="311.8" r="1.3"/><circle cx="283.1" cy="311.9" r="1.3"/><circle cx="284.5" cy="312" r="1.3"/><circle cx="286.1" cy="312" r="1.3"/><circle cx="287.8" cy="311.8" r="1.3"/><circle cx="289.5" cy="312.2" r="1.3"/><circle cx="291.2" cy="312.3" r="1.3"/><circle cx="292.4" cy="311.9" r="1.3"/><circle cx="294.4" cy="312.2" r="1.3"/><circle cx="295.7" cy="311.8" r="1.3"/><circle cx="297.5" cy="311.9" r="1.3"/><circle cx="298.9" cy="311.9" r="1.3"/><circle cx="300.5" cy="312.3" r="1.3"/><circle cx="302.4" cy="312.2" r="1.3"/><circle cx="303.7" cy="311.9" r="1.3"/><circle cx="305.4" cy="311.8" r="1.3"/><circle cx="306.9" cy="312.2" r="1.3"/><circle cx="308.7" cy="311.8" r="1.3"/><circle cx="310.1" cy="312.2" r="1.3"/><circle cx="311.8" cy="312.1" r="1.3"/><circle cx="313.3" cy="311.9" r="1.3"/><circle cx="315.2" cy="311.8" r="1.3"/><circle cx="316.7" cy="312.1" r="1.3"/><circle cx="318.3" cy="312.2" r="1.3"/><circle cx="319.7" cy="311.7" r="1.3"/><circle cx="321.2" cy="311.8" r="1.3"/><circle cx="323.1" cy="311.8" r="1.3"/><circle cx="324.5" cy="312.1" r="1.3"/><circle cx="326" cy="312.3" r="1.3"/><circle cx="328" cy="312" r="1.3"/><circle cx="329.5" cy="312.2" r="1.3"/><circle cx="331.1" cy="312.1" r="1.3"/><circle cx="332.4" cy="312.2" r="1.3"/><circle cx="334.2" cy="312" r="1.3"/><circle cx="336" cy="312.2" r="1.3"/><circle cx="337.5" cy="312.3" r="1.3"/><circle cx="338.9" cy="311.8" r="1.3"/><circle cx="340.4" cy="312" r="1.3"/><circle cx="342.4" cy="311.7" r="1.3"/><circle cx="343.8" cy="311.9" r="1.3"/><circle cx="345.3" cy="312.3" r="1.3"/><circle cx="347" cy="312.1" r="1.3"/><circle cx="348.7" cy="312.1" r="1.3"/><circle cx="350.3" cy="312.2" r="1.3"/><circle cx="352" cy="311.8" r="1.3"/><circle cx="353.4" cy="311.8" r="1.3"/><circle cx="355.1" cy="312.3" r="1.3"/><circle cx="356.5" cy="311.9" r="1.3"/><circle cx="358.3" cy="311.8" r="1.3"/><circle cx="360" cy="312.2" r="1.3"/><circle cx="361.5" cy="311.9" r="1.3"/><circle cx="363" cy="312" r="1.3"/><circle cx="364.7" cy="311.8" r="1.3"/><circle cx="366.4" cy="311.8" r="1.3"/><circle cx="367.9" cy="311.9" r="1.3"/><circle cx="369.5" cy="311.7" r="1.3"/><circle cx="371.1" cy="312.3" r="1.3"/><circle cx="372.6" cy="312.2" r="1.3"/><circle cx="374.4" cy="312" r="1.3"/><circle cx="375.6" cy="311.8" r="1.3"/><circle cx="377.3" cy="312.2" r="1.3"/><circle cx="379.1" cy="312.2" r="1.3"/><circle cx="380.7" cy="312.2" r="1.3"/><circle cx="382.3" cy="312" r="1.3"/><circle cx="383.9" cy="312.1" r="1.3"/><circle cx="385.3" cy="311.8" r="1.3"/><circle cx="387.1" cy="311.9" r="1.3"/><circle cx="388.5" cy="311.9" r="1.3"/><circle cx="390.1" cy="312" r="1.3"/><circle cx="391.6" cy="311.7" r="1.3"/><circle cx="393.4" cy="311.9" r="1.3"/><circle cx="394.9" cy="312" r="1.3"/><circle cx="396.6" cy="311.7" r="1.3"/><circle cx="398.2" cy="312.1" r="1.3"/></g>
<g fill="#4DAF4A" stroke="#fff" stroke-width="0.3"><circle cx="260.4" cy="314.7" r="1.3"/><circle cx="262.1" cy="314.2" r="1.3"/><circle cx="263.8" cy="314.6" r="1.3"/><circle cx="265.2" cy="314.5" r="1.3"/><circle cx="266.9" cy="314.2" r="1.3"/><circle cx="268.4" cy="314.4" r="1.3"/><circle cx="270.3" cy="314.8" r="1.3"/><circle cx="271.9" cy="314.2" r="1.3"/><circle cx="273.5" cy="314.6" r="1.3"/><circle cx="274.8" cy="314.5" r="1.3"/><circle cx="276.5" cy="314.7" r="1.3"/><circle cx="278.1" cy="314.4" r="1.3"/><circle cx="279.6" cy="314.3" r="1.3"/><circle cx="281.2" cy="314.6" r="1.3"/><circle cx="283.2" cy="314.7" r="1.3"/><circle cx="284.4" cy="314.5" r="1.3"/><circle cx="286.4" cy="314.6" r="1.3"/><circle cx="287.8" cy="314.6" r="1.3"/><circle cx="289.4" cy="314.6" r="1.3"/><circle cx="290.8" cy="314.8" r="1.3"/><circle cx="292.5" cy="314.7" r="1.3"/><circle cx="294.1" cy="314.7" r="1.3"/><circle cx="295.6" cy="314.6" r="1.3"/><circle cx="297.4" cy="314.5" r="1.3"/><circle cx="299" cy="314.4" r="1.3"/><circle cx="300.7" cy="314.2" r="1.3"/><circle cx="302.2" cy="314.7" r="1.3"/><circle cx="303.8" cy="314.6" r="1.3"/><circle cx="305.6" cy="314.6" r="1.3"/><circle cx="306.8" cy="314.5" r="1.3"/><circle cx="308.4" cy="314.3" r="1.3"/><circle cx="310.2" cy="314.7" r="1.3"/><circle cx="311.7" cy="314.5" r="1.3"/><circle cx="313.3" cy="314.3" r="1.3"/><circle cx="315.2" cy="314.6" r="1.3"/><circle cx="316.8" cy="314.4" r="1.3"/><circle cx="318.1" cy="314.4" r="1.3"/><circle cx="319.7" cy="314.8" r="1.3"/><circle cx="321.2" cy="314.7" r="1.3"/><circle cx="323" cy="314.6" r="1.3"/><circle cx="324.4" cy="314.7" r="1.3"/><circle cx="326.2" cy="314.2" r="1.3"/><circle cx="327.6" cy="314.2" r="1.3"/><circle cx="329.5" cy="314.3" r="1.3"/><circle cx="331.1" cy="314.3" r="1.3"/><circle cx="332.7" cy="314.6" r="1.3"/><circle cx="334.1" cy="314.5" r="1.3"/><circle cx="335.7" cy="314.6" r="1.3"/><circle cx="337.2" cy="314.8" r="1.3"/><circle cx="338.9" cy="314.7" r="1.3"/><circle cx="340.7" cy="314.7" r="1.3"/><circle cx="342" cy="314.8" r="1.3"/><circle cx="343.9" cy="314.3" r="1.3"/><circle cx="345.5" cy="314.4" r="1.3"/><circle cx="347.1" cy="314.6" r="1.3"/><circle cx="348.4" cy="314.8" r="1.3"/><circle cx="350.4" cy="314.2" r="1.3"/><circle cx="351.9" cy="314.6" r="1.3"/><circle cx="353.5" cy="314.2" r="1.3"/><circle cx="355" cy="314.6" r="1.3"/><circle cx="356.4" cy="314.8" r="1.3"/><circle cx="358.3" cy="314.4" r="1.3"/><circle cx="360" cy="314.5" r="1.3"/><circle cx="361.6" cy="314.3" r="1.3"/><circle cx="363.1" cy="314.6" r="1.3"/><circle cx="364.8" cy="314.8" r="1.3"/><circle cx="366.4" cy="314.3" r="1.3"/><circle cx="367.8" cy="314.3" r="1.3"/><circle cx="369.3" cy="314.2" r="1.3"/><circle cx="371.1" cy="314.7" r="1.3"/><circle cx="372.5" cy="314.6" r="1.3"/><circle cx="374.3" cy="314.8" r="1.3"/><circle cx="375.8" cy="314.6" r="1.3"/><circle cx="377.5" cy="314.4" r="1.3"/><circle cx="379" cy="314.5" r="1.3"/><circle cx="380.6" cy="314.7" r="1.3"/><circle cx="382.4" cy="314.6" r="1.3"/><circle cx="383.8" cy="314.3" r="1.3"/><circle cx="385.6" cy="314.2" r="1.3"/><circle cx="387.1" cy="314.2" r="1.3"/><circle cx="388.4" cy="314.2" r="1.3"/><circle cx="390.3" cy="314.6" r="1.3"/><circle cx="391.8" cy="314.5" r="1.3"/><circle cx="393.2" cy="314.3" r="1.3"/><circle cx="395.1" cy="314.5" r="1.3"/><circle cx="396.5" cy="314.4" r="1.3"/><circle cx="398.1" cy="314.4" r="1.3"/></g>
<g fill="#4DAF4A" stroke="#fff" stroke-width="0.3"><circle cx="260.6" cy="317.1" r="1.3"/><circle cx="262.3" cy="317.3" r="1.3"/><circle cx="263.7" cy="317.1" r="1.3"/><circle cx="265.4" cy="316.8" r="1.3"/><circle cx="266.8" cy="316.8" r="1.3"/><circle cx="268.4" cy="316.9" r="1.3"/><circle cx="270.3" cy="317.2" r="1.3"/><circle cx="271.7" cy="317.1" r="1.3"/><circle cx="273.4" cy="317.1" r="1.3"/><circle cx="275" cy="316.9" r="1.3"/><circle cx="276.7" cy="317.1" r="1.3"/><circle cx="278.1" cy="316.8" r="1.3"/><circle cx="279.9" cy="317.3" r="1.3"/><circle cx="281.6" cy="316.9" r="1.3"/><circle cx="282.9" cy="317.3" r="1.3"/><circle cx="284.8" cy="317" r="1.3"/><circle cx="286" cy="317.1" r="1.3"/><circle cx="287.7" cy="317.2" r="1.3"/><circle cx="289.4" cy="317.2" r="1.3"/><circle cx="290.9" cy="317.1" r="1.3"/><circle cx="292.6" cy="316.9" r="1.3"/><circle cx="294.2" cy="317" r="1.3"/><circle cx="295.7" cy="317.2" r="1.3"/><circle cx="297.3" cy="316.9" r="1.3"/><circle cx="298.9" cy="317" r="1.3"/><circle cx="300.5" cy="317.2" r="1.3"/><circle cx="302.3" cy="317" r="1.3"/><circle cx="303.8" cy="317.1" r="1.3"/><circle cx="305.6" cy="317.1" r="1.3"/><circle cx="307" cy="316.9" r="1.3"/><circle cx="308.7" cy="317" r="1.3"/><circle cx="310.3" cy="317.1" r="1.3"/><circle cx="311.8" cy="317.2" r="1.3"/><circle cx="313.3" cy="317" r="1.3"/><circle cx="314.9" cy="317.3" r="1.3"/><circle cx="316.5" cy="316.7" r="1.3"/><circle cx="318.4" cy="316.9" r="1.3"/><circle cx="319.7" cy="317.2" r="1.3"/><circle cx="321.4" cy="317.3" r="1.3"/><circle cx="323.2" cy="316.9" r="1.3"/><circle cx="324.5" cy="317.1" r="1.3"/><circle cx="326" cy="316.7" r="1.3"/><circle cx="328" cy="316.9" r="1.3"/><circle cx="329.6" cy="317.3" r="1.3"/><circle cx="331.1" cy="317" r="1.3"/><circle cx="332.8" cy="317.2" r="1.3"/><circle cx="334.2" cy="316.8" r="1.3"/><circle cx="335.9" cy="316.8" r="1.3"/><circle cx="337.5" cy="316.7" r="1.3"/><circle cx="339" cy="316.7" r="1.3"/><circle cx="340.7" cy="316.8" r="1.3"/><circle cx="342.2" cy="317" r="1.3"/><circle cx="343.6" cy="316.7" r="1.3"/><circle cx="345.3" cy="316.8" r="1.3"/><circle cx="346.9" cy="316.9" r="1.3"/><circle cx="348.8" cy="317" r="1.3"/><circle cx="350.2" cy="317" r="1.3"/><circle cx="351.9" cy="317" r="1.3"/><circle cx="353.5" cy="317.1" r="1.3"/><circle cx="355.1" cy="316.9" r="1.3"/><circle cx="356.5" cy="316.7" r="1.3"/><circle cx="358.1" cy="317.1" r="1.3"/><circle cx="359.9" cy="316.7" r="1.3"/><circle cx="361.4" cy="317.2" r="1.3"/><circle cx="363.1" cy="317.2" r="1.3"/><circle cx="364.8" cy="316.9" r="1.3"/><circle cx="366.3" cy="316.9" r="1.3"/><circle cx="368" cy="317.3" r="1.3"/><circle cx="369.3" cy="317.2" r="1.3"/><circle cx="371.1" cy="316.9" r="1.3"/><circle cx="372.4" cy="317" r="1.3"/><circle cx="374.2" cy="316.9" r="1.3"/><circle cx="375.7" cy="316.8" r="1.3"/><circle cx="377.4" cy="317.1" r="1.3"/><circle cx="378.9" cy="317.2" r="1.3"/><circle cx="380.5" cy="317" r="1.3"/><circle cx="382.4" cy="316.7" r="1.3"/><circle cx="383.9" cy="317.3" r="1.3"/><circle cx="385.2" cy="317" r="1.3"/><circle cx="387.1" cy="316.7" r="1.3"/><circle cx="388.7" cy="317.1" r="1.3"/><circle cx="390.2" cy="317.1" r="1.3"/><circle cx="391.8" cy="317.1" r="1.3"/><circle cx="393.2" cy="316.8" r="1.3"/><circle cx="395" cy="317" r="1.3"/><circle cx="396.7" cy="316.7" r="1.3"/><circle cx="398.1" cy="317.2" r="1.3"/></g>
<g fill="#4DAF4A" stroke="#fff" stroke-width="0.3"><circle cx="251.5" cy="314" r="1.3"/><circle cx="254" cy="312" r="1.3"/><circle cx="257" cy="311.5" r="1.3"/><circle cx="242.6" cy="316.9" r="1.3"/><circle cx="289.2" cy="320.7" r="1.3"/></g>
<g fill="#FFFF33" stroke="#fff" stroke-width="0.3"><circle cx="243.6" cy="330" r="1.3"/><circle cx="243.6" cy="335" r="1.3"/><circle cx="250" cy="330.7" r="1.3"/><circle cx="280.3" cy="333.8" r="1.3"/><circle cx="289.6" cy="335" r="1.3"/><circle cx="289.6" cy="337" r="1.3"/><circle cx="299.4" cy="333.8" r="1.3"/><circle cx="252" cy="332" r="1.3"/></g>
<g fill="#FFFF33" stroke="#fff" stroke-width="0.3"><circle cx="312" cy="324.4" r="1.3"/><circle cx="313.8" cy="324.4" r="1.3"/><circle cx="315.4" cy="324.6" r="1.3"/><circle cx="317" cy="324.4" r="1.3"/><circle cx="318.9" cy="324.5" r="1.3"/><circle cx="320.3" cy="324.4" r="1.3"/><circle cx="322.3" cy="324.7" r="1.3"/><circle cx="324" cy="324.4" r="1.3"/><circle cx="325.5" cy="324.8" r="1.3"/><circle cx="327.4" cy="324.5" r="1.3"/><circle cx="328.9" cy="324.3" r="1.3"/><circle cx="330.7" cy="324.5" r="1.3"/><circle cx="332.6" cy="324.6" r="1.3"/><circle cx="334.1" cy="324.7" r="1.3"/><circle cx="335.8" cy="324.3" r="1.3"/><circle cx="337.3" cy="324.5" r="1.3"/><circle cx="339.2" cy="324.3" r="1.3"/><circle cx="340.8" cy="324.6" r="1.3"/><circle cx="342.6" cy="324.8" r="1.3"/><circle cx="344.4" cy="324.8" r="1.3"/><circle cx="346.1" cy="324.3" r="1.3"/><circle cx="347.5" cy="324.5" r="1.3"/><circle cx="349.5" cy="324.5" r="1.3"/><circle cx="351.3" cy="324.5" r="1.3"/><circle cx="352.7" cy="324.6" r="1.3"/><circle cx="354.7" cy="324.5" r="1.3"/><circle cx="356.1" cy="324.6" r="1.3"/><circle cx="357.8" cy="324.4" r="1.3"/><circle cx="359.6" cy="324.4" r="1.3"/><circle cx="361.5" cy="324.4" r="1.3"/><circle cx="363" cy="324.5" r="1.3"/><circle cx="364.6" cy="324.5" r="1.3"/><circle cx="366.4" cy="324.6" r="1.3"/><circle cx="367.9" cy="324.5" r="1.3"/><circle cx="369.9" cy="324.5" r="1.3"/><circle cx="371.5" cy="324.4" r="1.3"/><circle cx="373" cy="324.7" r="1.3"/><circle cx="374.9" cy="324.4" r="1.3"/><circle cx="376.6" cy="324.3" r="1.3"/><circle cx="378.3" cy="324.7" r="1.3"/><circle cx="379.9" cy="324.4" r="1.3"/><circle cx="381.7" cy="324.4" r="1.3"/><circle cx="383.4" cy="324.4" r="1.3"/><circle cx="385.2" cy="324.5" r="1.3"/><circle cx="386.7" cy="324.6" r="1.3"/><circle cx="388.5" cy="324.2" r="1.3"/><circle cx="390.1" cy="324.4" r="1.3"/><circle cx="391.9" cy="324.4" r="1.3"/><circle cx="393.5" cy="324.5" r="1.3"/><circle cx="395.1" cy="324.4" r="1.3"/><circle cx="397" cy="324.2" r="1.3"/><circle cx="398.9" cy="324.2" r="1.3"/></g>
<g fill="#377EB8" stroke="#fff" stroke-width="0.3"><circle cx="243.9" cy="336.8" r="1.3"/><circle cx="245.2" cy="338.8" r="1.3"/><circle cx="246.7" cy="339.5" r="1.3"/><circle cx="248.1" cy="339.5" r="1.3"/><circle cx="249.6" cy="339.6" r="1.3"/><circle cx="251.3" cy="339.9" r="1.3"/><circle cx="252.9" cy="340" r="1.3"/><circle cx="254.2" cy="339.7" r="1.3"/><circle cx="255.6" cy="339.8" r="1.3"/><circle cx="257" cy="340.1" r="1.3"/><circle cx="258.8" cy="339.8" r="1.3"/><circle cx="260.2" cy="340.3" r="1.3"/><circle cx="261.8" cy="340.3" r="1.3"/><circle cx="263.2" cy="340.3" r="1.3"/><circle cx="264.8" cy="340.2" r="1.3"/><circle cx="266.4" cy="340.1" r="1.3"/><circle cx="267.7" cy="339.9" r="1.3"/><circle cx="269" cy="339.8" r="1.3"/><circle cx="270.8" cy="340.1" r="1.3"/><circle cx="272.2" cy="340.3" r="1.3"/><circle cx="273.8" cy="340.2" r="1.3"/><circle cx="275" cy="340.3" r="1.3"/><circle cx="276.9" cy="339.9" r="1.3"/><circle cx="278.1" cy="339.9" r="1.3"/><circle cx="279.7" cy="340.3" r="1.3"/><circle cx="281" cy="340.2" r="1.3"/><circle cx="282.6" cy="340.1" r="1.3"/><circle cx="284.1" cy="340.3" r="1.3"/><circle cx="285.7" cy="340.5" r="1.3"/><circle cx="287.1" cy="340.4" r="1.3"/><circle cx="288.8" cy="340.5" r="1.3"/><circle cx="290.3" cy="340.5" r="1.3"/><circle cx="291.7" cy="340.6" r="1.3"/><circle cx="293.1" cy="340.7" r="1.3"/><circle cx="294.6" cy="340.6" r="1.3"/><circle cx="296.3" cy="341.3" r="1.3"/><circle cx="297.8" cy="341" r="1.3"/><circle cx="299.2" cy="341.4" r="1.3"/><circle cx="300.5" cy="341.4" r="1.3"/><circle cx="302.4" cy="341.7" r="1.3"/><circle cx="303.9" cy="341.2" r="1.3"/><circle cx="305.1" cy="341.5" r="1.3"/><circle cx="306.5" cy="341.3" r="1.3"/><circle cx="308.3" cy="341.7" r="1.3"/><circle cx="309.5" cy="341.6" r="1.3"/><circle cx="311.2" cy="341.7" r="1.3"/><circle cx="312.8" cy="341.7" r="1.3"/><circle cx="314.2" cy="341.3" r="1.3"/><circle cx="315.8" cy="341.5" r="1.3"/><circle cx="317.1" cy="341.6" r="1.3"/><circle cx="318.6" cy="341.8" r="1.3"/><circle cx="320.3" cy="341.8" r="1.3"/><circle cx="321.6" cy="341.3" r="1.3"/><circle cx="323.1" cy="341.7" r="1.3"/><circle cx="324.6" cy="341.4" r="1.3"/><circle cx="326.3" cy="341.7" r="1.3"/><circle cx="327.6" cy="341.4" r="1.3"/><circle cx="329.3" cy="341.8" r="1.3"/><circle cx="330.5" cy="341.3" r="1.3"/><circle cx="332.1" cy="341.7" r="1.3"/><circle cx="333.7" cy="341.6" r="1.3"/><circle cx="335.2" cy="341.8" r="1.3"/><circle cx="336.8" cy="341.8" r="1.3"/><circle cx="338.1" cy="341.3" r="1.3"/><circle cx="339.9" cy="341.6" r="1.3"/><circle cx="341.2" cy="341.8" r="1.3"/><circle cx="342.6" cy="341.6" r="1.3"/><circle cx="344.2" cy="341.4" r="1.3"/><circle cx="345.5" cy="341.7" r="1.3"/><circle cx="347.3" cy="341.6" r="1.3"/><circle cx="348.7" cy="341.4" r="1.3"/><circle cx="350.4" cy="341.3" r="1.3"/><circle cx="351.9" cy="341.8" r="1.3"/><circle cx="353.1" cy="341.4" r="1.3"/><circle cx="354.8" cy="341.5" r="1.3"/><circle cx="356.1" cy="341.8" r="1.3"/><circle cx="357.7" cy="341.7" r="1.3"/><circle cx="359.3" cy="341.4" r="1.3"/><circle cx="360.6" cy="341.3" r="1.3"/><circle cx="362.2" cy="341.4" r="1.3"/><circle cx="363.7" cy="341.8" r="1.3"/><circle cx="365.1" cy="341.4" r="1.3"/><circle cx="366.6" cy="341.9" r="1.3"/><circle cx="368.2" cy="341.6" r="1.3"/><circle cx="369.8" cy="341.5" r="1.3"/><circle cx="371.1" cy="341.7" r="1.3"/><circle cx="372.9" cy="341.5" r="1.3"/><circle cx="374.3" cy="341.8" r="1.3"/><circle cx="375.6" cy="341.6" r="1.3"/><circle cx="377.2" cy="341.4" r="1.3"/><circle cx="378.9" cy="341.7" r="1.3"/><circle cx="380.2" cy="341.4" r="1.3"/><circle cx="381.6" cy="341.4" r="1.3"/><circle cx="383.3" cy="341.5" r="1.3"/><circle cx="384.9" cy="341.4" r="1.3"/><circle cx="386.2" cy="341.5" r="1.3"/><circle cx="387.7" cy="341.6" r="1.3"/><circle cx="389.1" cy="341.5" r="1.3"/><circle cx="390.8" cy="341.6" r="1.3"/><circle cx="392.3" cy="341.3" r="1.3"/><circle cx="393.7" cy="341.8" r="1.3"/><circle cx="395.2" cy="341.5" r="1.3"/><circle cx="396.7" cy="341.5" r="1.3"/><circle cx="398.1" cy="341.3" r="1.3"/><circle cx="399.8" cy="341.5" r="1.3"/></g>
<g fill="#984EA3" stroke="#fff" stroke-width="0.3"><circle cx="272" cy="377" r="1.3"/><circle cx="275.3" cy="377.1" r="1.3"/><circle cx="277.5" cy="377.3" r="1.3"/><circle cx="280" cy="377" r="1.3"/><circle cx="290" cy="377" r="1.3"/></g>
<g fill="#984EA3" stroke="#fff" stroke-width="0.3"><circle cx="302.1" cy="377.3" r="1.3"/><circle cx="303.5" cy="377.5" r="1.3"/><circle cx="305.1" cy="377.5" r="1.3"/><circle cx="306.8" cy="378.1" r="1.3"/><circle cx="308.3" cy="377.6" r="1.3"/><circle cx="309.9" cy="378.3" r="1.3"/></g>
<g fill="#984EA3" stroke="#fff" stroke-width="0.3"><circle cx="320" cy="377.7" r="1.3"/><circle cx="321.4" cy="377.5" r="1.3"/><circle cx="323.1" cy="377" r="1.3"/><circle cx="324.7" cy="376.9" r="1.3"/></g>
<g fill="#984EA3" stroke="#fff" stroke-width="0.3"><circle cx="349.9" cy="377.1" r="1.3"/><circle cx="351.6" cy="377" r="1.3"/><circle cx="352.8" cy="376.9" r="1.3"/><circle cx="354.7" cy="377" r="1.3"/><circle cx="355.9" cy="377.1" r="1.3"/><circle cx="357.5" cy="377.1" r="1.3"/><circle cx="359.1" cy="376.7" r="1.3"/><circle cx="360.7" cy="376.8" r="1.3"/><circle cx="362" cy="376.7" r="1.3"/><circle cx="363.4" cy="376.7" r="1.3"/><circle cx="364.9" cy="376.6" r="1.3"/><circle cx="366.7" cy="376.6" r="1.3"/><circle cx="367.9" cy="376.8" r="1.3"/><circle cx="369.3" cy="376.3" r="1.3"/><circle cx="370.8" cy="376.7" r="1.3"/></g>
<line x1="231.9" y1="293.5" x2="233.5" y2="293.5" stroke="#777" stroke-width="0.5"/>
<text x="229.7" y="295.65" font-size="4.5" fill="#1a1a1a" text-anchor="end" font-family="DejaVu Sans" stroke="#1a1a1a" stroke-width="0.14">14</text>
<line x1="231.9" y1="315.5" x2="233.5" y2="315.5" stroke="#777" stroke-width="0.5"/>
<text x="229.7" y="317.65" font-size="4.5" fill="#1a1a1a" text-anchor="end" font-family="DejaVu Sans" stroke="#1a1a1a" stroke-width="0.14">12</text>
<line x1="231.9" y1="337.5" x2="233.5" y2="337.5" stroke="#777" stroke-width="0.5"/>
<text x="229.7" y="339.65" font-size="4.5" fill="#1a1a1a" text-anchor="end" font-family="DejaVu Sans" stroke="#1a1a1a" stroke-width="0.14">10</text>
<line x1="231.9" y1="359.7" x2="233.5" y2="359.7" stroke="#777" stroke-width="0.5"/>
<text x="229.7" y="361.85" font-size="4.5" fill="#1a1a1a" text-anchor="end" font-family="DejaVu Sans" stroke="#1a1a1a" stroke-width="0.14">8</text>
<line x1="231.9" y1="381.8" x2="233.5" y2="381.8" stroke="#777" stroke-width="0.5"/>
<text x="229.7" y="383.95" font-size="4.5" fill="#1a1a1a" text-anchor="end" font-family="DejaVu Sans" stroke="#1a1a1a" stroke-width="0.14">6</text>
<line x1="257.9" y1="384.2" x2="257.9" y2="385.8" stroke="#777" stroke-width="0.5"/>
<text x="257.9" y="391.65" font-size="4.5" fill="#1a1a1a" text-anchor="middle" font-family="DejaVu Sans" stroke="#1a1a1a" stroke-width="0.14">55.8</text>
<line x1="292.5" y1="384.2" x2="292.5" y2="385.8" stroke="#777" stroke-width="0.5"/>
<text x="292.5" y="391.65" font-size="4.5" fill="#1a1a1a" text-anchor="middle" font-family="DejaVu Sans" stroke="#1a1a1a" stroke-width="0.14">55.9</text>
<line x1="327.5" y1="384.2" x2="327.5" y2="385.8" stroke="#777" stroke-width="0.5"/>
<text x="327.5" y="391.65" font-size="4.5" fill="#1a1a1a" text-anchor="middle" font-family="DejaVu Sans" stroke="#1a1a1a" stroke-width="0.14">56.0</text>
<line x1="362.1" y1="384.2" x2="362.1" y2="385.8" stroke="#777" stroke-width="0.5"/>
<text x="362.1" y="391.65" font-size="4.5" fill="#1a1a1a" text-anchor="middle" font-family="DejaVu Sans" stroke="#1a1a1a" stroke-width="0.14">56.1</text>
<line x1="396.3" y1="384.2" x2="396.3" y2="385.8" stroke="#777" stroke-width="0.5"/>
<text x="396.3" y="391.65" font-size="4.5" fill="#1a1a1a" text-anchor="middle" font-family="DejaVu Sans" stroke="#1a1a1a" stroke-width="0.14">56.2</text>
<rect x="233.5" y="282.2" width="173.2" height="102" fill="none" stroke="#777" stroke-width="0.7"/>
<text x="202" y="336.09" font-size="6.6" fill="#222" font-family="DejaVu Sans" stroke="#222" stroke-width="0.14">SOG</text>
<text x="303.5" y="400.69" font-size="6.6" fill="#222" font-family="DejaVu Sans" stroke="#222" stroke-width="0.14">Latitude</text>
<text x="337.9" y="404.9" font-size="13" fill="#000" text-anchor="middle" font-family="Liberation Sans">(f)</text>
<rect x="366.9" y="331.1" width="37.5" height="50.3" fill="#fff" fill-opacity="0.8" stroke="#ddd" stroke-width="0.4" rx="0.8"/>
<text x="385.6" y="337.4" font-size="5.1" fill="#111" text-anchor="middle" font-family="DejaVu Sans" stroke="#111" stroke-width="0.12">cluster_GMM</text>
<circle cx="382.6" cy="342" r="1.55" fill="#E41A1C" stroke="#fff" stroke-width="0.3"/>
<text x="392.3" y="344.4" font-size="5.1" fill="#111" text-anchor="middle" font-family="DejaVu Sans" stroke="#111" stroke-width="0.12">0</text>
<circle cx="382.6" cy="349.2" r="1.55" fill="#377EB8" stroke="#fff" stroke-width="0.3"/>
<text x="392.3" y="351.56" font-size="5.1" fill="#111" text-anchor="middle" font-family="DejaVu Sans" stroke="#111" stroke-width="0.12">1</text>
<circle cx="382.6" cy="356.3" r="1.55" fill="#4DAF4A" stroke="#fff" stroke-width="0.3"/>
<text x="392.3" y="358.72" font-size="5.1" fill="#111" text-anchor="middle" font-family="DejaVu Sans" stroke="#111" stroke-width="0.12">2</text>
<circle cx="382.6" cy="363.5" r="1.55" fill="#984EA3" stroke="#fff" stroke-width="0.3"/>
<text x="392.3" y="365.88" font-size="5.1" fill="#111" text-anchor="middle" font-family="DejaVu Sans" stroke="#111" stroke-width="0.12">3</text>
<circle cx="382.6" cy="370.6" r="1.55" fill="#FF7F00" stroke="#fff" stroke-width="0.3"/>
<text x="392.3" y="373.04" font-size="5.1" fill="#111" text-anchor="middle" font-family="DejaVu Sans" stroke="#111" stroke-width="0.12">4</text>
<circle cx="382.6" cy="377.8" r="1.55" fill="#FFFF33" stroke="#fff" stroke-width="0.3"/>
<text x="392.3" y="380.2" font-size="5.1" fill="#111" text-anchor="middle" font-family="DejaVu Sans" stroke="#111" stroke-width="0.12">5</text>
<rect x="261.5" y="372.4" width="117.9" height="8.8" fill="none" stroke="#E2406B" stroke-width="0.9"/>
<g fill="#E41A1C" stroke="#fff" stroke-width="0.3"><circle cx="44.6" cy="418.9" r="1.55"/><circle cx="44.6" cy="418.8" r="1.55"/><circle cx="45.6" cy="419.5" r="1.55"/><circle cx="45.8" cy="418.7" r="1.55"/><circle cx="46.9" cy="419.8" r="1.55"/><circle cx="47.2" cy="418.8" r="1.55"/><circle cx="48.3" cy="419" r="1.55"/><circle cx="48.1" cy="418.5" r="1.55"/><circle cx="49.6" cy="418.6" r="1.55"/><circle cx="49.4" cy="419.8" r="1.55"/><circle cx="50.9" cy="419.9" r="1.55"/><circle cx="51.1" cy="419.1" r="1.55"/><circle cx="52.3" cy="419.8" r="1.55"/><circle cx="52.4" cy="419.3" r="1.55"/><circle cx="53.3" cy="419.4" r="1.55"/><circle cx="53.4" cy="419" r="1.55"/><circle cx="54.8" cy="419.4" r="1.55"/><circle cx="54.8" cy="419.1" r="1.55"/><circle cx="56.1" cy="419.1" r="1.55"/><circle cx="56" cy="419.1" r="1.55"/><circle cx="57.5" cy="419.9" r="1.55"/><circle cx="57.2" cy="419.9" r="1.55"/><circle cx="58.7" cy="419.1" r="1.55"/><circle cx="58.9" cy="419.4" r="1.55"/><circle cx="60" cy="419.4" r="1.55"/><circle cx="60" cy="418.6" r="1.55"/><circle cx="61.2" cy="419.4" r="1.55"/><circle cx="61.1" cy="418.7" r="1.55"/><circle cx="62.6" cy="418.9" r="1.55"/><circle cx="62.5" cy="418.9" r="1.55"/><circle cx="63.9" cy="419.7" r="1.55"/><circle cx="64" cy="419" r="1.55"/><circle cx="65.3" cy="419.5" r="1.55"/><circle cx="65.3" cy="419.8" r="1.55"/><circle cx="66.6" cy="420" r="1.55"/><circle cx="66.4" cy="419.9" r="1.55"/><circle cx="68" cy="419.4" r="1.55"/><circle cx="68" cy="419" r="1.55"/><circle cx="69.2" cy="419.6" r="1.55"/><circle cx="69.2" cy="419.9" r="1.55"/><circle cx="70.6" cy="419.1" r="1.55"/><circle cx="70.4" cy="419.9" r="1.55"/><circle cx="71.7" cy="418.5" r="1.55"/><circle cx="71.7" cy="419.5" r="1.55"/><circle cx="72.8" cy="418.5" r="1.55"/><circle cx="72.9" cy="419.6" r="1.55"/><circle cx="74.4" cy="419.1" r="1.55"/><circle cx="74.5" cy="419.1" r="1.55"/><circle cx="75.5" cy="419" r="1.55"/><circle cx="75.8" cy="419.1" r="1.55"/><circle cx="76.7" cy="418.5" r="1.55"/><circle cx="76.8" cy="418.6" r="1.55"/><circle cx="78.3" cy="418.9" r="1.55"/><circle cx="78.4" cy="419.3" r="1.55"/><circle cx="79.6" cy="419.1" r="1.55"/><circle cx="79.6" cy="419.6" r="1.55"/><circle cx="80.7" cy="419.2" r="1.55"/><circle cx="80.9" cy="418.7" r="1.55"/><circle cx="82" cy="419.9" r="1.55"/><circle cx="82.2" cy="419.6" r="1.55"/><circle cx="83.4" cy="419.5" r="1.55"/><circle cx="83.3" cy="420" r="1.55"/><circle cx="84.7" cy="419.1" r="1.55"/><circle cx="84.6" cy="419" r="1.55"/><circle cx="86.1" cy="418.6" r="1.55"/><circle cx="86.1" cy="419.5" r="1.55"/><circle cx="87.4" cy="419.4" r="1.55"/><circle cx="87.2" cy="419.9" r="1.55"/><circle cx="88.7" cy="418.9" r="1.55"/><circle cx="88.7" cy="419" r="1.55"/><circle cx="89.8" cy="419.7" r="1.55"/><circle cx="89.9" cy="419.5" r="1.55"/><circle cx="91.1" cy="419.7" r="1.55"/><circle cx="91.1" cy="418.8" r="1.55"/><circle cx="92.6" cy="418.6" r="1.55"/><circle cx="92.6" cy="419.1" r="1.55"/><circle cx="93.6" cy="420" r="1.55"/><circle cx="93.8" cy="419.3" r="1.55"/><circle cx="95.1" cy="419.3" r="1.55"/><circle cx="95.2" cy="418.9" r="1.55"/><circle cx="96.6" cy="418.5" r="1.55"/><circle cx="96.4" cy="419.9" r="1.55"/><circle cx="97.8" cy="419.8" r="1.55"/><circle cx="97.6" cy="418.9" r="1.55"/><circle cx="99.1" cy="419.5" r="1.55"/><circle cx="99" cy="419.8" r="1.55"/><circle cx="100.4" cy="419.4" r="1.55"/><circle cx="100.3" cy="419.5" r="1.55"/><circle cx="101.6" cy="419.1" r="1.55"/><circle cx="101.6" cy="419.3" r="1.55"/><circle cx="102.8" cy="419.9" r="1.55"/><circle cx="102.7" cy="419" r="1.55"/><circle cx="104.1" cy="418.5" r="1.55"/><circle cx="104.4" cy="419.6" r="1.55"/><circle cx="105.6" cy="419.5" r="1.55"/><circle cx="105.3" cy="418.8" r="1.55"/><circle cx="106.7" cy="420" r="1.55"/><circle cx="106.9" cy="419" r="1.55"/><circle cx="107.9" cy="418.8" r="1.55"/><circle cx="108.3" cy="419.7" r="1.55"/><circle cx="109.3" cy="420" r="1.55"/><circle cx="109.3" cy="418.9" r="1.55"/><circle cx="110.9" cy="419.5" r="1.55"/><circle cx="110.6" cy="419.5" r="1.55"/><circle cx="112.1" cy="419.8" r="1.55"/><circle cx="111.8" cy="419.3" r="1.55"/><circle cx="113.2" cy="419.7" r="1.55"/><circle cx="113.2" cy="418.6" r="1.55"/><circle cx="114.4" cy="419.4" r="1.55"/><circle cx="114.7" cy="418.6" r="1.55"/><circle cx="115.9" cy="419" r="1.55"/><circle cx="116.1" cy="419.6" r="1.55"/><circle cx="117" cy="419.8" r="1.55"/><circle cx="117.2" cy="419.9" r="1.55"/><circle cx="118.4" cy="419.4" r="1.55"/><circle cx="118.4" cy="419.8" r="1.55"/><circle cx="119.8" cy="418.8" r="1.55"/><circle cx="119.7" cy="420" r="1.55"/><circle cx="121.2" cy="419.3" r="1.55"/><circle cx="120.9" cy="420" r="1.55"/><circle cx="122.6" cy="419.4" r="1.55"/><circle cx="122.4" cy="418.6" r="1.55"/><circle cx="123.7" cy="418.9" r="1.55"/><circle cx="123.7" cy="419.8" r="1.55"/><circle cx="125.1" cy="420" r="1.55"/><circle cx="125.1" cy="418.8" r="1.55"/><circle cx="126.2" cy="419.1" r="1.55"/><circle cx="126.5" cy="419.2" r="1.55"/><circle cx="127.6" cy="419.8" r="1.55"/><circle cx="127.5" cy="418.6" r="1.55"/><circle cx="128.8" cy="418.5" r="1.55"/><circle cx="128.8" cy="419.5" r="1.55"/><circle cx="130" cy="419.3" r="1.55"/><circle cx="130.1" cy="419.5" r="1.55"/><circle cx="131.6" cy="418.9" r="1.55"/><circle cx="131.5" cy="419.1" r="1.55"/><circle cx="132.6" cy="419.4" r="1.55"/><circle cx="132.8" cy="418.6" r="1.55"/><circle cx="134" cy="419.3" r="1.55"/><circle cx="134.1" cy="419.4" r="1.55"/><circle cx="135.2" cy="418.9" r="1.55"/><circle cx="135.5" cy="419.9" r="1.55"/><circle cx="136.6" cy="419.6" r="1.55"/><circle cx="136.6" cy="420.7" r="1.55"/><circle cx="137.9" cy="421.8" r="1.55"/><circle cx="138.1" cy="421.7" r="1.55"/><circle cx="139.4" cy="422.2" r="1.55"/><circle cx="139.3" cy="421.8" r="1.55"/><circle cx="140.7" cy="422.1" r="1.55"/><circle cx="140.7" cy="422.2" r="1.55"/></g>
<g fill="#984EA3" stroke="#fff" stroke-width="0.3"><circle cx="133.2" cy="424.8" r="1.5"/><circle cx="132.9" cy="425" r="1.5"/><circle cx="134.3" cy="425" r="1.5"/><circle cx="134.3" cy="424.7" r="1.5"/><circle cx="135.5" cy="425.5" r="1.5"/><circle cx="135.7" cy="424.7" r="1.5"/><circle cx="136.8" cy="425.4" r="1.5"/><circle cx="137.1" cy="424.7" r="1.5"/><circle cx="138.1" cy="425" r="1.5"/><circle cx="138.1" cy="425.2" r="1.5"/><circle cx="139.3" cy="425.7" r="1.5"/><circle cx="139.7" cy="425" r="1.5"/><circle cx="140.9" cy="424.8" r="1.5"/><circle cx="140.7" cy="425.6" r="1.5"/><circle cx="142.2" cy="425.2" r="1.5"/><circle cx="142" cy="424.9" r="1.5"/><circle cx="143.4" cy="425.3" r="1.5"/><circle cx="143.6" cy="425.4" r="1.5"/><circle cx="144.9" cy="425.4" r="1.5"/><circle cx="144.6" cy="425.1" r="1.5"/><circle cx="145.9" cy="425.6" r="1.5"/><circle cx="146.1" cy="425.7" r="1.5"/><circle cx="147.4" cy="425.9" r="1.5"/><circle cx="147.5" cy="425.2" r="1.5"/><circle cx="148.7" cy="425.2" r="1.5"/><circle cx="148.7" cy="424.9" r="1.5"/><circle cx="149.7" cy="425.6" r="1.5"/><circle cx="149.9" cy="425.2" r="1.5"/><circle cx="151.1" cy="424.8" r="1.5"/><circle cx="151.4" cy="425.9" r="1.5"/><circle cx="152.4" cy="425.1" r="1.5"/><circle cx="152.6" cy="425.4" r="1.5"/><circle cx="153.8" cy="425.4" r="1.5"/><circle cx="154" cy="425.7" r="1.5"/><circle cx="155.2" cy="425.6" r="1.5"/><circle cx="155.1" cy="425.6" r="1.5"/><circle cx="156.6" cy="425.9" r="1.5"/><circle cx="156.4" cy="425.9" r="1.5"/><circle cx="157.7" cy="425.5" r="1.5"/><circle cx="157.7" cy="425" r="1.5"/><circle cx="158.9" cy="425.8" r="1.5"/><circle cx="158.9" cy="425.4" r="1.5"/><circle cx="160.3" cy="425.9" r="1.5"/><circle cx="160.3" cy="425.2" r="1.5"/><circle cx="161.5" cy="425" r="1.5"/><circle cx="161.5" cy="425.4" r="1.5"/><circle cx="162.7" cy="425.4" r="1.5"/><circle cx="163" cy="425.1" r="1.5"/><circle cx="164.1" cy="425.7" r="1.5"/><circle cx="164.1" cy="425.7" r="1.5"/><circle cx="165.4" cy="425.5" r="1.5"/><circle cx="165.6" cy="425.2" r="1.5"/><circle cx="166.6" cy="425.8" r="1.5"/><circle cx="166.7" cy="425.9" r="1.5"/><circle cx="168" cy="425.1" r="1.5"/><circle cx="168.1" cy="425.8" r="1.5"/><circle cx="169.2" cy="425.4" r="1.5"/><circle cx="169.5" cy="425.9" r="1.5"/><circle cx="170.9" cy="425.8" r="1.5"/><circle cx="170.8" cy="425.1" r="1.5"/><circle cx="172" cy="425.2" r="1.5"/><circle cx="172.1" cy="426.1" r="1.5"/><circle cx="173.4" cy="425.5" r="1.5"/><circle cx="173.3" cy="425.1" r="1.5"/><circle cx="174.5" cy="425.4" r="1.5"/><circle cx="174.8" cy="425.9" r="1.5"/><circle cx="175.8" cy="425.2" r="1.5"/><circle cx="175.7" cy="425.6" r="1.5"/><circle cx="177" cy="425.9" r="1.5"/><circle cx="177.2" cy="426" r="1.5"/><circle cx="178.4" cy="425.8" r="1.5"/><circle cx="178.6" cy="425.7" r="1.5"/><circle cx="179.7" cy="426.2" r="1.5"/><circle cx="179.7" cy="425.3" r="1.5"/><circle cx="181.1" cy="426.3" r="1.5"/><circle cx="181.1" cy="425.8" r="1.5"/><circle cx="182.5" cy="425.7" r="1.5"/><circle cx="182.4" cy="425.6" r="1.5"/><circle cx="183.7" cy="425.7" r="1.5"/><circle cx="183.7" cy="425.5" r="1.5"/><circle cx="184.8" cy="425.8" r="1.5"/><circle cx="184.8" cy="425.9" r="1.5"/></g>
<g fill="#FFFF33" stroke="#fff" stroke-width="0.3"><circle cx="81.3" cy="467" r="1.3"/><circle cx="82.9" cy="466.9" r="1.3"/><circle cx="84.5" cy="467" r="1.3"/><circle cx="85.8" cy="466.9" r="1.3"/><circle cx="87.4" cy="466.9" r="1.3"/><circle cx="88.9" cy="467" r="1.3"/><circle cx="90.3" cy="467.1" r="1.3"/><circle cx="92.1" cy="466.9" r="1.3"/><circle cx="93.6" cy="466.9" r="1.3"/></g>
<g fill="#FFFF33" stroke="#fff" stroke-width="0.3"><circle cx="104.1" cy="468.1" r="1.3"/><circle cx="105.5" cy="468.1" r="1.3"/><circle cx="107.1" cy="468.1" r="1.3"/><circle cx="108.4" cy="468.1" r="1.3"/><circle cx="109.9" cy="468.2" r="1.3"/><circle cx="111.4" cy="468.1" r="1.3"/><circle cx="113" cy="468" r="1.3"/><circle cx="114.6" cy="468" r="1.3"/><circle cx="116.1" cy="468.2" r="1.3"/></g>
<g fill="#A65628" stroke="#fff" stroke-width="0.3"><circle cx="47.5" cy="487.2" r="1.3"/><circle cx="50.7" cy="481" r="1.3"/><circle cx="53" cy="479.5" r="1.3"/><circle cx="55.5" cy="478.5" r="1.3"/><circle cx="58" cy="478.3" r="1.3"/><circle cx="60.5" cy="478.5" r="1.3"/><circle cx="63" cy="479.7" r="1.3"/><circle cx="65.5" cy="479.8" r="1.3"/><circle cx="68" cy="479.8" r="1.3"/><circle cx="71" cy="479.8" r="1.3"/><circle cx="73" cy="488.3" r="1.3"/><circle cx="79.7" cy="490" r="1.3"/><circle cx="102.6" cy="473.9" r="1.3"/><circle cx="123.8" cy="479.4" r="1.3"/><circle cx="126" cy="473.4" r="1.3"/><circle cx="124.5" cy="473.9" r="1.3"/><circle cx="127" cy="473.9" r="1.3"/><circle cx="129.5" cy="473.9" r="1.3"/><circle cx="132" cy="474" r="1.3"/><circle cx="134.5" cy="473.9" r="1.3"/><circle cx="136.2" cy="476.6" r="1.3"/><circle cx="136.2" cy="480" r="1.3"/><circle cx="147.8" cy="483" r="1.3"/><circle cx="150" cy="477.7" r="1.3"/><circle cx="153" cy="477.7" r="1.3"/><circle cx="156" cy="477.7" r="1.3"/><circle cx="159" cy="477.7" r="1.3"/><circle cx="162" cy="477.7" r="1.3"/><circle cx="164.8" cy="477.7" r="1.3"/></g>
<g fill="#377EB8" stroke="#fff" stroke-width="0.3"><circle cx="45.4" cy="484.3" r="1.5"/><circle cx="45.4" cy="485.2" r="1.5"/><circle cx="46.6" cy="484.6" r="1.5"/><circle cx="46.5" cy="484.6" r="1.5"/><circle cx="47.9" cy="484.4" r="1.5"/><circle cx="47.7" cy="485.2" r="1.5"/><circle cx="48.8" cy="484.7" r="1.5"/><circle cx="49" cy="484.3" r="1.5"/><circle cx="50.2" cy="485.1" r="1.5"/><circle cx="50" cy="484.8" r="1.5"/><circle cx="51.3" cy="485.1" r="1.5"/><circle cx="51.4" cy="484.6" r="1.5"/><circle cx="52.5" cy="484.6" r="1.5"/><circle cx="52.5" cy="484.8" r="1.5"/><circle cx="53.9" cy="484.6" r="1.5"/><circle cx="54" cy="485.1" r="1.5"/><circle cx="55" cy="484.8" r="1.5"/><circle cx="55.2" cy="484.1" r="1.5"/><circle cx="56.4" cy="485" r="1.5"/><circle cx="56.2" cy="484.6" r="1.5"/><circle cx="57.3" cy="485.2" r="1.5"/><circle cx="57.3" cy="484.2" r="1.5"/><circle cx="58.7" cy="484.4" r="1.5"/><circle cx="58.4" cy="485.2" r="1.5"/><circle cx="59.6" cy="485.2" r="1.5"/><circle cx="60" cy="485.2" r="1.5"/><circle cx="61" cy="484.4" r="1.5"/><circle cx="61.1" cy="484.8" r="1.5"/><circle cx="62.1" cy="485.1" r="1.5"/><circle cx="62.3" cy="484.6" r="1.5"/><circle cx="63.2" cy="484.7" r="1.5"/><circle cx="63.2" cy="484.9" r="1.5"/><circle cx="64.5" cy="484.7" r="1.5"/><circle cx="64.4" cy="484.6" r="1.5"/><circle cx="65.6" cy="484.1" r="1.5"/><circle cx="65.8" cy="485.2" r="1.5"/><circle cx="66.9" cy="484.9" r="1.5"/><circle cx="67.2" cy="485.1" r="1.5"/><circle cx="68.4" cy="484.3" r="1.5"/><circle cx="68.2" cy="484.3" r="1.5"/><circle cx="69.5" cy="485.2" r="1.5"/><circle cx="69.4" cy="484.3" r="1.5"/><circle cx="70.6" cy="484.2" r="1.5"/><circle cx="70.7" cy="484.5" r="1.5"/><circle cx="71.8" cy="485.2" r="1.5"/><circle cx="72" cy="485" r="1.5"/><circle cx="72.8" cy="484.3" r="1.5"/><circle cx="72.9" cy="484.5" r="1.5"/><circle cx="74.4" cy="485.2" r="1.5"/><circle cx="74.3" cy="484.1" r="1.5"/><circle cx="75.6" cy="484.7" r="1.5"/><circle cx="75.4" cy="485" r="1.5"/><circle cx="76.5" cy="484.3" r="1.5"/><circle cx="76.7" cy="484.6" r="1.5"/><circle cx="77.8" cy="484.9" r="1.5"/><circle cx="77.7" cy="484.6" r="1.5"/><circle cx="79" cy="484.5" r="1.5"/><circle cx="79" cy="484.4" r="1.5"/><circle cx="80.2" cy="484.9" r="1.5"/><circle cx="80" cy="484.2" r="1.5"/><circle cx="81.4" cy="485.1" r="1.5"/><circle cx="81.5" cy="485.3" r="1.5"/><circle cx="82.4" cy="485" r="1.5"/><circle cx="82.7" cy="484.3" r="1.5"/><circle cx="83.9" cy="484.3" r="1.5"/><circle cx="83.6" cy="484.3" r="1.5"/><circle cx="85" cy="484.4" r="1.5"/><circle cx="84.8" cy="484.5" r="1.5"/><circle cx="86.3" cy="484.2" r="1.5"/><circle cx="86.3" cy="484.3" r="1.5"/><circle cx="87.6" cy="484.7" r="1.5"/><circle cx="87.4" cy="485" r="1.5"/><circle cx="88.6" cy="484.3" r="1.5"/><circle cx="88.4" cy="484.8" r="1.5"/><circle cx="89.7" cy="484.1" r="1.5"/><circle cx="89.7" cy="484.7" r="1.5"/><circle cx="91.1" cy="484.2" r="1.5"/><circle cx="91.1" cy="485.1" r="1.5"/><circle cx="92.3" cy="484.8" r="1.5"/><circle cx="92.3" cy="485" r="1.5"/><circle cx="93.3" cy="484.3" r="1.5"/><circle cx="93.4" cy="484.2" r="1.5"/><circle cx="94.7" cy="484.7" r="1.5"/><circle cx="94.7" cy="484.5" r="1.5"/><circle cx="95.7" cy="485.2" r="1.5"/><circle cx="95.6" cy="484.5" r="1.5"/><circle cx="96.8" cy="484.2" r="1.5"/><circle cx="96.8" cy="485" r="1.5"/><circle cx="98.1" cy="484.2" r="1.5"/><circle cx="98.1" cy="484.9" r="1.5"/><circle cx="99.3" cy="484.3" r="1.5"/><circle cx="99.5" cy="484.4" r="1.5"/><circle cx="100.5" cy="484.9" r="1.5"/><circle cx="100.7" cy="484.9" r="1.5"/><circle cx="101.8" cy="484.9" r="1.5"/><circle cx="102" cy="484.3" r="1.5"/><circle cx="103.1" cy="484.7" r="1.5"/><circle cx="103" cy="484.7" r="1.5"/><circle cx="104.3" cy="484.2" r="1.5"/><circle cx="104.1" cy="484.8" r="1.5"/><circle cx="105.4" cy="484.3" r="1.5"/><circle cx="105.3" cy="484.9" r="1.5"/><circle cx="106.7" cy="484.1" r="1.5"/><circle cx="106.8" cy="485.2" r="1.5"/><circle cx="107.8" cy="484.1" r="1.5"/><circle cx="107.7" cy="484.2" r="1.5"/><circle cx="109" cy="485.1" r="1.5"/><circle cx="109" cy="484.8" r="1.5"/><circle cx="110" cy="484.6" r="1.5"/><circle cx="110.3" cy="484.3" r="1.5"/><circle cx="111.3" cy="485" r="1.5"/><circle cx="111.3" cy="485" r="1.5"/><circle cx="112.6" cy="485" r="1.5"/><circle cx="112.8" cy="484.4" r="1.5"/><circle cx="113.8" cy="484.8" r="1.5"/><circle cx="113.6" cy="485.2" r="1.5"/><circle cx="115.1" cy="485" r="1.5"/><circle cx="115.2" cy="484.7" r="1.5"/><circle cx="116.4" cy="485.2" r="1.5"/><circle cx="116.2" cy="484.8" r="1.5"/><circle cx="117.3" cy="484.3" r="1.5"/><circle cx="117.5" cy="484.5" r="1.5"/><circle cx="118.6" cy="484.7" r="1.5"/><circle cx="118.5" cy="485.2" r="1.5"/><circle cx="120" cy="484.3" r="1.5"/><circle cx="119.9" cy="484.7" r="1.5"/><circle cx="121" cy="484.4" r="1.5"/><circle cx="121" cy="485.1" r="1.5"/><circle cx="122.1" cy="484.8" r="1.5"/><circle cx="122.2" cy="485" r="1.5"/><circle cx="123.3" cy="484.5" r="1.5"/><circle cx="123.3" cy="484.2" r="1.5"/><circle cx="124.8" cy="484.7" r="1.5"/><circle cx="124.8" cy="484.8" r="1.5"/><circle cx="125.7" cy="485" r="1.5"/><circle cx="125.8" cy="485.2" r="1.5"/><circle cx="127.2" cy="484.2" r="1.5"/><circle cx="127.2" cy="484.7" r="1.5"/><circle cx="128.3" cy="484.3" r="1.5"/><circle cx="128.1" cy="484.4" r="1.5"/><circle cx="129.5" cy="484.6" r="1.5"/><circle cx="129.3" cy="485.3" r="1.5"/><circle cx="130.7" cy="484.9" r="1.5"/><circle cx="130.8" cy="484.6" r="1.5"/><circle cx="131.6" cy="484.5" r="1.5"/><circle cx="131.8" cy="484.7" r="1.5"/><circle cx="133" cy="485.1" r="1.5"/><circle cx="132.9" cy="484.6" r="1.5"/><circle cx="134.4" cy="484.3" r="1.5"/><circle cx="134.2" cy="485" r="1.5"/><circle cx="135.5" cy="484.2" r="1.5"/><circle cx="135.3" cy="484.4" r="1.5"/><circle cx="136.6" cy="484.4" r="1.5"/><circle cx="136.5" cy="484.5" r="1.5"/></g>
<g fill="#377EB8" stroke="#fff" stroke-width="0.3"><circle cx="136" cy="486.5" r="1.3"/><circle cx="137" cy="487.5" r="1.3"/></g>
<g fill="#FF7F00" stroke="#fff" stroke-width="0.3"><circle cx="132.2" cy="490.2" r="1.5"/><circle cx="133" cy="489.9" r="1.5"/><circle cx="134.2" cy="489.8" r="1.5"/><circle cx="135.6" cy="489.6" r="1.5"/><circle cx="137" cy="490.5" r="1.5"/><circle cx="138" cy="490.1" r="1.5"/><circle cx="139.3" cy="491" r="1.5"/><circle cx="140.6" cy="490.7" r="1.5"/><circle cx="141.5" cy="490.7" r="1.5"/><circle cx="142.9" cy="490.9" r="1.5"/><circle cx="144.1" cy="491" r="1.5"/><circle cx="145.2" cy="491" r="1.5"/><circle cx="146.4" cy="490.5" r="1.5"/><circle cx="147.7" cy="491.3" r="1.5"/><circle cx="148.9" cy="491.5" r="1.5"/><circle cx="150.1" cy="491.3" r="1.5"/><circle cx="151.2" cy="491.3" r="1.5"/><circle cx="152.5" cy="491.6" r="1.5"/><circle cx="153.7" cy="491.9" r="1.5"/><circle cx="155" cy="491.5" r="1.5"/><circle cx="156.1" cy="490.9" r="1.5"/><circle cx="157.1" cy="491" r="1.5"/><circle cx="158.5" cy="491.4" r="1.5"/><circle cx="159.6" cy="491.3" r="1.5"/><circle cx="160.7" cy="491.4" r="1.5"/><circle cx="161.9" cy="491" r="1.5"/><circle cx="163.2" cy="491.4" r="1.5"/><circle cx="164.4" cy="491.3" r="1.5"/><circle cx="165.5" cy="491.9" r="1.5"/><circle cx="166.8" cy="491.2" r="1.5"/><circle cx="167.8" cy="492" r="1.5"/><circle cx="169.4" cy="491.3" r="1.5"/><circle cx="170.5" cy="491.6" r="1.5"/><circle cx="171.6" cy="491.3" r="1.5"/><circle cx="172.9" cy="491.5" r="1.5"/><circle cx="174" cy="492.1" r="1.5"/><circle cx="175.3" cy="491.6" r="1.5"/><circle cx="176.5" cy="491.7" r="1.5"/><circle cx="177.5" cy="491.9" r="1.5"/><circle cx="178.7" cy="492.3" r="1.5"/><circle cx="179.8" cy="491.5" r="1.5"/><circle cx="181.1" cy="491.9" r="1.5"/><circle cx="182.3" cy="491.4" r="1.5"/><circle cx="183.6" cy="491.4" r="1.5"/><circle cx="185" cy="491.8" r="1.5"/><circle cx="185.9" cy="492.5" r="1.5"/><circle cx="187.3" cy="491.5" r="1.5"/><circle cx="188.4" cy="491.5" r="1.5"/><circle cx="189.6" cy="491.6" r="1.5"/><circle cx="190.8" cy="492.1" r="1.5"/><circle cx="192.1" cy="492.6" r="1.5"/><circle cx="193.1" cy="492.1" r="1.5"/><circle cx="194.6" cy="492.2" r="1.5"/><circle cx="195.5" cy="492" r="1.5"/></g>
<g fill="#4DAF4A" stroke="#fff" stroke-width="0.3"><circle cx="46" cy="497.4" r="1.3"/><circle cx="47.5" cy="498" r="1.3"/><circle cx="73" cy="497.8" r="1.3"/><circle cx="75" cy="497.2" r="1.3"/><circle cx="77" cy="497" r="1.3"/><circle cx="79" cy="496.8" r="1.3"/><circle cx="80.4" cy="495.8" r="1.3"/><circle cx="93" cy="500" r="1.3"/><circle cx="95.5" cy="500.2" r="1.3"/><circle cx="98" cy="500" r="1.3"/><circle cx="100.5" cy="499.8" r="1.3"/><circle cx="116" cy="497.8" r="1.3"/><circle cx="116.4" cy="503" r="1.3"/><circle cx="118.5" cy="503.5" r="1.3"/><circle cx="121" cy="503" r="1.3"/><circle cx="123.8" cy="503" r="1.3"/><circle cx="137.2" cy="495.7" r="1.3"/><circle cx="137.2" cy="498.9" r="1.3"/><circle cx="138.3" cy="501" r="1.3"/><circle cx="141" cy="501.2" r="1.3"/><circle cx="144" cy="501" r="1.3"/><circle cx="147" cy="501" r="1.3"/><circle cx="167" cy="498.9" r="1.3"/><circle cx="169" cy="501" r="1.3"/><circle cx="171.5" cy="502.5" r="1.3"/><circle cx="174.3" cy="501" r="1.3"/><circle cx="174.3" cy="499" r="1.3"/><circle cx="190.2" cy="505.2" r="1.3"/><circle cx="193.4" cy="505.2" r="1.3"/><circle cx="192" cy="503.5" r="1.3"/></g>
<line x1="36" y1="421.5" x2="37.6" y2="421.5" stroke="#777" stroke-width="0.5"/>
<text x="33.800000000000004" y="423.65" font-size="4.5" fill="#1a1a1a" text-anchor="end" font-family="DejaVu Sans" stroke="#1a1a1a" stroke-width="0.14">250</text>
<line x1="36" y1="439.6" x2="37.6" y2="439.6" stroke="#777" stroke-width="0.5"/>
<text x="33.800000000000004" y="441.75" font-size="4.5" fill="#1a1a1a" text-anchor="end" font-family="DejaVu Sans" stroke="#1a1a1a" stroke-width="0.14">200</text>
<line x1="36" y1="457.7" x2="37.6" y2="457.7" stroke="#777" stroke-width="0.5"/>
<text x="33.800000000000004" y="459.85" font-size="4.5" fill="#1a1a1a" text-anchor="end" font-family="DejaVu Sans" stroke="#1a1a1a" stroke-width="0.14">150</text>
<line x1="36" y1="475.8" x2="37.6" y2="475.8" stroke="#777" stroke-width="0.5"/>
<text x="33.800000000000004" y="477.95" font-size="4.5" fill="#1a1a1a" text-anchor="end" font-family="DejaVu Sans" stroke="#1a1a1a" stroke-width="0.14">100</text>
<line x1="36" y1="493.9" x2="37.6" y2="493.9" stroke="#777" stroke-width="0.5"/>
<text x="33.800000000000004" y="496.05" font-size="4.5" fill="#1a1a1a" text-anchor="end" font-family="DejaVu Sans" stroke="#1a1a1a" stroke-width="0.14">50</text>
<line x1="45.6" y1="511.6" x2="45.6" y2="513.2" stroke="#777" stroke-width="0.5"/>
<text x="45.6" y="519.15" font-size="4.5" fill="#1a1a1a" text-anchor="middle" font-family="DejaVu Sans" stroke="#1a1a1a" stroke-width="0.14">16.50</text>
<line x1="64.3" y1="511.6" x2="64.3" y2="513.2" stroke="#777" stroke-width="0.5"/>
<text x="64.35" y="519.15" font-size="4.5" fill="#1a1a1a" text-anchor="middle" font-family="DejaVu Sans" stroke="#1a1a1a" stroke-width="0.14">16.75</text>
<line x1="83.1" y1="511.6" x2="83.1" y2="513.2" stroke="#777" stroke-width="0.5"/>
<text x="83.1" y="519.15" font-size="4.5" fill="#1a1a1a" text-anchor="middle" font-family="DejaVu Sans" stroke="#1a1a1a" stroke-width="0.14">17.00</text>
<line x1="101.8" y1="511.6" x2="101.8" y2="513.2" stroke="#777" stroke-width="0.5"/>
<text x="101.85" y="519.15" font-size="4.5" fill="#1a1a1a" text-anchor="middle" font-family="DejaVu Sans" stroke="#1a1a1a" stroke-width="0.14">17.25</text>
<line x1="120.6" y1="511.6" x2="120.6" y2="513.2" stroke="#777" stroke-width="0.5"/>
<text x="120.6" y="519.15" font-size="4.5" fill="#1a1a1a" text-anchor="middle" font-family="DejaVu Sans" stroke="#1a1a1a" stroke-width="0.14">17.50</text>
<line x1="139.3" y1="511.6" x2="139.3" y2="513.2" stroke="#777" stroke-width="0.5"/>
<text x="139.35" y="519.15" font-size="4.5" fill="#1a1a1a" text-anchor="middle" font-family="DejaVu Sans" stroke="#1a1a1a" stroke-width="0.14">17.75</text>
<line x1="158.1" y1="511.6" x2="158.1" y2="513.2" stroke="#777" stroke-width="0.5"/>
<text x="158.1" y="519.15" font-size="4.5" fill="#1a1a1a" text-anchor="middle" font-family="DejaVu Sans" stroke="#1a1a1a" stroke-width="0.14">18.00</text>
<line x1="176.8" y1="511.6" x2="176.8" y2="513.2" stroke="#777" stroke-width="0.5"/>
<text x="176.85" y="519.15" font-size="4.5" fill="#1a1a1a" text-anchor="middle" font-family="DejaVu Sans" stroke="#1a1a1a" stroke-width="0.14">18.25</text>
<line x1="195.6" y1="511.6" x2="195.6" y2="513.2" stroke="#777" stroke-width="0.5"/>
<text x="195.6" y="519.15" font-size="4.5" fill="#1a1a1a" text-anchor="middle" font-family="DejaVu Sans" stroke="#1a1a1a" stroke-width="0.14">18.50</text>
<rect x="37.6" y="413.2" width="165.3" height="98.4" fill="none" stroke="#777" stroke-width="0.7"/>
<text x="3.9" y="466.09" font-size="6.6" fill="#222" font-family="DejaVu Sans" stroke="#222" stroke-width="0.14">COG</text>
<text x="102.6" y="527.39" font-size="6.6" fill="#222" font-family="DejaVu Sans" stroke="#222" stroke-width="0.14">Longitude</text>
<rect x="163.7" y="434.2" width="37.1" height="56.2" fill="#fff" fill-opacity="0.8" stroke="#ddd" stroke-width="0.4" rx="0.8"/>
<text x="182.2" y="441.65" font-size="4.5" fill="#111" text-anchor="middle" font-family="DejaVu Sans" stroke="#111" stroke-width="0.12">cluster_GMM</text>
<circle cx="179.6" cy="445.9" r="1.55" fill="#E41A1C" stroke="#fff" stroke-width="0.3"/>
<text x="189.2" y="448.05" font-size="4.5" fill="#111" text-anchor="middle" font-family="DejaVu Sans" stroke="#111" stroke-width="0.12">0</text>
<circle cx="179.6" cy="452.7" r="1.55" fill="#377EB8" stroke="#fff" stroke-width="0.3"/>
<text x="189.2" y="454.83" font-size="4.5" fill="#111" text-anchor="middle" font-family="DejaVu Sans" stroke="#111" stroke-width="0.12">1</text>
<circle cx="179.6" cy="459.5" r="1.55" fill="#4DAF4A" stroke="#fff" stroke-width="0.3"/>
<text x="189.2" y="461.61" font-size="4.5" fill="#111" text-anchor="middle" font-family="DejaVu Sans" stroke="#111" stroke-width="0.12">2</text>
<circle cx="179.6" cy="466.2" r="1.55" fill="#984EA3" stroke="#fff" stroke-width="0.3"/>
<text x="189.2" y="468.39" font-size="4.5" fill="#111" text-anchor="middle" font-family="DejaVu Sans" stroke="#111" stroke-width="0.12">3</text>
<circle cx="179.6" cy="473" r="1.55" fill="#FF7F00" stroke="#fff" stroke-width="0.3"/>
<text x="189.2" y="475.17" font-size="4.5" fill="#111" text-anchor="middle" font-family="DejaVu Sans" stroke="#111" stroke-width="0.12">4</text>
<circle cx="179.6" cy="479.8" r="1.55" fill="#FFFF33" stroke="#fff" stroke-width="0.3"/>
<text x="189.2" y="481.95" font-size="4.5" fill="#111" text-anchor="middle" font-family="DejaVu Sans" stroke="#111" stroke-width="0.12">5</text>
<circle cx="179.6" cy="486.6" r="1.55" fill="#A65628" stroke="#fff" stroke-width="0.3"/>
<text x="189.2" y="488.73" font-size="4.5" fill="#111" text-anchor="middle" font-family="DejaVu Sans" stroke="#111" stroke-width="0.12">6</text>
<rect x="78.7" y="463.5" width="40.9" height="8.9" fill="none" stroke="#E2406B" stroke-width="0.9"/>
<rect x="42.2" y="493.1" width="154.4" height="13.7" fill="none" stroke="#E2406B" stroke-width="0.9"/>
<text x="107.4" y="544.8" font-size="13" fill="#000" text-anchor="middle" font-family="Liberation Sans">(g)</text>
<g fill="#E41A1C" stroke="#fff" stroke-width="0.3"><circle cx="240.2" cy="418.4" r="1.3"/></g>
<g fill="#FFFF33" stroke="#fff" stroke-width="0.3"><circle cx="243" cy="420.5" r="1.45"/><circle cx="245.8" cy="420.7" r="1.45"/><circle cx="248.6" cy="421" r="1.45"/><circle cx="251.2" cy="420.9" r="1.45"/><circle cx="253.5" cy="420.9" r="1.45"/><circle cx="256.1" cy="421.2" r="1.45"/><circle cx="258.7" cy="421.1" r="1.45"/><circle cx="261.3" cy="421.3" r="1.45"/><circle cx="264.2" cy="421.4" r="1.45"/><circle cx="266.6" cy="421.1" r="1.45"/><circle cx="269" cy="421.6" r="1.45"/><circle cx="271.8" cy="421.7" r="1.45"/><circle cx="274.2" cy="421.3" r="1.45"/><circle cx="277.2" cy="421.7" r="1.45"/><circle cx="279.7" cy="421.7" r="1.45"/><circle cx="282" cy="421.9" r="1.45"/><circle cx="284.9" cy="422" r="1.45"/><circle cx="287.4" cy="421.9" r="1.45"/><circle cx="290.2" cy="422.3" r="1.45"/><circle cx="292.7" cy="422" r="1.45"/><circle cx="295.3" cy="422.2" r="1.45"/><circle cx="297.9" cy="422.1" r="1.45"/><circle cx="300.3" cy="422.5" r="1.45"/><circle cx="302.9" cy="422.2" r="1.45"/><circle cx="305.4" cy="422.5" r="1.45"/><circle cx="308.4" cy="422.7" r="1.45"/><circle cx="310.9" cy="422.8" r="1.45"/><circle cx="313.3" cy="422.7" r="1.45"/><circle cx="316.2" cy="422.9" r="1.45"/><circle cx="318.7" cy="423.1" r="1.45"/><circle cx="321.4" cy="423" r="1.45"/><circle cx="323.8" cy="423.5" r="1.45"/><circle cx="326.2" cy="424.2" r="1.45"/><circle cx="329.1" cy="424.7" r="1.45"/><circle cx="331.5" cy="424.7" r="1.45"/><circle cx="334.2" cy="424.8" r="1.45"/><circle cx="336.7" cy="425" r="1.45"/><circle cx="339.6" cy="424.9" r="1.45"/><circle cx="341.8" cy="425" r="1.45"/><circle cx="344.8" cy="425" r="1.45"/><circle cx="347.1" cy="424.6" r="1.45"/><circle cx="349.8" cy="424.6" r="1.45"/><circle cx="352.4" cy="424.8" r="1.45"/><circle cx="354.9" cy="424.8" r="1.45"/><circle cx="357.7" cy="424.9" r="1.45"/><circle cx="360.2" cy="424.6" r="1.45"/><circle cx="363" cy="424.6" r="1.45"/><circle cx="365.3" cy="424.8" r="1.45"/><circle cx="368" cy="424.6" r="1.45"/><circle cx="370.5" cy="424.6" r="1.45"/><circle cx="373.1" cy="424.6" r="1.45"/><circle cx="375.8" cy="424.7" r="1.45"/><circle cx="378.3" cy="424.9" r="1.45"/><circle cx="380.9" cy="425" r="1.45"/><circle cx="383.4" cy="424.8" r="1.45"/><circle cx="386.2" cy="424.7" r="1.45"/><circle cx="388.9" cy="424.7" r="1.45"/><circle cx="391.5" cy="424.8" r="1.45"/><circle cx="394" cy="424.6" r="1.45"/><circle cx="396.7" cy="424.6" r="1.45"/></g>
<g fill="#E41A1C" stroke="#fff" stroke-width="0.3"><circle cx="331.8" cy="427.2" r="1.3"/></g>
<g fill="#E41A1C" stroke="#fff" stroke-width="0.3"><circle cx="260.8" cy="425.4" r="1.3"/><circle cx="262.4" cy="425.5" r="1.3"/><circle cx="263.8" cy="425.6" r="1.3"/><circle cx="265.2" cy="425.6" r="1.3"/><circle cx="266.9" cy="426" r="1.3"/><circle cx="268.1" cy="426.5" r="1.3"/><circle cx="269.8" cy="426.6" r="1.3"/><circle cx="271" cy="426.6" r="1.3"/><circle cx="272.9" cy="426.6" r="1.3"/></g>
<g fill="#E41A1C" stroke="#fff" stroke-width="0.3"><circle cx="239.5" cy="431.5" r="1.3"/><circle cx="241.5" cy="431.3" r="1.3"/><circle cx="243.6" cy="432.2" r="1.3"/><circle cx="245.4" cy="432.9" r="1.3"/><circle cx="247.3" cy="431.1" r="1.3"/><circle cx="249.5" cy="431.6" r="1.3"/><circle cx="251.6" cy="432.4" r="1.3"/><circle cx="253.7" cy="431.7" r="1.3"/><circle cx="255.6" cy="432.3" r="1.3"/><circle cx="257.4" cy="432.7" r="1.3"/><circle cx="259.6" cy="431.1" r="1.3"/><circle cx="261.6" cy="432.4" r="1.3"/><circle cx="263.4" cy="431.4" r="1.3"/><circle cx="265.7" cy="431.5" r="1.3"/><circle cx="267.3" cy="431.2" r="1.3"/><circle cx="269.4" cy="432.8" r="1.3"/><circle cx="271.7" cy="431.4" r="1.3"/><circle cx="273.3" cy="431.2" r="1.3"/><circle cx="275.5" cy="431.1" r="1.3"/><circle cx="277.4" cy="432.5" r="1.3"/><circle cx="279.4" cy="431.1" r="1.3"/><circle cx="281.6" cy="432.9" r="1.3"/><circle cx="283.5" cy="431.2" r="1.3"/><circle cx="285.6" cy="433" r="1.3"/><circle cx="287.3" cy="432.8" r="1.3"/><circle cx="289.4" cy="431.9" r="1.3"/><circle cx="291.3" cy="432.9" r="1.3"/><circle cx="293.4" cy="431.2" r="1.3"/><circle cx="295.6" cy="432.6" r="1.3"/><circle cx="297.5" cy="431.3" r="1.3"/><circle cx="299.4" cy="432.7" r="1.3"/><circle cx="301.6" cy="431.9" r="1.3"/><circle cx="303.7" cy="431.5" r="1.3"/><circle cx="305.5" cy="432.4" r="1.3"/></g>
<g fill="#E41A1C" stroke="#fff" stroke-width="0.3"><circle cx="239.4" cy="435.2" r="1.3"/><circle cx="241.7" cy="435.3" r="1.3"/><circle cx="243.4" cy="435.9" r="1.3"/><circle cx="245.7" cy="434.4" r="1.3"/><circle cx="247.6" cy="435.3" r="1.3"/><circle cx="249.5" cy="434.1" r="1.3"/><circle cx="251.5" cy="434.8" r="1.3"/><circle cx="253.3" cy="434" r="1.3"/><circle cx="255.7" cy="434.9" r="1.3"/><circle cx="257.7" cy="435.9" r="1.3"/><circle cx="259.3" cy="435.3" r="1.3"/><circle cx="261.5" cy="435.1" r="1.3"/><circle cx="263.5" cy="435.3" r="1.3"/><circle cx="265.6" cy="435.9" r="1.3"/><circle cx="267.5" cy="435.2" r="1.3"/><circle cx="269.7" cy="435" r="1.3"/><circle cx="271.7" cy="434.7" r="1.3"/><circle cx="273.7" cy="434.7" r="1.3"/><circle cx="275.6" cy="435.5" r="1.3"/><circle cx="277.5" cy="435.2" r="1.3"/><circle cx="279.5" cy="435.2" r="1.3"/><circle cx="281.7" cy="434.4" r="1.3"/><circle cx="283.4" cy="434.2" r="1.3"/><circle cx="285.6" cy="435.2" r="1.3"/><circle cx="287.7" cy="434.7" r="1.3"/><circle cx="289.5" cy="434.9" r="1.3"/><circle cx="291.6" cy="434.5" r="1.3"/><circle cx="293.4" cy="434.6" r="1.3"/><circle cx="295.3" cy="435.5" r="1.3"/><circle cx="297.3" cy="434.5" r="1.3"/><circle cx="299.6" cy="435.8" r="1.3"/><circle cx="301.6" cy="434.8" r="1.3"/><circle cx="303.4" cy="435.3" r="1.3"/><circle cx="305.4" cy="434" r="1.3"/></g>
<g fill="#E41A1C" stroke="#fff" stroke-width="0.3"><circle cx="239.6" cy="437.3" r="1.3"/><circle cx="241.4" cy="437.1" r="1.3"/><circle cx="243.3" cy="437.2" r="1.3"/><circle cx="245.6" cy="438.4" r="1.3"/><circle cx="247.6" cy="438.3" r="1.3"/><circle cx="249.4" cy="438.2" r="1.3"/><circle cx="251.7" cy="437.9" r="1.3"/><circle cx="253.6" cy="437.9" r="1.3"/><circle cx="255.3" cy="437.3" r="1.3"/><circle cx="257.4" cy="437.8" r="1.3"/><circle cx="259.7" cy="438.1" r="1.3"/><circle cx="261.6" cy="437.4" r="1.3"/><circle cx="263.5" cy="437.8" r="1.3"/><circle cx="265.5" cy="439" r="1.3"/><circle cx="267.4" cy="438.2" r="1.3"/><circle cx="269.5" cy="438" r="1.3"/><circle cx="271.6" cy="437.8" r="1.3"/><circle cx="273.6" cy="437.5" r="1.3"/><circle cx="275.5" cy="438.5" r="1.3"/><circle cx="277.4" cy="437.1" r="1.3"/><circle cx="279.6" cy="438.4" r="1.3"/><circle cx="281.3" cy="438.2" r="1.3"/><circle cx="283.6" cy="437.6" r="1.3"/><circle cx="285.5" cy="438.1" r="1.3"/><circle cx="287.6" cy="438.9" r="1.3"/><circle cx="289.4" cy="437.3" r="1.3"/><circle cx="291.7" cy="437.3" r="1.3"/><circle cx="293.4" cy="438" r="1.3"/><circle cx="295.6" cy="437.4" r="1.3"/><circle cx="297.4" cy="437.9" r="1.3"/><circle cx="299.4" cy="437.3" r="1.3"/><circle cx="301.3" cy="438.5" r="1.3"/><circle cx="303.6" cy="438.9" r="1.3"/><circle cx="305.6" cy="437.6" r="1.3"/></g>
<g fill="#E41A1C" stroke="#fff" stroke-width="0.3"><circle cx="239.7" cy="443.2" r="1.3"/><circle cx="241" cy="443.3" r="1.3"/><circle cx="242.7" cy="443.1" r="1.3"/><circle cx="244.3" cy="443.4" r="1.3"/><circle cx="245.9" cy="443.6" r="1.3"/><circle cx="247.4" cy="443.3" r="1.3"/><circle cx="248.9" cy="443.1" r="1.3"/><circle cx="250.6" cy="443.4" r="1.3"/><circle cx="252.3" cy="443.6" r="1.3"/><circle cx="253.8" cy="443" r="1.3"/><circle cx="255.4" cy="443.4" r="1.3"/><circle cx="257" cy="443.9" r="1.3"/><circle cx="258.7" cy="443.8" r="1.3"/><circle cx="260.4" cy="443.2" r="1.3"/><circle cx="261.9" cy="443.6" r="1.3"/><circle cx="263.3" cy="442.9" r="1.3"/><circle cx="265.2" cy="443" r="1.3"/><circle cx="266.6" cy="443.3" r="1.3"/><circle cx="268.4" cy="443.2" r="1.3"/><circle cx="270" cy="443.7" r="1.3"/><circle cx="271.5" cy="443.5" r="1.3"/><circle cx="273" cy="443" r="1.3"/><circle cx="274.6" cy="443.2" r="1.3"/><circle cx="276.2" cy="443" r="1.3"/><circle cx="277.8" cy="443.9" r="1.3"/><circle cx="279.7" cy="443.1" r="1.3"/><circle cx="281.1" cy="443.4" r="1.3"/><circle cx="282.6" cy="443.3" r="1.3"/><circle cx="284.3" cy="443" r="1.3"/><circle cx="285.8" cy="443.3" r="1.3"/><circle cx="287.4" cy="443.5" r="1.3"/><circle cx="289.2" cy="442.9" r="1.3"/><circle cx="290.8" cy="443.5" r="1.3"/><circle cx="292.5" cy="443.6" r="1.3"/><circle cx="294.1" cy="443.6" r="1.3"/><circle cx="295.4" cy="443.7" r="1.3"/><circle cx="297.3" cy="443.4" r="1.3"/><circle cx="298.6" cy="443.7" r="1.3"/><circle cx="300.3" cy="443.6" r="1.3"/><circle cx="302.1" cy="443.2" r="1.3"/><circle cx="303.6" cy="443.8" r="1.3"/><circle cx="305.1" cy="443.7" r="1.3"/><circle cx="306.6" cy="443.8" r="1.3"/></g>
<g fill="#E41A1C" stroke="#fff" stroke-width="0.3"><circle cx="239.6" cy="445.6" r="1.3"/><circle cx="240.9" cy="445.3" r="1.3"/><circle cx="242.8" cy="446.2" r="1.3"/><circle cx="244.4" cy="445.4" r="1.3"/><circle cx="245.7" cy="445.6" r="1.3"/><circle cx="247.4" cy="445.5" r="1.3"/><circle cx="249.3" cy="445.7" r="1.3"/><circle cx="250.8" cy="445.4" r="1.3"/><circle cx="252.2" cy="445.7" r="1.3"/><circle cx="254.1" cy="446.2" r="1.3"/><circle cx="255.5" cy="445.8" r="1.3"/><circle cx="256.9" cy="446.2" r="1.3"/><circle cx="258.6" cy="446.1" r="1.3"/><circle cx="260.1" cy="445.6" r="1.3"/><circle cx="261.8" cy="445.7" r="1.3"/><circle cx="263.3" cy="445.4" r="1.3"/><circle cx="265.2" cy="445.8" r="1.3"/><circle cx="266.7" cy="446.2" r="1.3"/><circle cx="268.1" cy="445.6" r="1.3"/><circle cx="269.8" cy="445.3" r="1.3"/><circle cx="271.6" cy="445.9" r="1.3"/><circle cx="272.9" cy="446.2" r="1.3"/><circle cx="274.8" cy="446" r="1.3"/><circle cx="276.3" cy="446" r="1.3"/><circle cx="277.8" cy="446.1" r="1.3"/><circle cx="279.6" cy="446.3" r="1.3"/><circle cx="281.2" cy="445.5" r="1.3"/><circle cx="282.9" cy="446.1" r="1.3"/><circle cx="284.5" cy="445.5" r="1.3"/><circle cx="286" cy="445.5" r="1.3"/><circle cx="287.5" cy="445.6" r="1.3"/><circle cx="289.2" cy="445.6" r="1.3"/><circle cx="290.7" cy="445.9" r="1.3"/><circle cx="292.1" cy="445.3" r="1.3"/><circle cx="294.1" cy="445.7" r="1.3"/><circle cx="295.6" cy="446.3" r="1.3"/><circle cx="297.2" cy="445.5" r="1.3"/><circle cx="298.7" cy="446" r="1.3"/><circle cx="300.5" cy="446.2" r="1.3"/><circle cx="302" cy="446.2" r="1.3"/><circle cx="303.4" cy="446" r="1.3"/><circle cx="305.3" cy="445.6" r="1.3"/><circle cx="306.8" cy="446.3" r="1.3"/></g>
<g fill="#E41A1C" stroke="#fff" stroke-width="0.3"><circle cx="239.5" cy="447.8" r="1.3"/><circle cx="241" cy="448.2" r="1.3"/><circle cx="242.6" cy="448.7" r="1.3"/><circle cx="244.2" cy="448.4" r="1.3"/><circle cx="245.8" cy="448.2" r="1.3"/><circle cx="247.4" cy="448.6" r="1.3"/><circle cx="249.1" cy="448.5" r="1.3"/><circle cx="250.6" cy="448.1" r="1.3"/><circle cx="252.5" cy="447.8" r="1.3"/><circle cx="253.7" cy="448.1" r="1.3"/><circle cx="255.3" cy="448.2" r="1.3"/><circle cx="257" cy="447.9" r="1.3"/><circle cx="258.8" cy="448" r="1.3"/><circle cx="260.4" cy="447.8" r="1.3"/><circle cx="262" cy="448" r="1.3"/><circle cx="263.4" cy="447.9" r="1.3"/><circle cx="265.1" cy="448.4" r="1.3"/><circle cx="266.8" cy="448.3" r="1.3"/><circle cx="268.3" cy="447.9" r="1.3"/><circle cx="269.9" cy="448.3" r="1.3"/><circle cx="271.5" cy="448.4" r="1.3"/><circle cx="273.2" cy="447.9" r="1.3"/><circle cx="274.6" cy="448.4" r="1.3"/><circle cx="276.2" cy="447.8" r="1.3"/><circle cx="277.8" cy="448.4" r="1.3"/><circle cx="279.7" cy="448.1" r="1.3"/><circle cx="281.2" cy="448.6" r="1.3"/><circle cx="282.7" cy="448.5" r="1.3"/><circle cx="284.2" cy="448.2" r="1.3"/><circle cx="285.7" cy="447.9" r="1.3"/><circle cx="287.6" cy="448.2" r="1.3"/><circle cx="289.3" cy="448.3" r="1.3"/><circle cx="290.9" cy="448.5" r="1.3"/><circle cx="292.5" cy="448.4" r="1.3"/><circle cx="293.9" cy="448" r="1.3"/><circle cx="295.7" cy="448.4" r="1.3"/><circle cx="297.2" cy="448.4" r="1.3"/><circle cx="298.9" cy="447.9" r="1.3"/><circle cx="300.4" cy="448" r="1.3"/><circle cx="301.9" cy="448" r="1.3"/><circle cx="303.4" cy="448.3" r="1.3"/><circle cx="305.2" cy="447.9" r="1.3"/><circle cx="306.9" cy="448.6" r="1.3"/></g>
<g fill="#E41A1C" stroke="#fff" stroke-width="0.3"><circle cx="241" cy="429.5" r="1.3"/><circle cx="245" cy="430" r="1.3"/><circle cx="252" cy="429.8" r="1.3"/><circle cx="258" cy="429.5" r="1.3"/><circle cx="266" cy="430" r="1.3"/><circle cx="275" cy="430.2" r="1.3"/><circle cx="286" cy="430.4" r="1.3"/><circle cx="297" cy="430.5" r="1.3"/><circle cx="243" cy="450.5" r="1.3"/><circle cx="250" cy="451" r="1.3"/><circle cx="262" cy="450.6" r="1.3"/><circle cx="290" cy="450.8" r="1.3"/><circle cx="300" cy="450.5" r="1.3"/></g>
<g fill="#4DAF4A" stroke="#fff" stroke-width="0.3"><circle cx="307.5" cy="433.5" r="1.3"/><circle cx="309.1" cy="434.1" r="1.3"/><circle cx="311.2" cy="434.5" r="1.3"/><circle cx="313" cy="433.4" r="1.3"/><circle cx="314.8" cy="434.3" r="1.3"/><circle cx="316.7" cy="434.2" r="1.3"/><circle cx="318.8" cy="434.1" r="1.3"/><circle cx="320.6" cy="434.5" r="1.3"/><circle cx="322.4" cy="434.4" r="1.3"/><circle cx="324.5" cy="433.9" r="1.3"/><circle cx="326.4" cy="433.4" r="1.3"/><circle cx="328.3" cy="433.8" r="1.3"/><circle cx="329.9" cy="434.2" r="1.3"/><circle cx="332.1" cy="433.9" r="1.3"/><circle cx="333.8" cy="433.5" r="1.3"/><circle cx="335.9" cy="434" r="1.3"/><circle cx="337.6" cy="434.1" r="1.3"/><circle cx="339.6" cy="434.6" r="1.3"/><circle cx="341.6" cy="433.6" r="1.3"/><circle cx="343.2" cy="434.3" r="1.3"/><circle cx="345.1" cy="434.4" r="1.3"/><circle cx="347.3" cy="433.6" r="1.3"/><circle cx="349.3" cy="433.5" r="1.3"/><circle cx="351.1" cy="434.2" r="1.3"/><circle cx="352.7" cy="433.8" r="1.3"/><circle cx="354.8" cy="433.6" r="1.3"/><circle cx="356.8" cy="434.2" r="1.3"/><circle cx="358.5" cy="433.7" r="1.3"/><circle cx="360.4" cy="434.1" r="1.3"/><circle cx="362.3" cy="434.5" r="1.3"/><circle cx="364.4" cy="434.5" r="1.3"/><circle cx="366.3" cy="433.9" r="1.3"/><circle cx="368.2" cy="434.4" r="1.3"/><circle cx="370.2" cy="434.5" r="1.3"/><circle cx="372" cy="434.1" r="1.3"/><circle cx="373.6" cy="434" r="1.3"/><circle cx="375.5" cy="433.6" r="1.3"/><circle cx="377.7" cy="434.5" r="1.3"/><circle cx="379.4" cy="434.6" r="1.3"/><circle cx="381.4" cy="433.7" r="1.3"/><circle cx="383.4" cy="433.8" r="1.3"/><circle cx="385.1" cy="434.4" r="1.3"/><circle cx="387.1" cy="433.6" r="1.3"/><circle cx="388.8" cy="434.1" r="1.3"/><circle cx="391.1" cy="433.5" r="1.3"/><circle cx="392.8" cy="434" r="1.3"/><circle cx="394.6" cy="434.6" r="1.3"/><circle cx="396.7" cy="434" r="1.3"/><circle cx="398.4" cy="433.5" r="1.3"/><circle cx="400.2" cy="434.1" r="1.3"/></g>
<g fill="#4DAF4A" stroke="#fff" stroke-width="0.3"><circle cx="307.3" cy="438.2" r="1.3"/><circle cx="309.2" cy="437.7" r="1.3"/><circle cx="311" cy="438.1" r="1.3"/><circle cx="313.1" cy="437.9" r="1.3"/><circle cx="314.7" cy="438.1" r="1.3"/><circle cx="316.7" cy="437.6" r="1.3"/><circle cx="318.7" cy="438.1" r="1.3"/><circle cx="320.8" cy="437.5" r="1.3"/><circle cx="322.4" cy="438.2" r="1.3"/><circle cx="324.5" cy="438" r="1.3"/><circle cx="326.1" cy="437.8" r="1.3"/><circle cx="328.1" cy="437.4" r="1.3"/><circle cx="330.1" cy="437.4" r="1.3"/><circle cx="332" cy="437.4" r="1.3"/><circle cx="334.1" cy="438.3" r="1.3"/><circle cx="335.9" cy="437.4" r="1.3"/><circle cx="337.7" cy="437.2" r="1.3"/><circle cx="339.4" cy="438.4" r="1.3"/><circle cx="341.7" cy="437.3" r="1.3"/><circle cx="343.4" cy="438.1" r="1.3"/><circle cx="345.2" cy="438.4" r="1.3"/><circle cx="347.1" cy="437.3" r="1.3"/><circle cx="349.1" cy="438.3" r="1.3"/><circle cx="351.2" cy="438.3" r="1.3"/><circle cx="352.9" cy="437.3" r="1.3"/><circle cx="354.8" cy="437.9" r="1.3"/><circle cx="356.6" cy="438.3" r="1.3"/><circle cx="358.8" cy="437.4" r="1.3"/><circle cx="360.7" cy="437.5" r="1.3"/><circle cx="362.2" cy="437.9" r="1.3"/><circle cx="364.4" cy="437.4" r="1.3"/><circle cx="366.2" cy="437.9" r="1.3"/><circle cx="368.2" cy="438.3" r="1.3"/><circle cx="369.9" cy="437.4" r="1.3"/><circle cx="371.9" cy="437.5" r="1.3"/><circle cx="373.6" cy="437.8" r="1.3"/><circle cx="375.5" cy="438.2" r="1.3"/><circle cx="377.4" cy="437.5" r="1.3"/><circle cx="379.5" cy="438.3" r="1.3"/><circle cx="381.4" cy="437.3" r="1.3"/><circle cx="383.2" cy="437.9" r="1.3"/><circle cx="385.1" cy="438" r="1.3"/><circle cx="387.2" cy="437.9" r="1.3"/><circle cx="389.2" cy="437.8" r="1.3"/><circle cx="391" cy="438.3" r="1.3"/><circle cx="392.7" cy="438.3" r="1.3"/><circle cx="394.6" cy="437.3" r="1.3"/><circle cx="396.7" cy="438.2" r="1.3"/><circle cx="398.4" cy="438.4" r="1.3"/><circle cx="400.5" cy="437.5" r="1.3"/></g>
<g fill="#984EA3" stroke="#fff" stroke-width="0.3"><circle cx="307.2" cy="441.3" r="1.3"/><circle cx="309.3" cy="441.1" r="1.3"/><circle cx="311" cy="441.5" r="1.3"/><circle cx="313.1" cy="441.1" r="1.3"/><circle cx="315" cy="441.5" r="1.3"/><circle cx="317" cy="440.9" r="1.3"/><circle cx="318.5" cy="441.5" r="1.3"/><circle cx="320.7" cy="440.8" r="1.3"/><circle cx="322.4" cy="441.3" r="1.3"/><circle cx="324.3" cy="441" r="1.3"/><circle cx="326.4" cy="441.5" r="1.3"/><circle cx="328.2" cy="441.5" r="1.3"/><circle cx="330" cy="441" r="1.3"/><circle cx="331.9" cy="441.4" r="1.3"/><circle cx="333.9" cy="441.3" r="1.3"/><circle cx="335.9" cy="441.6" r="1.3"/><circle cx="337.8" cy="440.8" r="1.3"/><circle cx="339.8" cy="440.8" r="1.3"/><circle cx="341.5" cy="441.4" r="1.3"/><circle cx="343.4" cy="440.9" r="1.3"/><circle cx="345.4" cy="440.9" r="1.3"/><circle cx="347.3" cy="441.7" r="1.3"/><circle cx="349" cy="441.2" r="1.3"/><circle cx="351.1" cy="440.8" r="1.3"/><circle cx="353.1" cy="441.1" r="1.3"/><circle cx="354.9" cy="441.5" r="1.3"/><circle cx="356.7" cy="441.3" r="1.3"/><circle cx="358.5" cy="440.7" r="1.3"/><circle cx="360.6" cy="440.8" r="1.3"/><circle cx="362.5" cy="440.9" r="1.3"/><circle cx="364.1" cy="441.7" r="1.3"/><circle cx="366.3" cy="440.7" r="1.3"/><circle cx="368.2" cy="441.6" r="1.3"/><circle cx="370.2" cy="441.5" r="1.3"/><circle cx="371.9" cy="441.6" r="1.3"/><circle cx="373.9" cy="441.5" r="1.3"/><circle cx="375.9" cy="440.7" r="1.3"/><circle cx="377.5" cy="441.2" r="1.3"/><circle cx="379.7" cy="441.4" r="1.3"/><circle cx="381.6" cy="441.2" r="1.3"/><circle cx="383.3" cy="441.6" r="1.3"/><circle cx="385.2" cy="441" r="1.3"/><circle cx="386.9" cy="441.7" r="1.3"/></g>
<g fill="#984EA3" stroke="#fff" stroke-width="0.3"><circle cx="307.4" cy="444.1" r="1.3"/><circle cx="309" cy="444.9" r="1.3"/><circle cx="310.9" cy="444.6" r="1.3"/><circle cx="313" cy="444.9" r="1.3"/><circle cx="315.1" cy="445" r="1.3"/><circle cx="317" cy="444.2" r="1.3"/><circle cx="318.6" cy="444.7" r="1.3"/><circle cx="320.5" cy="444.5" r="1.3"/><circle cx="322.6" cy="444.8" r="1.3"/><circle cx="324.5" cy="445" r="1.3"/><circle cx="326.2" cy="444.3" r="1.3"/><circle cx="328.1" cy="445" r="1.3"/><circle cx="330.2" cy="444.9" r="1.3"/><circle cx="332.1" cy="444.6" r="1.3"/><circle cx="333.9" cy="444.6" r="1.3"/><circle cx="335.7" cy="444.5" r="1.3"/><circle cx="337.9" cy="445" r="1.3"/><circle cx="339.7" cy="444.5" r="1.3"/><circle cx="341.6" cy="444.1" r="1.3"/><circle cx="343.4" cy="444.8" r="1.3"/><circle cx="345.4" cy="444.8" r="1.3"/><circle cx="347" cy="444.7" r="1.3"/><circle cx="349.1" cy="444.8" r="1.3"/><circle cx="350.8" cy="444.9" r="1.3"/><circle cx="352.8" cy="444.7" r="1.3"/><circle cx="354.6" cy="444.7" r="1.3"/><circle cx="356.7" cy="445.1" r="1.3"/><circle cx="358.7" cy="444.3" r="1.3"/><circle cx="360.6" cy="445" r="1.3"/><circle cx="362.5" cy="444.8" r="1.3"/><circle cx="364.3" cy="444.9" r="1.3"/><circle cx="366.1" cy="444.2" r="1.3"/><circle cx="368" cy="444.4" r="1.3"/><circle cx="370.1" cy="444.4" r="1.3"/><circle cx="372" cy="445" r="1.3"/><circle cx="373.6" cy="444.2" r="1.3"/><circle cx="375.8" cy="444.9" r="1.3"/><circle cx="377.7" cy="444.4" r="1.3"/><circle cx="379.6" cy="444.4" r="1.3"/><circle cx="381.2" cy="445" r="1.3"/><circle cx="383.5" cy="445.1" r="1.3"/><circle cx="385.3" cy="445.1" r="1.3"/><circle cx="387" cy="444.3" r="1.3"/></g>
<g fill="#984EA3" stroke="#fff" stroke-width="0.3"><circle cx="307.3" cy="448.3" r="1.3"/><circle cx="309.4" cy="447.8" r="1.3"/><circle cx="311" cy="448.1" r="1.3"/><circle cx="312.9" cy="448.1" r="1.3"/><circle cx="314.8" cy="448" r="1.3"/><circle cx="316.7" cy="448.4" r="1.3"/><circle cx="318.9" cy="448" r="1.3"/><circle cx="320.8" cy="448.3" r="1.3"/><circle cx="322.5" cy="447.8" r="1.3"/><circle cx="324.2" cy="447.6" r="1.3"/><circle cx="326.2" cy="448.3" r="1.3"/><circle cx="328.3" cy="447.5" r="1.3"/><circle cx="329.9" cy="447.7" r="1.3"/><circle cx="331.8" cy="448.1" r="1.3"/><circle cx="333.9" cy="447.8" r="1.3"/><circle cx="335.6" cy="447.5" r="1.3"/><circle cx="337.7" cy="447.6" r="1.3"/><circle cx="339.5" cy="447.8" r="1.3"/><circle cx="341.5" cy="448.5" r="1.3"/><circle cx="343.4" cy="448" r="1.3"/><circle cx="345.4" cy="448.4" r="1.3"/><circle cx="347" cy="448.2" r="1.3"/><circle cx="349.2" cy="448.4" r="1.3"/><circle cx="350.8" cy="448.2" r="1.3"/><circle cx="352.7" cy="447.5" r="1.3"/><circle cx="354.7" cy="447.7" r="1.3"/><circle cx="356.7" cy="448" r="1.3"/><circle cx="358.7" cy="447.7" r="1.3"/><circle cx="360.6" cy="448.1" r="1.3"/><circle cx="362.6" cy="448" r="1.3"/><circle cx="364.4" cy="448.4" r="1.3"/><circle cx="366" cy="447.9" r="1.3"/><circle cx="368.2" cy="447.5" r="1.3"/><circle cx="370" cy="448.4" r="1.3"/><circle cx="371.9" cy="448.4" r="1.3"/><circle cx="374" cy="448.2" r="1.3"/><circle cx="375.8" cy="448.1" r="1.3"/><circle cx="377.8" cy="448.2" r="1.3"/><circle cx="379.4" cy="448.1" r="1.3"/><circle cx="381.2" cy="447.8" r="1.3"/><circle cx="383.2" cy="448.4" r="1.3"/><circle cx="385.3" cy="448.1" r="1.3"/><circle cx="387" cy="448" r="1.3"/></g>
<g fill="#984EA3" stroke="#fff" stroke-width="0.3"><circle cx="394.4" cy="443.3" r="1.3"/><circle cx="394.4" cy="446.7" r="1.3"/><circle cx="337.4" cy="453.4" r="1.3"/><circle cx="368.7" cy="451" r="1.3"/><circle cx="348.6" cy="461.2" r="1.3"/><circle cx="393.3" cy="462.3" r="1.3"/><circle cx="393.3" cy="464.6" r="1.3"/><circle cx="322.8" cy="466.8" r="1.3"/><circle cx="337.4" cy="468" r="1.3"/><circle cx="337.4" cy="470.6" r="1.3"/><circle cx="301" cy="466.7" r="1.3"/><circle cx="314.7" cy="457.5" r="1.3"/></g>
<g fill="#984EA3" stroke="#fff" stroke-width="0.3"><circle cx="305.1" cy="457.7" r="1.3"/><circle cx="306.4" cy="458" r="1.3"/><circle cx="308.2" cy="458" r="1.3"/><circle cx="309.7" cy="457.9" r="1.3"/><circle cx="311.5" cy="458" r="1.3"/><circle cx="312.9" cy="457.7" r="1.3"/><circle cx="314.6" cy="458.1" r="1.3"/><circle cx="316.3" cy="458.1" r="1.3"/><circle cx="317.8" cy="457.9" r="1.3"/><circle cx="319.2" cy="457.8" r="1.3"/><circle cx="320.9" cy="457.8" r="1.3"/><circle cx="322.8" cy="458" r="1.3"/><circle cx="324.3" cy="458" r="1.3"/><circle cx="325.6" cy="458.1" r="1.3"/><circle cx="327.3" cy="458.1" r="1.3"/><circle cx="328.9" cy="457.9" r="1.3"/><circle cx="330.7" cy="457.9" r="1.3"/><circle cx="332.3" cy="457.9" r="1.3"/><circle cx="333.7" cy="458.1" r="1.3"/><circle cx="335.3" cy="458" r="1.3"/><circle cx="337" cy="458" r="1.3"/><circle cx="338.4" cy="457.7" r="1.3"/><circle cx="340.4" cy="457.9" r="1.3"/><circle cx="341.7" cy="457.8" r="1.3"/><circle cx="343.5" cy="457.9" r="1.3"/><circle cx="345.1" cy="458" r="1.3"/><circle cx="346.5" cy="457.7" r="1.3"/><circle cx="348.2" cy="457.8" r="1.3"/><circle cx="349.7" cy="457.9" r="1.3"/><circle cx="351.3" cy="457.8" r="1.3"/><circle cx="352.9" cy="457.9" r="1.3"/><circle cx="354.5" cy="458" r="1.3"/><circle cx="356.4" cy="457.9" r="1.3"/><circle cx="357.8" cy="457.7" r="1.3"/><circle cx="359.6" cy="458" r="1.3"/><circle cx="360.9" cy="457.9" r="1.3"/><circle cx="362.7" cy="458.1" r="1.3"/><circle cx="364.1" cy="457.9" r="1.3"/><circle cx="365.8" cy="457.8" r="1.3"/><circle cx="367.2" cy="457.9" r="1.3"/><circle cx="368.9" cy="457.8" r="1.3"/><circle cx="370.6" cy="457.8" r="1.3"/><circle cx="372.1" cy="457.9" r="1.3"/><circle cx="373.8" cy="457.8" r="1.3"/><circle cx="375.5" cy="457.8" r="1.3"/><circle cx="377.1" cy="457.9" r="1.3"/><circle cx="378.7" cy="457.9" r="1.3"/><circle cx="380.1" cy="458.1" r="1.3"/><circle cx="381.8" cy="458.1" r="1.3"/></g>
<g fill="#E41A1C" stroke="#fff" stroke-width="0.3"><circle cx="244.4" cy="462.8" r="1.3"/><circle cx="291.4" cy="462.8" r="1.3"/><circle cx="291.4" cy="461" r="1.3"/></g>
<g fill="#377EB8" stroke="#fff" stroke-width="0.3"><circle cx="262" cy="473.6" r="1.3"/><circle cx="263" cy="473.4" r="1.3"/><circle cx="264.2" cy="473.2" r="1.3"/><circle cx="265.8" cy="473.1" r="1.3"/><circle cx="266.9" cy="473.7" r="1.3"/><circle cx="268.2" cy="473.7" r="1.3"/><circle cx="269.6" cy="473.7" r="1.3"/><circle cx="270.9" cy="473.2" r="1.3"/><circle cx="272.1" cy="473.5" r="1.3"/><circle cx="273.6" cy="473.4" r="1.3"/><circle cx="275" cy="473.1" r="1.3"/><circle cx="276" cy="473.1" r="1.3"/><circle cx="277.3" cy="473.3" r="1.3"/><circle cx="278.9" cy="473.2" r="1.3"/><circle cx="279.9" cy="473.1" r="1.3"/><circle cx="281.3" cy="473.5" r="1.3"/><circle cx="282.5" cy="473.5" r="1.3"/><circle cx="283.8" cy="473.2" r="1.3"/><circle cx="285.1" cy="473.7" r="1.3"/><circle cx="286.6" cy="473.2" r="1.3"/><circle cx="287.6" cy="473.3" r="1.3"/><circle cx="289" cy="473.3" r="1.3"/><circle cx="290.3" cy="473.5" r="1.3"/><circle cx="291.6" cy="473.5" r="1.3"/><circle cx="292.8" cy="473.3" r="1.3"/><circle cx="294.4" cy="473" r="1.3"/><circle cx="295.5" cy="473.4" r="1.3"/><circle cx="296.9" cy="473.2" r="1.3"/><circle cx="298.2" cy="473.8" r="1.3"/><circle cx="299.4" cy="473.5" r="1.3"/><circle cx="300.9" cy="473.2" r="1.3"/><circle cx="302.2" cy="473.5" r="1.3"/><circle cx="303.2" cy="473.1" r="1.3"/><circle cx="304.7" cy="473.6" r="1.3"/><circle cx="306.1" cy="473.2" r="1.3"/><circle cx="307.1" cy="473.1" r="1.3"/><circle cx="308.5" cy="473" r="1.3"/><circle cx="309.9" cy="473.8" r="1.3"/><circle cx="311.3" cy="473.7" r="1.3"/><circle cx="312.6" cy="473.5" r="1.3"/><circle cx="313.9" cy="473.7" r="1.3"/><circle cx="315.1" cy="473.5" r="1.3"/><circle cx="316.3" cy="473.1" r="1.3"/><circle cx="317.7" cy="473.2" r="1.3"/><circle cx="319" cy="473.8" r="1.3"/><circle cx="320.3" cy="473.5" r="1.3"/><circle cx="321.5" cy="473.3" r="1.3"/><circle cx="322.7" cy="473.8" r="1.3"/><circle cx="324.4" cy="473.3" r="1.3"/><circle cx="325.4" cy="473.7" r="1.3"/><circle cx="326.7" cy="473.1" r="1.3"/><circle cx="328.1" cy="473.1" r="1.3"/><circle cx="329.5" cy="473.3" r="1.3"/><circle cx="330.6" cy="473.6" r="1.3"/><circle cx="332.2" cy="473.3" r="1.3"/><circle cx="333.3" cy="473.4" r="1.3"/><circle cx="334.7" cy="473.6" r="1.3"/><circle cx="335.9" cy="473.8" r="1.3"/><circle cx="337.2" cy="473.4" r="1.3"/><circle cx="338.4" cy="473.8" r="1.3"/><circle cx="339.7" cy="473.3" r="1.3"/><circle cx="341.1" cy="474.3" r="1.3"/><circle cx="342.3" cy="474.6" r="1.3"/><circle cx="343.8" cy="473.6" r="1.3"/><circle cx="344.9" cy="472.9" r="1.3"/><circle cx="346.3" cy="473.2" r="1.3"/><circle cx="347.6" cy="472.6" r="1.3"/><circle cx="349" cy="473.2" r="1.3"/><circle cx="350.1" cy="473.1" r="1.3"/><circle cx="351.4" cy="473.3" r="1.3"/><circle cx="352.9" cy="472.9" r="1.3"/><circle cx="354" cy="472.6" r="1.3"/><circle cx="355.4" cy="473.2" r="1.3"/><circle cx="356.6" cy="472.9" r="1.3"/><circle cx="358.1" cy="473.2" r="1.3"/><circle cx="359.3" cy="472.7" r="1.3"/><circle cx="360.4" cy="473.1" r="1.3"/><circle cx="362.1" cy="472.5" r="1.3"/><circle cx="363.2" cy="472.9" r="1.3"/><circle cx="364.6" cy="473.2" r="1.3"/><circle cx="365.6" cy="473" r="1.3"/><circle cx="367.3" cy="473.2" r="1.3"/><circle cx="368.2" cy="473.1" r="1.3"/><circle cx="369.7" cy="472.9" r="1.3"/><circle cx="371.1" cy="472.6" r="1.3"/><circle cx="372.1" cy="473.1" r="1.3"/><circle cx="373.7" cy="472.7" r="1.3"/><circle cx="375" cy="473" r="1.3"/><circle cx="376.1" cy="473" r="1.3"/><circle cx="377.3" cy="473.2" r="1.3"/><circle cx="379" cy="472.9" r="1.3"/><circle cx="380.2" cy="473.1" r="1.3"/><circle cx="381.3" cy="472.6" r="1.3"/><circle cx="382.5" cy="472.9" r="1.3"/><circle cx="384" cy="473.1" r="1.3"/><circle cx="385.4" cy="473" r="1.3"/><circle cx="386.5" cy="471.8" r="1.3"/><circle cx="388" cy="471.8" r="1.3"/><circle cx="389.2" cy="472" r="1.3"/><circle cx="390.5" cy="472" r="1.3"/><circle cx="391.8" cy="471.8" r="1.3"/><circle cx="393.1" cy="472.2" r="1.3"/><circle cx="394.6" cy="471.8" r="1.3"/><circle cx="395.6" cy="471.9" r="1.3"/><circle cx="396.9" cy="472.1" r="1.3"/><circle cx="398.3" cy="473" r="1.3"/><circle cx="399.6" cy="472.5" r="1.3"/></g>
<g fill="#FF7F00" stroke="#fff" stroke-width="0.3"><circle cx="295.7" cy="510" r="1.3"/><circle cx="297.2" cy="509.9" r="1.3"/><circle cx="298.5" cy="509.9" r="1.3"/><circle cx="300.2" cy="510.1" r="1.3"/><circle cx="301.8" cy="509.9" r="1.3"/></g>
<g fill="#FF7F00" stroke="#fff" stroke-width="0.3"><circle cx="321" cy="510" r="1.3"/></g>
<g fill="#FF7F00" stroke="#fff" stroke-width="0.3"><circle cx="338" cy="511.5" r="1.3"/><circle cx="339.6" cy="511.7" r="1.3"/><circle cx="341" cy="511.2" r="1.3"/><circle cx="342.4" cy="511.2" r="1.3"/><circle cx="344.2" cy="511.1" r="1.3"/><circle cx="345.6" cy="510.8" r="1.3"/></g>
<g fill="#FF7F00" stroke="#fff" stroke-width="0.3"><circle cx="353" cy="512.1" r="1.3"/><circle cx="354.5" cy="511.8" r="1.3"/><circle cx="356" cy="511.8" r="1.3"/><circle cx="357.5" cy="511.7" r="1.3"/><circle cx="358.9" cy="511.4" r="1.3"/></g>
<g fill="#FF7F00" stroke="#fff" stroke-width="0.3"><circle cx="371.9" cy="509.7" r="1.3"/><circle cx="373.3" cy="509.7" r="1.3"/><circle cx="375.2" cy="509.7" r="1.3"/><circle cx="376.4" cy="509.7" r="1.3"/><circle cx="378" cy="509.8" r="1.3"/><circle cx="379.5" cy="509.3" r="1.3"/><circle cx="381" cy="509.4" r="1.3"/><circle cx="382.3" cy="509.5" r="1.3"/><circle cx="384.1" cy="509.6" r="1.3"/><circle cx="385.5" cy="509.6" r="1.3"/><circle cx="387" cy="509.5" r="1.3"/><circle cx="388.6" cy="509.4" r="1.3"/></g>
<line x1="230.5" y1="425.6" x2="232.1" y2="425.6" stroke="#777" stroke-width="0.5"/>
<text x="227.5" y="427.75" font-size="4.5" fill="#1a1a1a" text-anchor="end" font-family="DejaVu Sans" stroke="#1a1a1a" stroke-width="0.14">14</text>
<line x1="230.5" y1="447.9" x2="232.1" y2="447.9" stroke="#777" stroke-width="0.5"/>
<text x="227.5" y="450.05" font-size="4.5" fill="#1a1a1a" text-anchor="end" font-family="DejaVu Sans" stroke="#1a1a1a" stroke-width="0.14">12</text>
<line x1="230.5" y1="470.2" x2="232.1" y2="470.2" stroke="#777" stroke-width="0.5"/>
<text x="227.5" y="472.35" font-size="4.5" fill="#1a1a1a" text-anchor="end" font-family="DejaVu Sans" stroke="#1a1a1a" stroke-width="0.14">10</text>
<line x1="230.5" y1="492.5" x2="232.1" y2="492.5" stroke="#777" stroke-width="0.5"/>
<text x="227.5" y="494.65" font-size="4.5" fill="#1a1a1a" text-anchor="end" font-family="DejaVu Sans" stroke="#1a1a1a" stroke-width="0.14">8</text>
<line x1="230.5" y1="514.8" x2="232.1" y2="514.8" stroke="#777" stroke-width="0.5"/>
<text x="227.5" y="516.95" font-size="4.5" fill="#1a1a1a" text-anchor="end" font-family="DejaVu Sans" stroke="#1a1a1a" stroke-width="0.14">6</text>
<line x1="239.4" y1="514.8" x2="239.4" y2="516.4" stroke="#777" stroke-width="0.5"/>
<text x="239.4" y="525.65" font-size="4.5" fill="#1a1a1a" text-anchor="middle" font-family="DejaVu Sans" stroke="#1a1a1a" stroke-width="0.14">16.50</text>
<line x1="259.4" y1="514.8" x2="259.4" y2="516.4" stroke="#777" stroke-width="0.5"/>
<text x="259.45" y="525.65" font-size="4.5" fill="#1a1a1a" text-anchor="middle" font-family="DejaVu Sans" stroke="#1a1a1a" stroke-width="0.14">16.75</text>
<line x1="279.5" y1="514.8" x2="279.5" y2="516.4" stroke="#777" stroke-width="0.5"/>
<text x="279.5" y="525.65" font-size="4.5" fill="#1a1a1a" text-anchor="middle" font-family="DejaVu Sans" stroke="#1a1a1a" stroke-width="0.14">17.00</text>
<line x1="299.6" y1="514.8" x2="299.6" y2="516.4" stroke="#777" stroke-width="0.5"/>
<text x="299.55" y="525.65" font-size="4.5" fill="#1a1a1a" text-anchor="middle" font-family="DejaVu Sans" stroke="#1a1a1a" stroke-width="0.14">17.25</text>
<line x1="319.6" y1="514.8" x2="319.6" y2="516.4" stroke="#777" stroke-width="0.5"/>
<text x="319.6" y="525.65" font-size="4.5" fill="#1a1a1a" text-anchor="middle" font-family="DejaVu Sans" stroke="#1a1a1a" stroke-width="0.14">17.50</text>
<line x1="339.6" y1="514.8" x2="339.6" y2="516.4" stroke="#777" stroke-width="0.5"/>
<text x="339.65" y="525.65" font-size="4.5" fill="#1a1a1a" text-anchor="middle" font-family="DejaVu Sans" stroke="#1a1a1a" stroke-width="0.14">17.75</text>
<line x1="359.7" y1="514.8" x2="359.7" y2="516.4" stroke="#777" stroke-width="0.5"/>
<text x="359.7" y="525.65" font-size="4.5" fill="#1a1a1a" text-anchor="middle" font-family="DejaVu Sans" stroke="#1a1a1a" stroke-width="0.14">18.00</text>
<line x1="379.8" y1="514.8" x2="379.8" y2="516.4" stroke="#777" stroke-width="0.5"/>
<text x="379.75" y="525.65" font-size="4.5" fill="#1a1a1a" text-anchor="middle" font-family="DejaVu Sans" stroke="#1a1a1a" stroke-width="0.14">18.25</text>
<line x1="399.8" y1="514.8" x2="399.8" y2="516.4" stroke="#777" stroke-width="0.5"/>
<text x="399.8" y="525.65" font-size="4.5" fill="#1a1a1a" text-anchor="middle" font-family="DejaVu Sans" stroke="#1a1a1a" stroke-width="0.14">18.50</text>
<rect x="232.1" y="413.9" width="174.8" height="100.9" fill="none" stroke="#777" stroke-width="0.7"/>
<text x="215" y="469.69" font-size="6.6" fill="#222" text-anchor="middle" font-family="DejaVu Sans" transform="rotate(-90 215 466.8)" stroke="#222" stroke-width="0.14">SOG</text>
<text x="299.7" y="533.39" font-size="6.6" fill="#222" font-family="DejaVu Sans" stroke="#222" stroke-width="0.14">Longitude</text>
<rect x="234" y="463.9" width="38.8" height="50.6" fill="#fff" fill-opacity="0.8" stroke="#ddd" stroke-width="0.4" rx="0.8"/>
<text x="253.4" y="470.49" font-size="5.0" fill="#111" text-anchor="middle" font-family="DejaVu Sans" stroke="#111" stroke-width="0.12">cluster_GMM</text>
<circle cx="250" cy="475.1" r="1.55" fill="#E41A1C" stroke="#fff" stroke-width="0.3"/>
<text x="260.5" y="477.49" font-size="5.0" fill="#111" text-anchor="middle" font-family="DejaVu Sans" stroke="#111" stroke-width="0.12">0</text>
<circle cx="250" cy="482.2" r="1.55" fill="#377EB8" stroke="#fff" stroke-width="0.3"/>
<text x="260.5" y="484.59" font-size="5.0" fill="#111" text-anchor="middle" font-family="DejaVu Sans" stroke="#111" stroke-width="0.12">1</text>
<circle cx="250" cy="489.3" r="1.55" fill="#4DAF4A" stroke="#fff" stroke-width="0.3"/>
<text x="260.5" y="491.69" font-size="5.0" fill="#111" text-anchor="middle" font-family="DejaVu Sans" stroke="#111" stroke-width="0.12">2</text>
<circle cx="250" cy="496.4" r="1.55" fill="#984EA3" stroke="#fff" stroke-width="0.3"/>
<text x="260.5" y="498.79" font-size="5.0" fill="#111" text-anchor="middle" font-family="DejaVu Sans" stroke="#111" stroke-width="0.12">3</text>
<circle cx="250" cy="503.5" r="1.55" fill="#FF7F00" stroke="#fff" stroke-width="0.3"/>
<text x="260.5" y="505.89" font-size="5.0" fill="#111" text-anchor="middle" font-family="DejaVu Sans" stroke="#111" stroke-width="0.12">4</text>
<circle cx="250" cy="510.6" r="1.55" fill="#FFFF33" stroke="#fff" stroke-width="0.3"/>
<text x="260.5" y="512.99" font-size="5.0" fill="#111" text-anchor="middle" font-family="DejaVu Sans" stroke="#111" stroke-width="0.12">5</text>
<rect x="283" y="505.3" width="116.5" height="9.8" fill="none" stroke="#E2406B" stroke-width="0.9"/>
<text x="337.8" y="545.0" font-size="13" fill="#000" text-anchor="middle" font-family="Liberation Sans">(h)</text>
</g></svg></body></html>
